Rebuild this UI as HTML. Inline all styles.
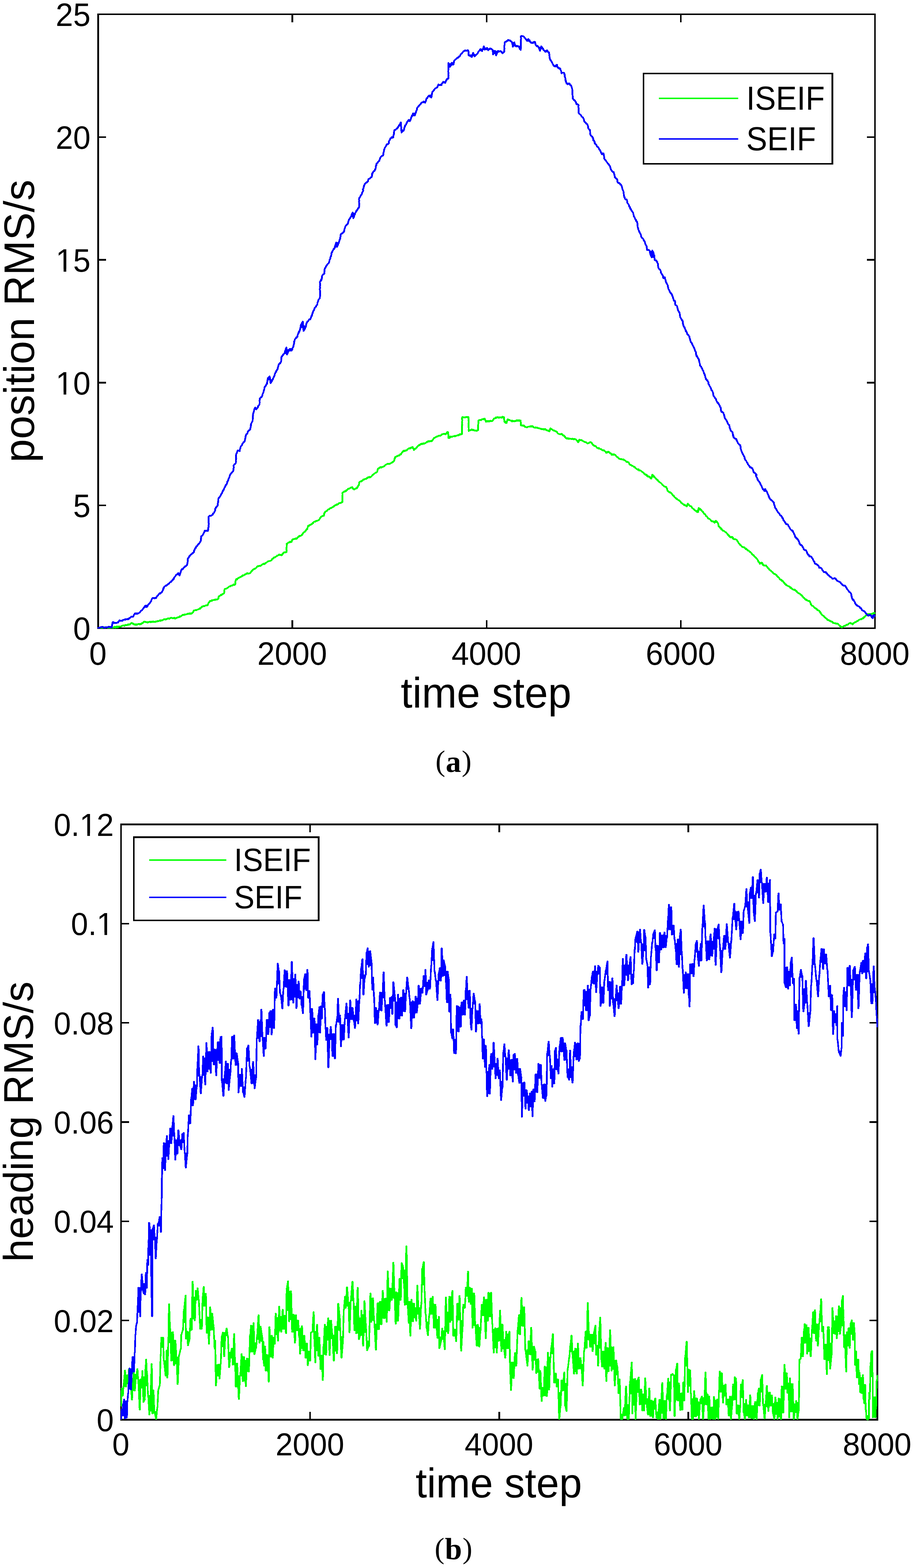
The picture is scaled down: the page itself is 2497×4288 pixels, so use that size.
<!DOCTYPE html>
<html lang="en">
<head>
<meta charset="utf-8">
<title>Position and heading RMS/s: ISEIF vs SEIF</title>
<style>
html,body{margin:0;padding:0;background:#fff;overflow:hidden;}
body{width:2497px;height:4288px;overflow:hidden;}
svg{display:block;}
text{fill:#000;text-rendering:geometricPrecision;}
</style>
</head>
<body>
<svg width="2497" height="4288" viewBox="0 0 2497 4288">
<rect width="2497" height="4288" fill="#fff"/>
<g id="plot-a">
<path d="M266 37h5v1683h-5zM2391 37h4v1683h-4zM266 37h2129v4h-2129zM266 1716h2129v4h-2129zM797 1696h5v20h-5zM797 41h5v20h-5zM1329 1696h4v20h-4zM1329 41h4v20h-4zM1860 1696h4v20h-4zM1860 41h4v20h-4zM271 1380h19v4h-19zM2371 1380h20v4h-20zM271 1044h19v5h-19zM2371 1044h20v5h-20zM271 708h19v5h-19zM2371 708h20v5h-20zM271 373h19v4h-19zM2371 373h20v4h-20z" fill="#000" shape-rendering="crispEdges"/>
<path d="M266.5 1716v2M267.5 1715v4M268.5 1715v4M269.5 1715v4M270.5 1715v4M271.5 1715v4M272.5 1715v4M273.5 1715v4M274.5 1714v5M275.5 1714v5M276.5 1714v5M277.5 1714v5M278.5 1714v5M279.5 1714v5M280.5 1713v6M281.5 1714v5M282.5 1714v5M283.5 1714v5M284.5 1714v5M285.5 1713v6M286.5 1713v6M287.5 1713v6M288.5 1713v6M289.5 1713v5M290.5 1713v5M291.5 1713v5M292.5 1713v5M293.5 1714v5M294.5 1714v5M295.5 1714v5M296.5 1714v5M297.5 1713v6M298.5 1714v5M299.5 1714v5M300.5 1714v5M301.5 1713v6M302.5 1713v6M303.5 1713v6M304.5 1713v6M305.5 1713v6M306.5 1714v5M307.5 1714v5M308.5 1714v5M309.5 1714v5M310.5 1713v6M311.5 1712v6M312.5 1711v7M313.5 1712v6M314.5 1712v7M315.5 1712v7M316.5 1712v6M317.5 1711v7M318.5 1711v7M319.5 1711v7M320.5 1711v7M321.5 1711v7M322.5 1711v7M323.5 1711v7M324.5 1711v6M325.5 1711v5M326.5 1711v5M327.5 1711v5M328.5 1711v5M329.5 1711v5M330.5 1711v5M331.5 1710v6M332.5 1709v6M333.5 1709v5M334.5 1709v5M335.5 1708v5M336.5 1708v5M337.5 1708v5M338.5 1708v5M339.5 1708v6M340.5 1708v6M341.5 1707v7M342.5 1707v6M343.5 1706v6M344.5 1707v5M345.5 1707v5M346.5 1707v5M347.5 1706v6M348.5 1706v6M349.5 1705v6M350.5 1705v6M351.5 1705v6M352.5 1705v6M353.5 1705v6M354.5 1705v5M355.5 1704v6M356.5 1703v7M357.5 1702v7M358.5 1702v5M359.5 1701v6M360.5 1701v6M361.5 1701v7M362.5 1702v6M363.5 1703v5M364.5 1703v6M365.5 1703v7M366.5 1704v6M367.5 1705v5M368.5 1705v6M369.5 1705v6M370.5 1705v6M371.5 1705v6M372.5 1705v6M373.5 1705v6M374.5 1705v6M375.5 1705v6M376.5 1705v5M377.5 1704v5M378.5 1704v5M379.5 1704v5M380.5 1704v5M381.5 1704v6M382.5 1704v6M383.5 1704v6M384.5 1704v5M385.5 1703v6M386.5 1702v7M387.5 1702v7M388.5 1702v5M389.5 1701v6M390.5 1700v7M391.5 1699v7M392.5 1698v7M393.5 1698v6M394.5 1697v6M395.5 1698v5M396.5 1698v5M397.5 1698v5M398.5 1698v6M399.5 1699v5M400.5 1699v5M401.5 1699v5M402.5 1699v6M403.5 1699v6M404.5 1699v6M405.5 1699v5M406.5 1699v5M407.5 1698v6M408.5 1698v5M409.5 1698v5M410.5 1698v5M411.5 1698v6M412.5 1698v6M413.5 1697v7M414.5 1698v5M415.5 1698v5M416.5 1698v5M417.5 1697v6M418.5 1697v6M419.5 1697v6M420.5 1698v5M421.5 1698v5M422.5 1698v5M423.5 1698v5M424.5 1698v5M425.5 1697v6M426.5 1697v6M427.5 1697v5M428.5 1697v5M429.5 1696v6M430.5 1696v6M431.5 1696v5M432.5 1696v5M433.5 1696v5M434.5 1696v5M435.5 1695v5M436.5 1694v6M437.5 1694v6M438.5 1694v6M439.5 1694v7M440.5 1694v6M441.5 1694v5M442.5 1694v5M443.5 1694v5M444.5 1693v6M445.5 1693v5M446.5 1692v6M447.5 1691v6M448.5 1691v5M449.5 1691v5M450.5 1691v5M451.5 1691v6M452.5 1691v6M453.5 1691v5M454.5 1691v5M455.5 1690v6M456.5 1690v6M457.5 1689v6M458.5 1689v5M459.5 1689v5M460.5 1688v6M461.5 1689v5M462.5 1689v6M463.5 1689v6M464.5 1688v6M465.5 1688v5M466.5 1687v6M467.5 1687v5M468.5 1687v5M469.5 1687v5M470.5 1688v5M471.5 1688v5M472.5 1688v5M473.5 1688v5M474.5 1688v5M475.5 1687v6M476.5 1687v6M477.5 1687v7M478.5 1688v6M479.5 1688v6M480.5 1688v6M481.5 1688v5M482.5 1687v6M483.5 1687v5M484.5 1686v6M485.5 1686v5M486.5 1686v5M487.5 1686v5M488.5 1685v5M489.5 1684v6M490.5 1683v7M491.5 1683v7M492.5 1683v6M493.5 1683v6M494.5 1683v5M495.5 1682v6M496.5 1681v6M497.5 1680v6M498.5 1679v6M499.5 1679v6M500.5 1679v5M501.5 1679v5M502.5 1679v5M503.5 1678v7M504.5 1678v6M505.5 1678v5M506.5 1678v5M507.5 1678v5M508.5 1678v5M509.5 1678v4M510.5 1677v5M511.5 1676v6M512.5 1676v6M513.5 1676v5M514.5 1676v5M515.5 1676v5M516.5 1675v6M517.5 1675v6M518.5 1675v6M519.5 1675v6M520.5 1675v6M521.5 1675v6M522.5 1675v6M523.5 1675v6M524.5 1674v6M525.5 1673v7M526.5 1672v7M527.5 1669v9M528.5 1668v9M529.5 1667v9M530.5 1667v8M531.5 1667v5M532.5 1667v5M533.5 1666v5M534.5 1666v5M535.5 1666v5M536.5 1666v5M537.5 1666v5M538.5 1665v6M539.5 1665v5M540.5 1665v4M541.5 1664v5M542.5 1664v5M543.5 1663v5M544.5 1662v6M545.5 1661v7M546.5 1661v6M547.5 1661v6M548.5 1659v8M549.5 1659v7M550.5 1657v7M551.5 1657v7M552.5 1656v7M553.5 1656v6M554.5 1656v5M555.5 1655v6M556.5 1655v5M557.5 1655v5M558.5 1655v5M559.5 1655v5M560.5 1654v6M561.5 1654v5M562.5 1653v5M563.5 1653v5M564.5 1653v5M565.5 1653v5M566.5 1652v6M567.5 1650v8M568.5 1647v10M569.5 1646v11M570.5 1645v10M571.5 1643v8M572.5 1642v8M573.5 1641v8M574.5 1641v7M575.5 1641v5M576.5 1641v5M577.5 1640v6M578.5 1639v7M579.5 1639v6M580.5 1639v6M581.5 1639v6M582.5 1639v5M583.5 1639v4M584.5 1638v5M585.5 1638v5M586.5 1638v5M587.5 1637v6M588.5 1637v6M589.5 1637v6M590.5 1637v5M591.5 1637v5M592.5 1637v5M593.5 1637v5M594.5 1636v6M595.5 1632v9M596.5 1629v12M597.5 1629v11M598.5 1628v11M599.5 1628v10M600.5 1627v6M601.5 1626v6M602.5 1625v7M603.5 1624v6M604.5 1624v6M605.5 1624v6M606.5 1623v7M607.5 1622v7M608.5 1622v6M609.5 1622v5M610.5 1621v6M611.5 1613v13M612.5 1610v15M613.5 1609v16M614.5 1608v16M615.5 1608v13M616.5 1608v5M617.5 1608v4M618.5 1607v5M619.5 1607v5M620.5 1606v6M621.5 1605v6M622.5 1605v5M623.5 1604v6M624.5 1603v6M625.5 1602v6M626.5 1602v5M627.5 1601v5M628.5 1601v5M629.5 1600v6M630.5 1600v6M631.5 1599v6M632.5 1599v5M633.5 1599v5M634.5 1599v5M635.5 1598v6M636.5 1597v6M637.5 1596v7M638.5 1596v6M639.5 1596v6M640.5 1596v6M641.5 1590v4M641.5 1595v7M642.5 1586v16M643.5 1584v17M644.5 1582v18M645.5 1581v18M646.5 1581v9M646.5 1594v1M647.5 1581v6M648.5 1581v6M649.5 1579v8M650.5 1579v7M651.5 1578v6M652.5 1578v5M653.5 1577v6M654.5 1577v5M655.5 1576v6M656.5 1576v5M657.5 1575v6M658.5 1575v5M659.5 1574v6M660.5 1573v6M661.5 1572v7M662.5 1571v7M663.5 1571v7M664.5 1571v6M665.5 1571v5M666.5 1571v5M667.5 1570v6M668.5 1569v6M669.5 1568v6M670.5 1568v6M671.5 1568v5M672.5 1566v7M673.5 1566v6M674.5 1566v6M675.5 1565v6M676.5 1565v6M677.5 1565v6M678.5 1566v5M679.5 1566v5M680.5 1566v5M681.5 1566v5M682.5 1565v5M683.5 1565v5M684.5 1563v7M685.5 1561v8M686.5 1560v8M687.5 1559v8M688.5 1558v7M689.5 1557v7M690.5 1556v7M691.5 1555v8M692.5 1555v6M693.5 1554v6M694.5 1553v6M695.5 1553v6M696.5 1553v5M697.5 1552v6M698.5 1552v6M699.5 1551v5M700.5 1549v7M701.5 1548v7M702.5 1547v7M703.5 1546v7M704.5 1546v6M705.5 1546v5M706.5 1546v5M707.5 1545v6M708.5 1545v5M709.5 1545v5M710.5 1545v5M711.5 1545v5M712.5 1544v6M713.5 1544v6M714.5 1543v6M715.5 1542v6M716.5 1541v6M717.5 1541v6M718.5 1540v5M719.5 1540v5M720.5 1539v6M721.5 1539v6M722.5 1539v6M723.5 1539v6M724.5 1538v7M725.5 1537v7M726.5 1537v6M727.5 1537v5M728.5 1536v5M729.5 1535v6M730.5 1534v6M731.5 1533v6M732.5 1533v5M733.5 1533v5M734.5 1532v5M735.5 1532v5M736.5 1532v5M737.5 1532v4M738.5 1532v4M739.5 1531v5M740.5 1531v5M741.5 1529v6M742.5 1527v8M743.5 1526v8M744.5 1526v8M745.5 1525v6M746.5 1524v7M747.5 1523v7M748.5 1522v7M749.5 1522v6M750.5 1522v5M751.5 1521v6M752.5 1521v6M753.5 1520v6M754.5 1520v5M755.5 1519v5M756.5 1517v7M757.5 1517v6M758.5 1517v6M759.5 1517v5M760.5 1516v5M761.5 1515v6M762.5 1514v6M763.5 1514v6M764.5 1514v6M765.5 1515v5M766.5 1515v5M767.5 1515v5M768.5 1515v6M769.5 1515v6M770.5 1514v7M771.5 1512v8M772.5 1511v9M773.5 1511v8M774.5 1509v8M775.5 1509v7M776.5 1508v7M777.5 1508v5M778.5 1508v5M779.5 1508v5M780.5 1508v5M781.5 1487v1M781.5 1496v9M781.5 1506v7M782.5 1485v28M783.5 1485v27M784.5 1484v28M785.5 1484v27M786.5 1482v10M786.5 1495v1M786.5 1505v1M787.5 1482v6M788.5 1481v6M789.5 1481v5M790.5 1481v5M791.5 1479v7M792.5 1479v6M793.5 1479v6M794.5 1479v6M795.5 1479v6M796.5 1477v8M797.5 1474v10M798.5 1474v10M799.5 1473v10M800.5 1472v8M801.5 1472v6M802.5 1472v5M803.5 1472v5M804.5 1472v5M805.5 1471v5M806.5 1471v5M807.5 1470v6M808.5 1470v6M809.5 1470v6M810.5 1470v6M811.5 1469v7M812.5 1468v7M813.5 1467v8M814.5 1466v7M815.5 1466v6M816.5 1464v7M817.5 1463v7M818.5 1463v7M819.5 1463v6M820.5 1463v5M821.5 1463v5M822.5 1463v5M823.5 1461v6M824.5 1460v7M825.5 1459v7M826.5 1457v8M827.5 1456v9M828.5 1455v9M829.5 1454v8M830.5 1453v7M831.5 1453v6M832.5 1452v5M833.5 1450v7M834.5 1449v8M835.5 1448v8M836.5 1446v8M837.5 1445v8M838.5 1444v9M839.5 1441v9M840.5 1437v13M841.5 1436v13M842.5 1435v13M843.5 1435v8M844.5 1435v6M845.5 1434v7M846.5 1433v7M847.5 1433v6M848.5 1433v5M849.5 1432v6M850.5 1431v6M851.5 1431v6M852.5 1430v6M853.5 1428v8M854.5 1428v7M855.5 1427v7M856.5 1426v7M857.5 1425v8M858.5 1425v7M859.5 1424v5M860.5 1424v5M861.5 1424v5M862.5 1423v6M863.5 1422v7M864.5 1422v6M865.5 1422v5M866.5 1422v5M867.5 1422v5M868.5 1421v5M869.5 1421v5M870.5 1420v5M871.5 1419v6M872.5 1418v7M873.5 1415v9M874.5 1414v9M875.5 1413v8M876.5 1411v9M877.5 1411v7M878.5 1410v7M879.5 1410v6M880.5 1409v5M881.5 1409v5M882.5 1408v6M883.5 1408v5M884.5 1403v10M885.5 1401v12M886.5 1400v13M887.5 1398v14M888.5 1397v12M889.5 1397v7M890.5 1396v8M891.5 1396v5M892.5 1395v5M893.5 1394v6M894.5 1393v7M895.5 1392v7M896.5 1391v7M897.5 1391v6M898.5 1390v5M899.5 1390v5M900.5 1389v6M901.5 1388v7M902.5 1387v7M903.5 1387v5M904.5 1387v5M905.5 1387v5M906.5 1386v6M907.5 1385v6M908.5 1385v5M909.5 1384v6M910.5 1383v6M911.5 1382v7M912.5 1382v6M913.5 1381v7M914.5 1380v7M915.5 1380v6M916.5 1379v6M917.5 1379v5M918.5 1378v6M919.5 1377v7M920.5 1377v6M921.5 1377v6M922.5 1377v6M923.5 1376v6M924.5 1375v6M925.5 1374v7M926.5 1374v7M927.5 1374v5M928.5 1373v5M929.5 1373v5M930.5 1373v5M931.5 1373v5M932.5 1372v6M933.5 1371v6M934.5 1347v4M934.5 1353v24M935.5 1345v31M936.5 1345v31M937.5 1344v31M938.5 1344v30M939.5 1342v6M940.5 1342v6M941.5 1341v6M942.5 1341v6M943.5 1341v6M944.5 1340v6M945.5 1339v7M946.5 1338v8M947.5 1338v7M948.5 1338v6M949.5 1336v7M950.5 1335v7M951.5 1334v7M952.5 1334v6M953.5 1334v5M954.5 1334v5M955.5 1333v6M956.5 1333v5M957.5 1332v6M958.5 1331v6M959.5 1331v5M960.5 1331v5M961.5 1330v6M962.5 1330v6M963.5 1330v8M964.5 1330v9M965.5 1331v8M966.5 1333v7M967.5 1335v6M968.5 1335v6M969.5 1335v6M970.5 1335v5M971.5 1334v6M972.5 1333v6M973.5 1333v5M974.5 1332v6M975.5 1330v8M976.5 1330v8M977.5 1327v10M978.5 1326v10M979.5 1324v10M980.5 1318v15M981.5 1317v13M982.5 1316v13M983.5 1315v13M984.5 1315v8M985.5 1314v5M986.5 1314v5M987.5 1313v6M988.5 1313v6M989.5 1312v7M990.5 1312v6M991.5 1310v7M992.5 1309v7M993.5 1309v7M994.5 1309v5M995.5 1308v6M996.5 1308v6M997.5 1308v5M998.5 1308v4M999.5 1307v5M1000.5 1307v5M1001.5 1306v6M1002.5 1305v7M1003.5 1304v7M1004.5 1304v6M1005.5 1303v7M1006.5 1303v6M1007.5 1303v5M1008.5 1302v6M1009.5 1301v7M1010.5 1302v6M1011.5 1302v6M1012.5 1302v6M1013.5 1302v5M1014.5 1301v6M1015.5 1300v6M1016.5 1298v7M1017.5 1297v7M1018.5 1296v7M1019.5 1296v6M1020.5 1295v6M1021.5 1294v7M1022.5 1293v6M1023.5 1293v5M1024.5 1292v6M1025.5 1291v6M1026.5 1290v6M1027.5 1290v5M1028.5 1290v5M1029.5 1289v6M1030.5 1284v10M1031.5 1281v12M1032.5 1280v12M1033.5 1279v13M1034.5 1278v10M1035.5 1278v6M1036.5 1278v6M1037.5 1276v7M1038.5 1276v6M1039.5 1275v6M1040.5 1275v6M1041.5 1275v6M1042.5 1275v6M1043.5 1275v6M1044.5 1275v6M1045.5 1275v5M1046.5 1274v5M1047.5 1274v5M1048.5 1273v6M1049.5 1273v5M1050.5 1272v6M1051.5 1271v6M1052.5 1270v7M1053.5 1269v7M1054.5 1269v5M1055.5 1268v5M1056.5 1268v5M1057.5 1267v5M1058.5 1266v6M1059.5 1266v5M1060.5 1266v5M1061.5 1266v5M1062.5 1266v5M1063.5 1266v5M1064.5 1266v5M1065.5 1266v5M1066.5 1265v6M1067.5 1265v5M1068.5 1264v6M1069.5 1264v5M1070.5 1263v5M1071.5 1262v6M1072.5 1261v7M1073.5 1261v6M1074.5 1260v6M1075.5 1259v7M1076.5 1254v1M1076.5 1256v9M1077.5 1252v12M1078.5 1249v14M1079.5 1248v14M1080.5 1247v13M1081.5 1247v9M1082.5 1247v7M1083.5 1246v6M1084.5 1245v6M1085.5 1245v5M1086.5 1245v5M1087.5 1244v6M1088.5 1243v6M1089.5 1243v6M1090.5 1243v5M1091.5 1243v5M1092.5 1241v7M1093.5 1240v8M1094.5 1240v7M1095.5 1239v6M1096.5 1238v7M1097.5 1236v9M1098.5 1235v9M1099.5 1234v8M1100.5 1232v8M1101.5 1232v7M1102.5 1231v7M1103.5 1230v7M1104.5 1230v6M1105.5 1230v6M1106.5 1230v6M1107.5 1230v6M1108.5 1230v5M1109.5 1229v6M1110.5 1229v6M1111.5 1229v5M1112.5 1227v7M1113.5 1227v7M1114.5 1226v7M1115.5 1225v6M1116.5 1224v7M1117.5 1224v5M1118.5 1224v5M1119.5 1223v6M1120.5 1223v6M1121.5 1223v6M1122.5 1222v7M1123.5 1222v6M1124.5 1221v6M1125.5 1221v6M1126.5 1221v6M1127.5 1220v7M1128.5 1220v8M1129.5 1220v10M1130.5 1221v12M1131.5 1224v9M1132.5 1225v8M1133.5 1225v8M1134.5 1225v6M1135.5 1225v5M1136.5 1223v7M1137.5 1223v6M1138.5 1221v8M1139.5 1220v7M1140.5 1219v7M1141.5 1218v8M1142.5 1217v7M1143.5 1216v6M1144.5 1215v7M1145.5 1215v6M1146.5 1214v6M1147.5 1214v6M1148.5 1213v7M1149.5 1212v7M1150.5 1212v6M1151.5 1211v6M1152.5 1211v6M1153.5 1211v6M1154.5 1211v6M1155.5 1211v6M1156.5 1210v6M1157.5 1210v6M1158.5 1210v6M1159.5 1210v6M1160.5 1210v6M1161.5 1210v5M1162.5 1210v5M1163.5 1209v5M1164.5 1208v6M1165.5 1207v6M1166.5 1206v6M1167.5 1206v6M1168.5 1205v7M1169.5 1205v6M1170.5 1204v6M1171.5 1204v6M1172.5 1204v6M1173.5 1204v6M1174.5 1204v6M1175.5 1204v5M1176.5 1204v5M1177.5 1204v5M1178.5 1203v6M1179.5 1203v6M1180.5 1203v6M1181.5 1202v7M1182.5 1200v8M1183.5 1199v8M1184.5 1197v9M1185.5 1196v8M1186.5 1195v8M1187.5 1195v6M1188.5 1195v5M1189.5 1194v6M1190.5 1193v6M1191.5 1193v5M1192.5 1192v6M1193.5 1192v5M1194.5 1191v6M1195.5 1191v5M1196.5 1191v5M1197.5 1190v6M1198.5 1190v6M1199.5 1189v5M1200.5 1189v5M1201.5 1189v5M1202.5 1189v5M1203.5 1189v5M1204.5 1189v5M1205.5 1187v7M1206.5 1186v7M1207.5 1186v6M1208.5 1185v7M1209.5 1185v5M1210.5 1185v5M1211.5 1185v5M1212.5 1184v5M1213.5 1184v5M1214.5 1184v5M1215.5 1184v5M1216.5 1184v6M1217.5 1184v6M1218.5 1184v6M1219.5 1183v7M1220.5 1181v8M1221.5 1180v8M1222.5 1179v9M1223.5 1179v9M1224.5 1179v20M1225.5 1179v21M1226.5 1180v20M1227.5 1181v19M1228.5 1188v12M1229.5 1192v8M1230.5 1192v8M1231.5 1192v7M1232.5 1191v7M1233.5 1191v6M1234.5 1192v5M1235.5 1192v5M1236.5 1192v5M1237.5 1191v6M1238.5 1191v5M1239.5 1191v5M1240.5 1191v4M1241.5 1190v5M1242.5 1189v6M1243.5 1190v6M1244.5 1190v6M1245.5 1190v5M1246.5 1189v6M1247.5 1189v5M1248.5 1189v5M1249.5 1189v5M1250.5 1188v5M1251.5 1188v5M1252.5 1187v6M1253.5 1187v6M1254.5 1187v6M1255.5 1186v7M1256.5 1185v7M1257.5 1185v6M1258.5 1185v6M1259.5 1185v6M1260.5 1185v5M1261.5 1142v6M1261.5 1153v3M1261.5 1158v3M1261.5 1162v28M1262.5 1139v51M1263.5 1139v51M1264.5 1138v51M1265.5 1138v50M1266.5 1138v6M1266.5 1147v3M1266.5 1156v1M1266.5 1161v2M1267.5 1139v5M1268.5 1139v5M1269.5 1139v5M1270.5 1139v5M1271.5 1139v5M1272.5 1139v5M1273.5 1138v6M1274.5 1138v5M1275.5 1138v5M1276.5 1138v5M1277.5 1138v5M1278.5 1138v6M1279.5 1138v15M1279.5 1155v15M1279.5 1175v2M1280.5 1138v43M1281.5 1138v43M1282.5 1139v42M1283.5 1140v2M1283.5 1143v38M1284.5 1174v5M1285.5 1174v5M1286.5 1174v5M1287.5 1173v6M1288.5 1172v7M1289.5 1172v6M1290.5 1172v6M1291.5 1172v6M1292.5 1173v6M1293.5 1173v6M1294.5 1173v6M1295.5 1173v6M1296.5 1174v5M1297.5 1174v6M1298.5 1175v5M1299.5 1175v5M1300.5 1175v5M1301.5 1175v5M1302.5 1175v5M1303.5 1175v6M1304.5 1175v6M1305.5 1161v19M1306.5 1149v30M1307.5 1148v31M1308.5 1147v31M1309.5 1147v31M1310.5 1147v12M1311.5 1146v5M1312.5 1146v5M1313.5 1146v5M1314.5 1146v5M1315.5 1146v6M1316.5 1145v6M1317.5 1144v7M1318.5 1144v5M1319.5 1144v5M1320.5 1144v5M1321.5 1143v6M1322.5 1143v6M1323.5 1143v6M1324.5 1143v6M1325.5 1142v9M1326.5 1143v10M1327.5 1143v12M1328.5 1146v10M1329.5 1148v8M1330.5 1149v6M1331.5 1149v6M1332.5 1149v6M1333.5 1149v6M1334.5 1149v6M1335.5 1149v6M1336.5 1149v6M1337.5 1149v6M1338.5 1149v6M1339.5 1149v6M1340.5 1148v6M1341.5 1148v6M1342.5 1149v5M1343.5 1149v5M1344.5 1149v5M1345.5 1149v5M1346.5 1147v7M1347.5 1146v7M1348.5 1144v9M1349.5 1143v8M1350.5 1142v8M1351.5 1142v7M1352.5 1142v5M1353.5 1141v5M1354.5 1140v6M1355.5 1139v7M1356.5 1139v7M1357.5 1139v6M1358.5 1139v6M1359.5 1139v5M1360.5 1138v6M1361.5 1138v6M1362.5 1139v5M1363.5 1139v6M1364.5 1139v6M1365.5 1139v6M1366.5 1139v5M1367.5 1139v5M1368.5 1139v5M1369.5 1139v5M1370.5 1139v5M1371.5 1139v6M1372.5 1138v7M1373.5 1137v7M1374.5 1137v7M1375.5 1138v6M1376.5 1138v10M1377.5 1138v16M1378.5 1138v18M1379.5 1139v17M1380.5 1140v18M1381.5 1148v10M1382.5 1151v8M1383.5 1151v8M1384.5 1151v8M1385.5 1147v12M1386.5 1146v13M1387.5 1145v13M1388.5 1144v10M1389.5 1144v7M1390.5 1145v6M1391.5 1146v5M1392.5 1146v5M1393.5 1146v5M1394.5 1146v6M1395.5 1147v5M1396.5 1148v5M1397.5 1148v5M1398.5 1148v6M1399.5 1148v7M1400.5 1148v7M1401.5 1148v7M1402.5 1148v6M1403.5 1149v5M1404.5 1149v5M1405.5 1149v6M1406.5 1149v6M1407.5 1149v5M1408.5 1149v5M1409.5 1149v5M1410.5 1148v6M1411.5 1147v7M1412.5 1147v6M1413.5 1147v6M1414.5 1147v6M1415.5 1147v6M1416.5 1147v6M1417.5 1147v6M1418.5 1147v6M1419.5 1147v6M1420.5 1147v6M1421.5 1147v7M1422.5 1147v17M1423.5 1148v17M1424.5 1148v18M1425.5 1148v18M1426.5 1154v12M1427.5 1161v5M1428.5 1161v5M1429.5 1161v6M1430.5 1161v6M1431.5 1161v6M1432.5 1161v6M1433.5 1161v8M1434.5 1162v7M1435.5 1163v7M1436.5 1164v6M1437.5 1165v5M1438.5 1166v4M1439.5 1166v5M1440.5 1166v5M1441.5 1166v5M1442.5 1165v6M1443.5 1165v5M1444.5 1165v4M1445.5 1165v4M1446.5 1164v5M1447.5 1164v5M1448.5 1164v5M1449.5 1164v5M1450.5 1163v6M1451.5 1163v6M1452.5 1163v6M1453.5 1163v6M1454.5 1163v6M1455.5 1163v6M1456.5 1163v6M1457.5 1163v7M1458.5 1164v7M1459.5 1165v6M1460.5 1166v5M1461.5 1167v5M1462.5 1167v5M1463.5 1167v5M1464.5 1166v6M1465.5 1166v6M1466.5 1167v5M1467.5 1167v5M1468.5 1167v5M1469.5 1167v6M1470.5 1167v6M1471.5 1168v5M1472.5 1168v5M1473.5 1169v5M1474.5 1169v5M1475.5 1169v5M1476.5 1169v5M1477.5 1170v5M1478.5 1170v5M1479.5 1170v6M1480.5 1170v6M1481.5 1171v5M1482.5 1171v5M1483.5 1171v5M1484.5 1171v5M1485.5 1171v6M1486.5 1171v6M1487.5 1171v6M1488.5 1171v6M1489.5 1171v6M1490.5 1171v6M1491.5 1171v6M1492.5 1171v7M1493.5 1172v7M1494.5 1173v6M1495.5 1174v5M1496.5 1174v5M1497.5 1175v5M1498.5 1175v6M1499.5 1175v6M1500.5 1175v6M1501.5 1175v7M1502.5 1172v10M1503.5 1170v12M1504.5 1169v12M1505.5 1169v10M1506.5 1169v7M1507.5 1170v6M1508.5 1171v5M1509.5 1171v6M1510.5 1172v6M1511.5 1173v6M1512.5 1173v6M1513.5 1174v6M1514.5 1175v5M1515.5 1175v5M1516.5 1175v6M1517.5 1175v6M1518.5 1176v5M1519.5 1177v5M1520.5 1177v6M1521.5 1177v6M1522.5 1178v7M1523.5 1179v7M1524.5 1179v8M1525.5 1180v8M1526.5 1183v5M1527.5 1184v5M1528.5 1184v5M1529.5 1185v4M1530.5 1185v5M1531.5 1185v5M1532.5 1185v5M1533.5 1185v5M1534.5 1184v6M1535.5 1184v6M1536.5 1184v6M1537.5 1185v7M1538.5 1185v8M1539.5 1186v7M1540.5 1188v6M1541.5 1188v6M1542.5 1188v8M1543.5 1189v8M1544.5 1190v8M1545.5 1191v8M1546.5 1192v8M1547.5 1193v8M1548.5 1195v6M1549.5 1196v6M1550.5 1196v6M1551.5 1196v6M1552.5 1196v6M1553.5 1196v6M1554.5 1196v6M1555.5 1197v6M1556.5 1197v6M1557.5 1197v5M1558.5 1197v5M1559.5 1197v5M1560.5 1198v4M1561.5 1198v5M1562.5 1198v5M1563.5 1198v5M1564.5 1197v6M1565.5 1197v6M1566.5 1198v5M1567.5 1198v5M1568.5 1198v6M1569.5 1198v6M1570.5 1198v6M1571.5 1198v5M1572.5 1198v5M1573.5 1199v4M1574.5 1199v6M1575.5 1199v7M1576.5 1200v7M1577.5 1201v7M1578.5 1203v7M1579.5 1203v8M1580.5 1203v9M1581.5 1203v9M1582.5 1201v10M1583.5 1200v11M1584.5 1200v9M1585.5 1200v7M1586.5 1201v5M1587.5 1201v5M1588.5 1201v5M1589.5 1201v5M1590.5 1201v6M1591.5 1201v6M1592.5 1202v6M1593.5 1203v5M1594.5 1203v6M1595.5 1204v5M1596.5 1205v5M1597.5 1205v6M1598.5 1206v5M1599.5 1206v5M1600.5 1206v5M1601.5 1207v5M1602.5 1207v5M1603.5 1207v6M1604.5 1208v6M1605.5 1208v7M1606.5 1210v5M1607.5 1210v5M1608.5 1210v5M1609.5 1209v5M1610.5 1208v6M1611.5 1208v6M1612.5 1207v6M1613.5 1207v5M1614.5 1207v5M1615.5 1206v6M1616.5 1207v6M1617.5 1208v7M1618.5 1208v8M1619.5 1209v9M1620.5 1210v9M1621.5 1212v7M1622.5 1214v6M1623.5 1214v7M1624.5 1215v7M1625.5 1216v6M1626.5 1217v5M1627.5 1217v5M1628.5 1217v6M1629.5 1218v6M1630.5 1218v7M1631.5 1219v8M1632.5 1221v6M1633.5 1222v5M1634.5 1223v5M1635.5 1223v6M1636.5 1223v6M1637.5 1222v7M1638.5 1223v6M1639.5 1223v6M1640.5 1225v5M1641.5 1225v5M1642.5 1226v5M1643.5 1226v5M1644.5 1226v6M1645.5 1226v7M1646.5 1227v6M1647.5 1228v6M1648.5 1229v5M1649.5 1229v5M1650.5 1229v5M1651.5 1228v7M1652.5 1229v6M1653.5 1230v6M1654.5 1231v6M1655.5 1232v7M1656.5 1233v7M1657.5 1233v8M1658.5 1234v7M1659.5 1234v6M1660.5 1234v6M1661.5 1233v7M1662.5 1233v6M1663.5 1233v6M1664.5 1233v6M1665.5 1233v6M1666.5 1234v7M1667.5 1235v7M1668.5 1235v7M1669.5 1237v5M1670.5 1237v8M1671.5 1238v8M1672.5 1238v8M1673.5 1240v6M1674.5 1240v6M1675.5 1240v6M1676.5 1240v6M1677.5 1240v6M1678.5 1240v6M1679.5 1240v6M1680.5 1240v6M1681.5 1241v5M1682.5 1242v5M1683.5 1242v7M1684.5 1242v8M1685.5 1244v7M1686.5 1245v7M1687.5 1247v5M1688.5 1247v6M1689.5 1248v6M1690.5 1248v7M1691.5 1249v7M1692.5 1251v6M1693.5 1251v6M1694.5 1252v5M1695.5 1253v5M1696.5 1253v5M1697.5 1253v5M1698.5 1253v5M1699.5 1253v5M1700.5 1253v6M1701.5 1254v5M1702.5 1254v5M1703.5 1254v5M1704.5 1254v5M1705.5 1254v7M1706.5 1254v7M1707.5 1255v6M1708.5 1256v5M1709.5 1257v5M1710.5 1257v6M1711.5 1258v7M1712.5 1259v6M1713.5 1260v6M1714.5 1260v6M1715.5 1260v6M1716.5 1261v5M1717.5 1261v5M1718.5 1262v6M1719.5 1262v9M1720.5 1262v10M1721.5 1264v8M1722.5 1266v8M1723.5 1268v6M1724.5 1269v5M1725.5 1269v5M1726.5 1269v7M1727.5 1270v6M1728.5 1271v5M1729.5 1271v5M1730.5 1272v5M1731.5 1272v6M1732.5 1273v6M1733.5 1274v5M1734.5 1274v5M1735.5 1274v7M1736.5 1275v7M1737.5 1275v7M1738.5 1277v6M1739.5 1278v6M1740.5 1279v6M1741.5 1280v5M1742.5 1281v5M1743.5 1281v6M1744.5 1281v6M1745.5 1281v6M1746.5 1281v8M1747.5 1281v8M1748.5 1282v7M1749.5 1284v5M1750.5 1284v5M1751.5 1284v5M1752.5 1285v5M1753.5 1285v6M1754.5 1286v6M1755.5 1287v6M1756.5 1288v5M1757.5 1288v6M1758.5 1289v6M1759.5 1290v6M1760.5 1290v8M1761.5 1291v7M1762.5 1292v7M1763.5 1294v6M1764.5 1294v7M1765.5 1295v6M1766.5 1295v6M1767.5 1296v7M1768.5 1296v8M1769.5 1296v8M1770.5 1297v8M1771.5 1299v7M1772.5 1299v7M1773.5 1300v6M1774.5 1301v5M1775.5 1301v6M1776.5 1301v7M1777.5 1302v8M1778.5 1303v7M1779.5 1303v8M1780.5 1303v8M1781.5 1298v13M1782.5 1296v15M1783.5 1296v14M1784.5 1296v10M1785.5 1296v10M1786.5 1297v9M1787.5 1298v8M1788.5 1299v8M1789.5 1300v8M1790.5 1301v7M1791.5 1302v8M1792.5 1304v7M1793.5 1305v7M1794.5 1306v7M1795.5 1307v7M1796.5 1308v7M1797.5 1309v7M1798.5 1310v7M1799.5 1310v8M1800.5 1311v8M1801.5 1313v7M1802.5 1314v6M1803.5 1315v6M1804.5 1316v6M1805.5 1317v5M1806.5 1318v5M1807.5 1318v6M1808.5 1319v6M1809.5 1320v7M1810.5 1321v7M1811.5 1322v7M1812.5 1323v6M1813.5 1324v6M1814.5 1325v7M1815.5 1326v6M1816.5 1327v5M1817.5 1328v5M1818.5 1328v6M1819.5 1329v5M1820.5 1329v5M1821.5 1329v8M1822.5 1329v10M1823.5 1330v13M1824.5 1331v13M1825.5 1334v11M1826.5 1335v11M1827.5 1340v7M1828.5 1341v6M1829.5 1342v7M1830.5 1343v6M1831.5 1343v6M1832.5 1344v5M1833.5 1344v6M1834.5 1344v7M1835.5 1345v7M1836.5 1346v7M1837.5 1347v8M1838.5 1348v8M1839.5 1349v8M1840.5 1351v7M1841.5 1352v7M1842.5 1353v7M1843.5 1353v8M1844.5 1354v8M1845.5 1356v7M1846.5 1358v6M1847.5 1359v6M1848.5 1359v7M1849.5 1360v7M1850.5 1361v6M1851.5 1361v7M1852.5 1362v6M1853.5 1363v6M1854.5 1364v6M1855.5 1365v5M1856.5 1366v5M1857.5 1366v6M1858.5 1366v7M1859.5 1367v6M1860.5 1368v8M1861.5 1369v8M1862.5 1370v7M1863.5 1371v7M1864.5 1373v6M1865.5 1374v6M1866.5 1374v6M1867.5 1375v6M1868.5 1376v6M1869.5 1377v6M1870.5 1377v7M1871.5 1378v6M1872.5 1378v6M1873.5 1378v6M1874.5 1379v6M1875.5 1380v6M1876.5 1380v7M1877.5 1380v7M1878.5 1377v10M1879.5 1376v11M1880.5 1375v11M1881.5 1375v8M1882.5 1375v8M1883.5 1377v6M1884.5 1378v7M1885.5 1378v8M1886.5 1380v6M1887.5 1381v5M1888.5 1382v5M1889.5 1382v5M1890.5 1382v8M1891.5 1383v8M1892.5 1383v8M1893.5 1385v7M1894.5 1387v6M1895.5 1388v6M1896.5 1389v6M1897.5 1390v6M1898.5 1390v7M1899.5 1391v7M1900.5 1392v6M1901.5 1393v6M1902.5 1394v6M1903.5 1395v6M1904.5 1395v7M1905.5 1395v7M1906.5 1395v7M1907.5 1393v10M1908.5 1389v14M1909.5 1387v16M1910.5 1387v15M1911.5 1387v14M1912.5 1387v9M1913.5 1389v7M1914.5 1389v7M1915.5 1389v8M1916.5 1390v7M1917.5 1391v7M1918.5 1392v8M1919.5 1393v7M1920.5 1394v8M1921.5 1396v7M1922.5 1397v7M1923.5 1397v9M1924.5 1398v9M1925.5 1400v8M1926.5 1402v6M1927.5 1403v6M1928.5 1404v8M1929.5 1404v9M1930.5 1405v9M1931.5 1407v7M1932.5 1409v6M1933.5 1410v7M1934.5 1410v9M1935.5 1412v8M1936.5 1413v7M1937.5 1415v6M1938.5 1415v6M1939.5 1416v5M1940.5 1417v5M1941.5 1417v6M1942.5 1418v7M1943.5 1419v7M1944.5 1420v7M1945.5 1421v7M1946.5 1422v6M1947.5 1423v5M1948.5 1423v5M1949.5 1423v6M1950.5 1423v6M1951.5 1424v6M1952.5 1424v7M1953.5 1424v8M1954.5 1424v8M1955.5 1423v9M1956.5 1422v8M1957.5 1422v8M1958.5 1422v8M1959.5 1422v8M1960.5 1424v6M1961.5 1424v8M1962.5 1425v10M1962.5 1436v1M1963.5 1427v14M1964.5 1428v14M1965.5 1430v12M1966.5 1432v11M1967.5 1437v8M1968.5 1438v8M1969.5 1439v7M1970.5 1441v8M1971.5 1441v9M1972.5 1442v8M1973.5 1443v8M1974.5 1444v8M1975.5 1445v8M1976.5 1447v7M1977.5 1448v6M1978.5 1449v5M1979.5 1449v5M1980.5 1450v5M1981.5 1450v6M1982.5 1451v6M1983.5 1452v6M1984.5 1453v5M1985.5 1453v6M1986.5 1454v6M1987.5 1454v8M1988.5 1456v8M1989.5 1457v8M1990.5 1458v7M1991.5 1459v8M1992.5 1460v8M1993.5 1461v8M1994.5 1462v8M1995.5 1463v8M1996.5 1464v7M1997.5 1466v6M1998.5 1466v6M1999.5 1466v6M2000.5 1466v6M2001.5 1466v6M2002.5 1466v8M2003.5 1466v9M2004.5 1467v9M2005.5 1468v8M2006.5 1469v8M2007.5 1472v5M2008.5 1472v5M2009.5 1472v5M2010.5 1472v5M2011.5 1472v5M2012.5 1473v5M2013.5 1473v5M2014.5 1474v7M2015.5 1474v8M2016.5 1475v8M2017.5 1476v9M2018.5 1478v9M2019.5 1479v9M2020.5 1481v8M2021.5 1483v7M2022.5 1485v7M2023.5 1485v8M2024.5 1486v7M2025.5 1488v6M2026.5 1488v7M2027.5 1489v8M2028.5 1491v6M2029.5 1492v6M2030.5 1493v5M2031.5 1493v6M2032.5 1494v5M2033.5 1494v5M2034.5 1494v5M2035.5 1494v7M2036.5 1495v6M2037.5 1495v8M2038.5 1496v8M2039.5 1498v6M2040.5 1498v6M2041.5 1498v7M2042.5 1499v7M2043.5 1500v7M2044.5 1501v7M2045.5 1502v6M2046.5 1503v5M2047.5 1503v6M2048.5 1504v7M2049.5 1504v7M2050.5 1506v6M2051.5 1507v5M2052.5 1507v6M2053.5 1507v8M2054.5 1509v8M2055.5 1510v7M2056.5 1511v8M2057.5 1512v7M2058.5 1513v7M2059.5 1515v6M2060.5 1515v7M2061.5 1516v7M2062.5 1516v8M2063.5 1518v7M2064.5 1519v7M2065.5 1521v6M2066.5 1521v7M2067.5 1522v7M2068.5 1523v7M2069.5 1524v7M2070.5 1525v8M2071.5 1527v9M2072.5 1527v11M2073.5 1529v10M2074.5 1531v8M2075.5 1532v10M2076.5 1535v9M2077.5 1535v9M2078.5 1537v7M2079.5 1537v7M2080.5 1537v6M2081.5 1537v6M2082.5 1536v7M2083.5 1536v8M2084.5 1537v9M2085.5 1537v10M2086.5 1538v10M2087.5 1540v8M2088.5 1542v7M2089.5 1543v6M2090.5 1544v5M2091.5 1544v5M2092.5 1544v5M2093.5 1544v5M2094.5 1544v6M2095.5 1544v7M2096.5 1544v8M2097.5 1546v8M2098.5 1548v7M2099.5 1548v8M2100.5 1549v8M2101.5 1551v7M2102.5 1552v8M2103.5 1553v7M2104.5 1553v8M2105.5 1556v6M2106.5 1557v6M2107.5 1557v6M2108.5 1558v7M2109.5 1559v6M2110.5 1559v7M2111.5 1561v6M2112.5 1562v7M2113.5 1562v7M2114.5 1563v7M2115.5 1564v7M2116.5 1566v6M2117.5 1567v5M2118.5 1567v5M2119.5 1567v6M2120.5 1568v6M2121.5 1568v6M2122.5 1569v7M2123.5 1570v7M2124.5 1570v8M2125.5 1571v9M2126.5 1573v7M2127.5 1574v6M2128.5 1575v6M2129.5 1576v7M2130.5 1577v8M2131.5 1578v8M2132.5 1579v8M2133.5 1580v7M2134.5 1582v6M2135.5 1583v6M2136.5 1583v7M2137.5 1583v8M2138.5 1584v7M2139.5 1585v6M2140.5 1586v7M2141.5 1586v8M2142.5 1587v9M2143.5 1589v7M2144.5 1590v8M2145.5 1591v8M2146.5 1592v8M2147.5 1593v8M2148.5 1595v7M2149.5 1595v7M2150.5 1596v7M2151.5 1597v6M2152.5 1598v6M2153.5 1599v5M2154.5 1600v5M2155.5 1600v5M2156.5 1601v5M2157.5 1601v5M2158.5 1601v6M2159.5 1602v7M2160.5 1602v8M2161.5 1603v7M2162.5 1604v7M2163.5 1604v7M2164.5 1605v7M2165.5 1606v7M2166.5 1607v7M2167.5 1608v6M2168.5 1609v5M2169.5 1610v5M2170.5 1610v5M2171.5 1610v6M2172.5 1610v6M2173.5 1610v6M2174.5 1610v7M2175.5 1611v7M2176.5 1612v7M2177.5 1613v7M2178.5 1614v7M2179.5 1614v8M2180.5 1615v8M2181.5 1617v6M2182.5 1618v6M2183.5 1619v6M2184.5 1620v5M2185.5 1620v5M2186.5 1621v5M2187.5 1621v7M2188.5 1622v6M2189.5 1622v7M2190.5 1624v6M2191.5 1624v6M2192.5 1625v8M2193.5 1626v7M2194.5 1626v8M2195.5 1628v8M2196.5 1629v8M2197.5 1630v7M2198.5 1632v6M2199.5 1633v7M2200.5 1633v7M2201.5 1634v8M2202.5 1636v6M2203.5 1636v7M2204.5 1637v6M2205.5 1637v7M2206.5 1638v6M2207.5 1639v5M2208.5 1639v6M2209.5 1640v6M2210.5 1641v5M2211.5 1641v5M2212.5 1641v5M2213.5 1641v7M2214.5 1641v9M2215.5 1642v12M2216.5 1643v12M2217.5 1645v11M2218.5 1647v11M2219.5 1650v8M2220.5 1651v8M2221.5 1654v5M2222.5 1655v4M2223.5 1655v5M2224.5 1655v7M2225.5 1656v7M2226.5 1657v7M2227.5 1658v7M2228.5 1660v5M2229.5 1660v6M2230.5 1660v7M2231.5 1662v5M2232.5 1662v6M2233.5 1662v8M2234.5 1663v8M2235.5 1664v7M2236.5 1665v6M2237.5 1666v5M2238.5 1667v5M2239.5 1667v7M2240.5 1668v7M2241.5 1668v9M2242.5 1669v9M2243.5 1671v8M2244.5 1671v10M2245.5 1673v9M2246.5 1674v9M2247.5 1677v7M2248.5 1678v7M2249.5 1679v6M2250.5 1681v5M2251.5 1681v6M2252.5 1682v6M2253.5 1682v8M2254.5 1683v7M2255.5 1684v7M2256.5 1686v6M2257.5 1686v7M2258.5 1687v6M2259.5 1688v6M2260.5 1689v7M2261.5 1690v7M2262.5 1690v8M2263.5 1691v7M2264.5 1693v5M2265.5 1693v5M2266.5 1693v6M2267.5 1694v6M2268.5 1694v6M2269.5 1695v6M2270.5 1695v6M2271.5 1696v6M2272.5 1696v6M2273.5 1697v5M2274.5 1697v6M2275.5 1698v6M2276.5 1698v7M2277.5 1698v8M2278.5 1699v7M2279.5 1701v5M2280.5 1701v5M2281.5 1702v4M2282.5 1702v5M2283.5 1702v5M2284.5 1702v5M2285.5 1702v6M2286.5 1702v6M2287.5 1703v5M2288.5 1703v5M2289.5 1703v5M2290.5 1703v5M2291.5 1703v7M2292.5 1704v6M2293.5 1704v7M2294.5 1706v7M2295.5 1707v7M2296.5 1708v7M2297.5 1709v6M2298.5 1709v7M2299.5 1710v7M2300.5 1711v7M2301.5 1712v6M2302.5 1712v6M2303.5 1712v6M2304.5 1712v6M2305.5 1711v5M2306.5 1710v6M2307.5 1710v5M2308.5 1709v6M2309.5 1709v5M2310.5 1709v5M2311.5 1709v5M2312.5 1707v7M2313.5 1707v6M2314.5 1706v7M2315.5 1706v5M2316.5 1706v5M2317.5 1706v5M2318.5 1705v6M2319.5 1704v6M2320.5 1703v7M2321.5 1703v6M2322.5 1702v5M2323.5 1702v5M2324.5 1701v6M2325.5 1701v6M2326.5 1701v6M2327.5 1702v6M2328.5 1702v6M2329.5 1703v5M2330.5 1703v6M2331.5 1703v7M2332.5 1703v7M2333.5 1702v7M2334.5 1701v7M2335.5 1701v6M2336.5 1700v6M2337.5 1699v6M2338.5 1699v5M2339.5 1699v5M2340.5 1698v6M2341.5 1697v7M2342.5 1697v6M2343.5 1696v5M2344.5 1696v5M2345.5 1695v6M2346.5 1695v6M2347.5 1693v7M2348.5 1693v6M2349.5 1693v5M2350.5 1692v5M2351.5 1692v5M2352.5 1691v5M2353.5 1691v5M2354.5 1691v5M2355.5 1690v6M2356.5 1690v6M2357.5 1689v6M2358.5 1688v6M2359.5 1688v6M2360.5 1686v8M2361.5 1686v7M2362.5 1685v8M2363.5 1685v7M2364.5 1684v6M2365.5 1682v8M2366.5 1681v8M2367.5 1681v6M2368.5 1680v6M2369.5 1680v5M2370.5 1680v5M2371.5 1679v6M2372.5 1677v8M2373.5 1677v7M2374.5 1677v7M2375.5 1677v6M2376.5 1677v6M2377.5 1677v6M2378.5 1677v5M2379.5 1676v6M2380.5 1677v5M2381.5 1677v5M2382.5 1677v5M2383.5 1676v6M2384.5 1676v5M2385.5 1676v5M2386.5 1675v6M2387.5 1674v7M2388.5 1674v6M2389.5 1674v6M2390.5 1674v6M2391.5 1674v5M2392.5 1674v5M2393.5 1675v4" fill="none" stroke="#00ff00" stroke-width="1" shape-rendering="crispEdges"/>
<path d="M266.5 1716v2M267.5 1715v4M268.5 1715v4M269.5 1715v4M270.5 1715v4M271.5 1715v4M272.5 1714v5M273.5 1713v6M274.5 1713v5M275.5 1713v5M276.5 1713v4M277.5 1712v5M278.5 1712v5M279.5 1712v5M280.5 1712v5M281.5 1712v5M282.5 1712v7M283.5 1713v6M284.5 1714v5M285.5 1714v5M286.5 1714v5M287.5 1713v6M288.5 1713v5M289.5 1713v5M290.5 1713v5M291.5 1713v5M292.5 1713v5M293.5 1713v5M294.5 1713v5M295.5 1712v5M296.5 1712v5M297.5 1711v6M298.5 1712v5M299.5 1712v5M300.5 1712v5M301.5 1712v5M302.5 1712v6M303.5 1712v6M304.5 1707v11M305.5 1702v16M306.5 1700v18M307.5 1699v19M308.5 1699v14M309.5 1699v9M310.5 1699v7M311.5 1699v7M312.5 1700v6M313.5 1701v5M314.5 1701v5M315.5 1701v5M316.5 1701v5M317.5 1701v5M318.5 1701v5M319.5 1701v5M320.5 1700v5M321.5 1699v6M322.5 1698v7M323.5 1697v8M324.5 1696v8M325.5 1694v9M326.5 1694v7M327.5 1694v6M328.5 1695v5M329.5 1695v5M330.5 1695v5M331.5 1695v5M332.5 1695v5M333.5 1695v5M334.5 1694v6M335.5 1693v7M336.5 1693v7M337.5 1693v5M338.5 1693v4M339.5 1692v5M340.5 1692v5M341.5 1691v6M342.5 1691v7M343.5 1691v6M344.5 1691v5M345.5 1691v5M346.5 1691v5M347.5 1691v5M348.5 1690v6M349.5 1690v6M350.5 1690v6M351.5 1689v7M352.5 1688v7M353.5 1688v7M354.5 1687v6M355.5 1687v6M356.5 1686v6M357.5 1684v7M358.5 1684v6M359.5 1684v5M360.5 1684v5M361.5 1684v5M362.5 1684v5M363.5 1683v6M364.5 1680v9M365.5 1679v9M366.5 1677v10M367.5 1676v9M368.5 1675v7M369.5 1675v6M370.5 1675v6M371.5 1675v6M372.5 1675v6M373.5 1675v6M374.5 1675v6M375.5 1675v6M376.5 1675v6M377.5 1675v5M378.5 1675v5M379.5 1674v5M380.5 1673v6M381.5 1672v6M382.5 1671v6M383.5 1669v8M384.5 1668v8M385.5 1668v6M386.5 1667v6M387.5 1666v6M388.5 1665v6M389.5 1663v8M390.5 1662v8M391.5 1660v8M392.5 1659v8M393.5 1658v8M394.5 1656v8M395.5 1655v9M396.5 1654v8M397.5 1654v8M398.5 1654v8M399.5 1654v8M400.5 1654v8M401.5 1654v9M402.5 1654v8M403.5 1652v9M404.5 1651v9M405.5 1650v9M406.5 1649v7M407.5 1648v7M408.5 1647v7M409.5 1645v8M410.5 1644v8M411.5 1642v9M412.5 1639v10M413.5 1637v11M414.5 1635v11M415.5 1634v11M416.5 1633v8M417.5 1633v6M418.5 1633v5M419.5 1633v5M420.5 1633v5M421.5 1633v5M422.5 1633v6M423.5 1633v6M424.5 1632v6M425.5 1632v6M426.5 1632v6M427.5 1629v9M428.5 1628v9M429.5 1628v8M430.5 1626v7M431.5 1625v7M432.5 1623v8M433.5 1623v7M434.5 1621v8M435.5 1620v7M436.5 1620v6M437.5 1620v6M438.5 1619v7M439.5 1619v6M440.5 1618v6M441.5 1616v7M442.5 1615v8M443.5 1612v10M444.5 1608v13M445.5 1606v13M446.5 1605v12M447.5 1603v12M448.5 1602v10M448.5 1613v1M449.5 1602v9M450.5 1601v7M451.5 1600v6M452.5 1599v6M453.5 1599v5M454.5 1598v6M455.5 1598v6M456.5 1597v7M457.5 1596v6M458.5 1595v7M459.5 1595v6M460.5 1594v6M461.5 1593v6M462.5 1592v7M463.5 1591v7M464.5 1590v7M465.5 1590v5M466.5 1588v6M467.5 1587v7M468.5 1587v7M469.5 1585v8M470.5 1584v7M471.5 1583v8M472.5 1581v8M473.5 1580v8M474.5 1578v10M475.5 1577v9M476.5 1576v10M477.5 1575v9M478.5 1573v8M479.5 1571v8M480.5 1570v8M481.5 1570v7M482.5 1569v6M483.5 1568v6M484.5 1567v6M485.5 1566v7M486.5 1565v8M487.5 1565v8M488.5 1565v9M489.5 1566v10M490.5 1566v10M491.5 1564v1M491.5 1566v10M492.5 1562v14M493.5 1558v16M494.5 1557v14M495.5 1555v13M496.5 1554v11M497.5 1554v7M498.5 1554v6M499.5 1552v7M500.5 1552v7M501.5 1550v8M502.5 1549v8M503.5 1549v6M504.5 1547v7M505.5 1546v7M506.5 1546v7M507.5 1546v5M508.5 1544v7M509.5 1543v7M510.5 1538v12M511.5 1527v21M512.5 1525v22M513.5 1524v23M514.5 1523v20M515.5 1520v16M515.5 1537v1M516.5 1519v9M517.5 1518v9M518.5 1517v9M519.5 1516v7M520.5 1515v8M521.5 1514v7M522.5 1513v6M523.5 1513v6M524.5 1511v7M525.5 1510v7M526.5 1510v6M527.5 1509v7M528.5 1505v10M529.5 1503v11M530.5 1501v12M531.5 1499v13M532.5 1497v14M533.5 1496v10M534.5 1494v11M535.5 1492v9M536.5 1492v9M537.5 1491v9M538.5 1489v8M539.5 1488v8M540.5 1487v8M541.5 1485v9M542.5 1485v7M543.5 1484v7M544.5 1483v7M545.5 1480v9M546.5 1479v9M547.5 1468v1M547.5 1471v15M548.5 1465v20M549.5 1464v19M550.5 1464v18M551.5 1463v16M552.5 1462v6M552.5 1470v2M553.5 1460v8M554.5 1458v8M555.5 1456v10M556.5 1454v10M557.5 1451v11M558.5 1449v12M559.5 1449v9M560.5 1449v8M561.5 1449v6M562.5 1449v5M563.5 1449v5M564.5 1449v5M565.5 1449v5M566.5 1448v6M567.5 1442v12M568.5 1412v20M568.5 1434v21M569.5 1411v43M570.5 1410v43M571.5 1409v41M572.5 1408v35M573.5 1408v5M573.5 1431v1M573.5 1433v1M574.5 1408v5M575.5 1408v5M576.5 1408v5M577.5 1408v5M578.5 1406v6M579.5 1406v6M580.5 1403v8M581.5 1402v8M582.5 1402v8M583.5 1401v8M584.5 1398v9M585.5 1397v9M586.5 1390v14M587.5 1389v14M588.5 1386v15M589.5 1385v14M590.5 1385v12M591.5 1383v9M592.5 1382v8M593.5 1376v13M594.5 1367v1M594.5 1370v17M595.5 1362v24M596.5 1360v25M597.5 1359v24M598.5 1358v17M599.5 1357v8M599.5 1368v1M599.5 1372v1M600.5 1355v8M601.5 1354v9M602.5 1351v10M603.5 1349v10M604.5 1348v10M605.5 1346v10M606.5 1343v11M607.5 1341v11M608.5 1339v12M609.5 1338v11M610.5 1336v10M611.5 1334v11M612.5 1331v11M613.5 1330v12M614.5 1327v12M615.5 1325v11M616.5 1324v10M617.5 1323v10M618.5 1321v10M619.5 1316v12M620.5 1315v13M621.5 1313v13M622.5 1310v14M623.5 1307v14M624.5 1306v12M625.5 1303v13M626.5 1299v15M627.5 1297v13M628.5 1295v13M629.5 1294v12M630.5 1293v9M631.5 1291v9M632.5 1290v8M633.5 1290v7M634.5 1288v7M635.5 1287v8M636.5 1273v2M636.5 1280v13M637.5 1271v21M638.5 1270v21M639.5 1268v22M640.5 1267v20M641.5 1267v6M641.5 1275v1M641.5 1277v3M642.5 1266v6M643.5 1243v28M644.5 1239v32M645.5 1238v31M646.5 1235v33M647.5 1232v27M647.5 1261v3M648.5 1230v12M648.5 1253v1M649.5 1230v11M650.5 1229v8M651.5 1230v5M652.5 1230v5M653.5 1230v5M654.5 1227v9M655.5 1223v13M656.5 1220v16M657.5 1219v16M658.5 1217v12M659.5 1217v10M660.5 1213v9M661.5 1212v9M662.5 1211v9M663.5 1209v10M664.5 1207v10M665.5 1207v7M666.5 1206v7M667.5 1203v9M668.5 1198v13M669.5 1192v18M670.5 1189v20M671.5 1187v20M672.5 1185v17M673.5 1185v12M673.5 1198v1M674.5 1184v9M675.5 1180v9M676.5 1178v11M677.5 1177v11M678.5 1176v11M679.5 1175v8M680.5 1174v7M681.5 1174v6M682.5 1170v9M683.5 1162v2M683.5 1166v12M684.5 1158v20M685.5 1157v19M686.5 1154v21M687.5 1153v17M688.5 1150v15M689.5 1134v2M689.5 1137v22M690.5 1129v27M691.5 1126v29M692.5 1123v30M693.5 1118v29M694.5 1116v16M694.5 1133v1M694.5 1136v1M695.5 1114v16M696.5 1113v13M697.5 1112v9M698.5 1112v9M699.5 1113v8M700.5 1114v8M701.5 1114v8M702.5 1114v7M703.5 1110v10M704.5 1108v10M705.5 1108v10M706.5 1107v9M707.5 1095v2M707.5 1104v11M708.5 1089v23M709.5 1087v23M710.5 1087v22M711.5 1086v21M712.5 1084v11M712.5 1099v2M713.5 1083v7M714.5 1083v6M715.5 1079v10M716.5 1076v12M717.5 1074v13M718.5 1071v14M719.5 1066v17M720.5 1064v14M721.5 1058v18M722.5 1056v18M723.5 1055v15M724.5 1054v13M725.5 1052v10M726.5 1050v9M727.5 1048v10M728.5 1044v13M729.5 1038v17M730.5 1033v19M731.5 1032v20M732.5 1031v20M733.5 1030v14M734.5 1029v11M735.5 1028v12M736.5 1027v13M737.5 1027v20M738.5 1027v23M739.5 1029v21M740.5 1032v18M741.5 1037v13M742.5 1037v11M743.5 1037v10M744.5 1034v11M745.5 1033v11M746.5 1030v11M747.5 1028v12M748.5 1026v12M749.5 1022v13M750.5 1020v13M751.5 1017v14M752.5 1016v13M753.5 1013v11M753.5 1026v1M754.5 1012v11M755.5 1010v10M756.5 1009v10M757.5 1005v13M758.5 1002v12M759.5 998v16M760.5 995v17M761.5 994v16M762.5 993v12M763.5 991v11M764.5 991v7M765.5 990v7M766.5 988v8M767.5 976v20M768.5 973v22M769.5 973v19M770.5 971v20M771.5 970v13M771.5 984v1M771.5 986v1M772.5 968v9M773.5 967v9M774.5 966v8M775.5 966v7M776.5 963v9M777.5 959v11M778.5 957v12M779.5 953v15M780.5 951v17M781.5 949v19M782.5 948v22M783.5 948v23M784.5 948v24M785.5 950v22M786.5 955v16M787.5 955v14M788.5 955v13M789.5 954v11M790.5 953v10M791.5 952v9M792.5 952v9M793.5 952v9M794.5 952v9M795.5 952v9M796.5 952v9M797.5 952v9M798.5 950v11M799.5 948v12M800.5 944v14M801.5 940v17M802.5 932v20M803.5 931v20M804.5 927v22M805.5 926v18M806.5 924v16M807.5 923v11M808.5 921v8M809.5 920v8M810.5 920v7M811.5 917v9M812.5 914v12M813.5 911v13M814.5 908v15M815.5 906v16M816.5 904v12M817.5 903v11M818.5 899v14M819.5 895v15M820.5 889v20M821.5 886v20M822.5 885v18M823.5 883v17M824.5 880v17M825.5 880v17M826.5 878v19M827.5 877v25M828.5 877v30M829.5 878v29M830.5 879v28M831.5 889v18M832.5 890v16M833.5 890v14M834.5 890v13M835.5 885v16M836.5 882v17M837.5 881v15M838.5 878v17M839.5 877v13M840.5 877v8M841.5 876v8M842.5 874v7M843.5 873v8M844.5 871v9M845.5 871v7M846.5 871v5M847.5 869v7M848.5 867v9M849.5 863v12M850.5 862v13M851.5 859v13M852.5 855v15M853.5 853v14M854.5 850v16M855.5 848v15M856.5 847v12M857.5 844v13M858.5 841v12M859.5 840v11M860.5 839v11M861.5 838v8M861.5 847v1M862.5 836v9M863.5 834v8M864.5 833v8M865.5 832v9M866.5 826v14M867.5 824v12M868.5 820v16M869.5 818v17M870.5 817v12M871.5 816v10M872.5 771v1M872.5 784v1M872.5 789v4M872.5 813v11M873.5 769v51M874.5 767v52M875.5 765v53M876.5 763v54M877.5 761v10M877.5 774v9M877.5 785v4M877.5 794v17M878.5 755v16M879.5 752v17M880.5 751v17M881.5 750v16M882.5 748v14M883.5 748v7M884.5 744v1M884.5 747v6M885.5 736v16M886.5 733v19M887.5 731v20M888.5 730v20M889.5 727v17M889.5 746v2M890.5 726v10M891.5 724v10M892.5 723v10M893.5 722v8M894.5 720v9M895.5 720v7M896.5 719v7M897.5 717v7M898.5 714v9M899.5 709v13M900.5 708v13M901.5 703v17M902.5 700v17M903.5 698v14M904.5 691v19M905.5 689v19M906.5 687v16M907.5 685v17M908.5 684v13M909.5 682v10M910.5 679v12M911.5 678v10M912.5 678v8M913.5 674v10M914.5 671v12M915.5 668v15M916.5 665v16M917.5 662v17M918.5 661v16M919.5 661v16M920.5 661v16M921.5 662v15M922.5 662v15M923.5 662v15M924.5 662v13M925.5 659v13M926.5 655v16M927.5 653v14M928.5 648v18M929.5 641v21M930.5 639v20M931.5 638v18M932.5 637v17M933.5 636v12M934.5 636v6M935.5 636v5M936.5 634v7M937.5 633v7M938.5 632v8M939.5 628v10M940.5 624v13M941.5 622v14M942.5 618v18M943.5 617v16M944.5 615v12M945.5 614v10M946.5 613v7M947.5 612v7M948.5 611v7M949.5 609v8M950.5 605v11M951.5 602v13M952.5 599v15M953.5 598v15M954.5 597v12M955.5 595v10M956.5 593v9M957.5 592v9M958.5 590v9M959.5 586v12M960.5 584v12M961.5 582v12M962.5 580v14M963.5 579v15M964.5 579v19M965.5 579v20M966.5 580v19M967.5 582v17M968.5 582v15M969.5 582v14M970.5 580v13M971.5 578v11M972.5 575v13M973.5 574v10M974.5 573v9M975.5 572v9M976.5 570v9M977.5 568v10M978.5 567v9M979.5 545v1M979.5 551v1M979.5 566v9M980.5 540v33M981.5 539v32M982.5 538v32M983.5 536v34M984.5 533v11M984.5 547v4M984.5 554v9M984.5 564v2M985.5 532v10M986.5 531v9M987.5 529v10M988.5 525v11M989.5 524v11M990.5 516v4M990.5 522v12M991.5 515v17M992.5 510v19M993.5 506v20M994.5 505v20M995.5 502v15M995.5 519v3M996.5 501v13M996.5 515v1M997.5 500v11M998.5 499v9M999.5 498v7M1000.5 497v7M1001.5 497v5M1002.5 495v7M1003.5 495v7M1004.5 493v8M1005.5 489v11M1006.5 488v11M1007.5 487v11M1008.5 487v10M1009.5 487v5M1010.5 486v5M1011.5 484v7M1012.5 483v7M1013.5 483v7M1014.5 482v6M1015.5 474v13M1016.5 472v15M1017.5 471v16M1018.5 469v16M1019.5 468v14M1020.5 466v11M1021.5 466v8M1022.5 465v7M1023.5 462v8M1024.5 461v9M1025.5 454v2M1025.5 458v12M1026.5 451v17M1027.5 447v19M1028.5 445v20M1029.5 445v16M1030.5 444v11M1031.5 442v11M1032.5 441v7M1033.5 440v8M1034.5 439v8M1035.5 437v8M1036.5 435v8M1037.5 431v12M1038.5 430v12M1039.5 428v13M1040.5 427v10M1041.5 426v9M1042.5 425v7M1043.5 424v6M1044.5 424v6M1045.5 423v6M1046.5 417v11M1047.5 414v14M1048.5 408v19M1049.5 406v21M1050.5 403v21M1051.5 402v15M1052.5 400v11M1052.5 412v1M1053.5 399v10M1054.5 396v9M1055.5 394v10M1056.5 393v9M1057.5 392v9M1058.5 392v7M1059.5 392v5M1060.5 391v6M1061.5 386v11M1062.5 384v12M1063.5 382v13M1064.5 381v13M1065.5 377v16M1066.5 377v9M1067.5 376v9M1068.5 375v8M1069.5 373v8M1070.5 373v7M1071.5 373v6M1072.5 373v6M1073.5 371v8M1074.5 367v12M1075.5 360v18M1076.5 355v23M1077.5 354v23M1078.5 353v18M1079.5 353v15M1080.5 353v5M1080.5 359v1M1081.5 352v6M1082.5 351v6M1083.5 350v7M1084.5 349v6M1085.5 347v7M1086.5 346v8M1087.5 345v9M1088.5 343v9M1089.5 341v10M1090.5 340v10M1091.5 339v8M1092.5 337v9M1093.5 334v12M1094.5 333v13M1095.5 333v26M1096.5 332v32M1097.5 333v32M1098.5 334v31M1099.5 346v18M1100.5 354v9M1101.5 354v8M1102.5 354v7M1103.5 349v11M1104.5 346v14M1105.5 343v16M1106.5 341v16M1107.5 340v14M1108.5 340v9M1109.5 336v12M1110.5 335v9M1111.5 332v11M1112.5 331v11M1113.5 330v9M1114.5 328v10M1115.5 327v8M1116.5 326v8M1117.5 325v8M1118.5 326v7M1119.5 326v7M1120.5 326v8M1121.5 324v10M1122.5 320v13M1123.5 318v13M1124.5 315v15M1125.5 314v13M1126.5 312v12M1127.5 309v12M1128.5 308v12M1129.5 308v10M1130.5 308v10M1131.5 308v10M1132.5 308v10M1133.5 308v10M1134.5 308v10M1135.5 305v13M1136.5 302v15M1137.5 300v14M1138.5 295v16M1139.5 293v16M1140.5 292v13M1141.5 291v12M1142.5 289v11M1143.5 288v7M1144.5 287v7M1145.5 286v8M1146.5 285v8M1147.5 284v7M1148.5 283v7M1149.5 281v8M1150.5 280v7M1151.5 279v8M1152.5 278v8M1153.5 278v6M1154.5 278v5M1155.5 277v5M1156.5 276v6M1157.5 275v7M1158.5 275v7M1159.5 276v6M1160.5 276v6M1161.5 276v7M1162.5 275v8M1163.5 271v12M1164.5 268v15M1165.5 267v13M1166.5 266v12M1167.5 265v9M1167.5 275v1M1168.5 263v8M1169.5 262v9M1170.5 261v9M1171.5 260v7M1172.5 259v7M1173.5 259v7M1174.5 259v7M1175.5 259v8M1176.5 259v8M1177.5 259v9M1178.5 257v12M1179.5 254v15M1180.5 250v19M1181.5 249v19M1182.5 248v17M1183.5 247v12M1184.5 245v7M1184.5 253v1M1185.5 244v8M1186.5 243v8M1187.5 242v7M1188.5 240v9M1189.5 240v7M1190.5 239v6M1191.5 239v5M1192.5 238v5M1193.5 238v5M1194.5 235v7M1195.5 234v8M1196.5 231v10M1197.5 229v12M1198.5 229v10M1199.5 228v8M1200.5 229v6M1201.5 230v5M1202.5 230v5M1203.5 230v5M1204.5 229v6M1205.5 229v6M1206.5 228v7M1207.5 226v9M1208.5 225v10M1209.5 224v10M1210.5 222v8M1211.5 221v8M1212.5 221v7M1213.5 222v6M1214.5 222v6M1215.5 222v6M1216.5 222v7M1217.5 220v9M1218.5 218v11M1219.5 216v12M1220.5 215v11M1221.5 214v9M1222.5 213v9M1223.5 195v1M1223.5 213v7M1224.5 171v47M1225.5 170v48M1226.5 170v48M1227.5 170v46M1228.5 171v21M1228.5 197v6M1228.5 204v6M1228.5 211v4M1229.5 173v12M1230.5 173v12M1231.5 173v12M1232.5 172v12M1233.5 170v13M1234.5 170v11M1235.5 169v11M1236.5 170v9M1237.5 170v9M1238.5 170v9M1239.5 167v12M1240.5 164v15M1241.5 164v14M1242.5 163v14M1243.5 161v11M1244.5 161v6M1245.5 160v6M1246.5 159v6M1247.5 158v6M1248.5 157v6M1249.5 156v7M1250.5 155v7M1251.5 155v6M1252.5 155v5M1253.5 153v7M1254.5 152v8M1255.5 152v7M1256.5 151v6M1257.5 148v9M1258.5 147v9M1259.5 146v9M1260.5 145v8M1261.5 144v7M1262.5 143v6M1263.5 142v7M1264.5 141v7M1265.5 139v8M1266.5 138v7M1267.5 138v6M1268.5 137v6M1269.5 137v5M1270.5 136v6M1271.5 135v6M1272.5 135v6M1273.5 136v5M1274.5 136v5M1275.5 136v5M1276.5 136v5M1277.5 135v6M1278.5 135v6M1279.5 135v17M1280.5 135v18M1281.5 136v18M1282.5 137v17M1283.5 140v15M1284.5 149v6M1285.5 149v6M1286.5 149v7M1287.5 149v8M1288.5 149v9M1289.5 149v9M1290.5 147v11M1291.5 144v14M1292.5 143v14M1293.5 142v12M1294.5 142v12M1295.5 143v11M1296.5 144v12M1297.5 147v9M1298.5 148v9M1299.5 148v8M1300.5 148v7M1301.5 148v6M1302.5 146v7M1303.5 146v6M1304.5 145v6M1305.5 142v8M1306.5 140v9M1307.5 139v9M1308.5 138v9M1309.5 137v7M1310.5 135v8M1311.5 133v8M1312.5 133v7M1313.5 132v8M1314.5 132v8M1315.5 132v8M1316.5 133v8M1317.5 133v9M1318.5 133v9M1319.5 131v11M1320.5 127v14M1321.5 125v12M1322.5 125v12M1323.5 124v13M1324.5 125v13M1325.5 126v12M1326.5 129v9M1327.5 130v7M1328.5 130v7M1329.5 130v7M1330.5 129v8M1331.5 129v8M1332.5 129v8M1333.5 129v10M1334.5 130v10M1335.5 132v8M1336.5 132v7M1337.5 132v6M1338.5 131v6M1339.5 130v7M1340.5 130v6M1341.5 130v6M1342.5 131v5M1343.5 131v6M1344.5 131v6M1345.5 132v10M1346.5 133v17M1347.5 134v17M1348.5 134v17M1349.5 136v15M1350.5 137v13M1351.5 137v11M1352.5 137v11M1353.5 137v11M1354.5 137v15M1355.5 137v16M1356.5 139v15M1357.5 139v15M1358.5 139v14M1359.5 138v13M1360.5 138v11M1361.5 137v9M1362.5 137v7M1363.5 137v7M1364.5 138v6M1365.5 138v5M1366.5 138v5M1367.5 138v5M1368.5 137v6M1369.5 137v6M1370.5 138v7M1371.5 139v7M1372.5 139v8M1373.5 141v7M1374.5 141v7M1375.5 141v7M1376.5 137v1M1376.5 140v7M1377.5 123v23M1378.5 115v30M1379.5 113v31M1380.5 113v31M1381.5 112v15M1381.5 130v6M1381.5 138v3M1382.5 112v5M1382.5 119v2M1383.5 111v6M1384.5 110v7M1385.5 110v6M1386.5 109v6M1387.5 108v7M1388.5 107v7M1389.5 107v6M1390.5 107v6M1391.5 107v6M1392.5 108v5M1393.5 108v5M1394.5 108v6M1395.5 108v7M1396.5 109v6M1397.5 110v6M1398.5 111v8M1399.5 111v12M1400.5 112v17M1401.5 113v17M1402.5 115v15M1403.5 115v15M1404.5 115v14M1405.5 114v13M1406.5 113v14M1407.5 114v13M1408.5 114v14M1409.5 118v10M1410.5 121v8M1411.5 123v7M1412.5 123v6M1413.5 123v6M1414.5 123v6M1415.5 123v6M1416.5 124v5M1417.5 124v6M1418.5 124v8M1419.5 125v10M1420.5 125v11M1421.5 125v12M1422.5 98v6M1422.5 107v31M1423.5 97v42M1424.5 97v42M1425.5 96v42M1426.5 96v38M1426.5 136v1M1427.5 96v5M1427.5 104v1M1427.5 106v1M1428.5 96v5M1429.5 97v4M1430.5 97v5M1431.5 97v5M1432.5 97v8M1433.5 98v7M1434.5 99v7M1435.5 100v8M1436.5 102v7M1437.5 102v8M1438.5 104v8M1439.5 105v8M1440.5 106v8M1441.5 106v8M1442.5 106v8M1443.5 105v9M1444.5 105v9M1445.5 104v10M1446.5 105v9M1447.5 106v10M1448.5 108v8M1449.5 108v9M1450.5 109v10M1451.5 112v7M1452.5 113v6M1453.5 114v6M1454.5 114v6M1455.5 114v6M1456.5 114v6M1457.5 114v6M1458.5 113v7M1459.5 112v7M1460.5 112v7M1461.5 112v7M1462.5 112v11M1463.5 112v12M1464.5 113v13M1465.5 114v13M1466.5 118v10M1467.5 122v7M1468.5 123v6M1469.5 123v6M1470.5 123v7M1471.5 123v9M1472.5 125v9M1473.5 126v11M1474.5 127v12M1475.5 128v13M1476.5 128v13M1477.5 128v13M1478.5 125v16M1479.5 125v13M1480.5 124v11M1481.5 125v10M1482.5 126v9M1483.5 127v9M1484.5 128v10M1485.5 130v9M1486.5 131v9M1487.5 132v8M1488.5 135v7M1489.5 136v7M1490.5 137v7M1491.5 137v7M1492.5 137v7M1493.5 137v7M1494.5 136v7M1495.5 135v8M1496.5 135v8M1497.5 136v8M1498.5 137v8M1499.5 138v9M1500.5 140v14M1500.5 157v1M1501.5 141v20M1502.5 141v23M1503.5 142v24M1504.5 147v20M1505.5 155v1M1505.5 157v11M1506.5 161v9M1507.5 162v10M1508.5 164v9M1509.5 166v10M1510.5 167v10M1511.5 169v11M1512.5 171v10M1513.5 174v8M1514.5 175v8M1515.5 176v7M1516.5 178v6M1517.5 178v6M1518.5 178v6M1519.5 176v8M1520.5 176v8M1521.5 175v9M1522.5 175v9M1523.5 175v11M1524.5 175v12M1525.5 176v12M1526.5 181v7M1527.5 182v7M1528.5 183v7M1529.5 184v6M1530.5 184v7M1531.5 184v9M1532.5 185v10M1533.5 186v15M1534.5 187v15M1535.5 191v12M1536.5 193v10M1537.5 196v6M1538.5 197v4M1539.5 197v4M1540.5 197v4M1541.5 196v9M1542.5 197v14M1543.5 197v16M1544.5 198v23M1545.5 200v25M1546.5 203v23M1547.5 210v20M1548.5 214v16M1549.5 219v12M1550.5 223v9M1551.5 226v7M1552.5 226v7M1553.5 226v6M1554.5 226v6M1555.5 226v6M1556.5 226v6M1557.5 226v8M1558.5 226v9M1559.5 227v8M1560.5 229v8M1561.5 231v9M1562.5 231v12M1563.5 232v28M1564.5 234v37M1565.5 237v35M1566.5 241v32M1567.5 245v30M1568.5 262v14M1569.5 269v7M1570.5 271v6M1571.5 271v8M1572.5 272v8M1573.5 273v10M1574.5 274v12M1575.5 276v11M1576.5 277v10M1577.5 279v9M1578.5 282v6M1579.5 282v6M1579.5 290v2M1579.5 293v1M1580.5 283v27M1581.5 284v27M1582.5 284v29M1583.5 285v28M1584.5 287v3M1584.5 294v20M1585.5 309v6M1586.5 310v6M1587.5 311v6M1588.5 312v8M1589.5 313v8M1590.5 313v8M1591.5 315v7M1592.5 317v6M1593.5 318v7M1594.5 319v8M1595.5 319v13M1596.5 320v14M1597.5 323v12M1598.5 324v12M1599.5 328v9M1600.5 331v7M1601.5 332v8M1602.5 333v7M1603.5 334v7M1604.5 335v7M1605.5 336v9M1606.5 337v14M1607.5 338v15M1608.5 339v15M1609.5 342v13M1610.5 345v12M1611.5 350v9M1611.5 365v1M1612.5 352v17M1613.5 353v18M1614.5 353v20M1615.5 354v19M1616.5 363v2M1616.5 366v8M1617.5 368v7M1618.5 370v8M1619.5 371v8M1620.5 371v14M1621.5 372v14M1622.5 374v12M1623.5 375v14M1624.5 378v15M1625.5 382v13M1626.5 383v12M1627.5 385v11M1628.5 387v10M1629.5 391v8M1630.5 392v9M1631.5 394v9M1632.5 394v9M1633.5 396v8M1634.5 399v6M1635.5 399v7M1636.5 400v9M1637.5 401v10M1638.5 402v9M1639.5 404v10M1640.5 406v9M1641.5 408v10M1642.5 408v12M1643.5 411v11M1644.5 412v12M1645.5 415v9M1646.5 417v7M1647.5 417v7M1648.5 417v7M1649.5 417v10M1650.5 417v18M1651.5 418v18M1652.5 418v20M1653.5 422v17M1654.5 428v12M1655.5 434v7M1656.5 435v8M1657.5 436v8M1658.5 437v8M1659.5 439v8M1660.5 441v8M1661.5 442v8M1662.5 443v7M1663.5 445v7M1664.5 446v8M1665.5 446v9M1666.5 448v8M1666.5 457v1M1667.5 449v12M1668.5 451v13M1669.5 452v14M1670.5 454v13M1671.5 457v12M1672.5 461v9M1673.5 463v8M1674.5 465v7M1675.5 466v7M1676.5 467v6M1677.5 468v9M1678.5 468v13M1679.5 469v17M1680.5 469v18M1681.5 474v14M1682.5 476v13M1683.5 481v9M1684.5 484v7M1685.5 485v7M1686.5 486v12M1687.5 487v13M1688.5 488v13M1689.5 488v14M1690.5 491v12M1691.5 497v6M1692.5 498v5M1693.5 498v6M1694.5 498v8M1695.5 499v8M1696.5 500v7M1697.5 501v8M1698.5 502v9M1699.5 503v12M1700.5 504v15M1701.5 506v15M1702.5 508v15M1703.5 512v18M1704.5 516v21M1705.5 519v22M1706.5 521v21M1707.5 524v21M1708.5 532v14M1709.5 537v10M1710.5 538v10M1711.5 543v5M1712.5 543v5M1713.5 543v12M1714.5 543v14M1715.5 544v14M1716.5 546v13M1717.5 550v11M1718.5 555v10M1719.5 556v11M1720.5 557v11M1721.5 559v13M1722.5 561v12M1723.5 564v10M1724.5 564v12M1725.5 567v11M1726.5 570v9M1727.5 570v10M1728.5 573v9M1729.5 575v8M1730.5 576v12M1731.5 578v15M1732.5 579v15M1733.5 581v15M1734.5 585v13M1735.5 589v12M1736.5 592v10M1737.5 593v13M1738.5 596v10M1739.5 598v9M1740.5 599v11M1741.5 600v18M1741.5 619v1M1742.5 603v21M1743.5 604v24M1744.5 606v24M1745.5 610v23M1746.5 621v15M1747.5 623v14M1748.5 628v11M1749.5 630v11M1750.5 632v11M1751.5 634v14M1752.5 637v13M1753.5 638v13M1754.5 640v13M1755.5 644v9M1756.5 648v6M1757.5 648v7M1758.5 650v9M1759.5 650v10M1760.5 652v9M1761.5 653v10M1762.5 655v12M1763.5 657v13M1764.5 658v13M1765.5 660v13M1766.5 664v13M1766.5 678v1M1767.5 667v17M1768.5 669v17M1769.5 671v15M1770.5 672v14M1771.5 676v1M1771.5 679v7M1772.5 681v5M1773.5 681v5M1774.5 681v6M1775.5 682v10M1776.5 682v14M1777.5 683v16M1778.5 684v17M1779.5 686v17M1780.5 686v19M1781.5 686v20M1782.5 683v23M1783.5 683v23M1784.5 683v22M1785.5 683v22M1786.5 685v20M1787.5 687v19M1788.5 688v24M1789.5 691v22M1790.5 696v18M1791.5 697v17M1792.5 706v9M1793.5 710v5M1794.5 710v7M1795.5 710v9M1796.5 710v11M1797.5 712v12M1797.5 725v3M1798.5 714v19M1799.5 715v20M1800.5 719v17M1801.5 720v18M1802.5 729v10M1803.5 733v6M1804.5 734v7M1805.5 735v12M1806.5 735v13M1807.5 737v13M1808.5 739v13M1809.5 742v11M1810.5 746v9M1811.5 747v13M1812.5 749v13M1813.5 750v13M1814.5 752v11M1815.5 754v9M1816.5 756v7M1817.5 756v9M1818.5 756v14M1819.5 756v17M1820.5 758v17M1821.5 763v14M1822.5 765v13M1823.5 770v10M1824.5 771v14M1825.5 774v15M1826.5 776v16M1827.5 778v16M1828.5 780v15M1829.5 785v14M1830.5 790v10M1831.5 791v11M1832.5 793v10M1833.5 795v10M1834.5 798v7M1835.5 798v9M1836.5 800v11M1837.5 801v10M1838.5 802v14M1839.5 804v14M1840.5 806v16M1841.5 809v15M1842.5 812v13M1843.5 815v10M1844.5 819v14M1845.5 820v16M1846.5 820v16M1847.5 821v16M1848.5 824v13M1849.5 833v5M1850.5 833v10M1851.5 833v13M1851.5 847v1M1852.5 835v15M1853.5 836v16M1854.5 839v14M1855.5 843v13M1856.5 847v10M1857.5 849v15M1858.5 851v18M1859.5 852v18M1860.5 854v18M1861.5 859v15M1862.5 866v10M1863.5 868v10M1864.5 870v9M1865.5 871v15M1866.5 873v17M1867.5 874v19M1868.5 875v20M1869.5 878v18M1870.5 885v14M1871.5 889v11M1872.5 892v11M1873.5 893v14M1874.5 894v14M1875.5 898v11M1876.5 900v11M1877.5 902v13M1878.5 904v12M1879.5 906v11M1880.5 908v10M1881.5 911v8M1882.5 913v7M1883.5 914v10M1884.5 914v13M1885.5 917v14M1886.5 918v16M1887.5 919v18M1888.5 924v14M1889.5 927v12M1890.5 931v11M1891.5 934v9M1892.5 935v11M1893.5 936v11M1894.5 938v11M1895.5 940v12M1896.5 943v10M1897.5 945v11M1898.5 946v13M1899.5 949v13M1900.5 950v13M1901.5 953v17M1902.5 956v18M1903.5 959v17M1904.5 960v17M1905.5 963v15M1906.5 969v11M1907.5 971v11M1908.5 973v10M1909.5 975v12M1910.5 977v14M1911.5 979v15M1912.5 980v21M1913.5 982v20M1914.5 986v17M1915.5 992v12M1916.5 996v11M1917.5 1000v8M1918.5 1000v10M1919.5 1001v12M1920.5 1004v10M1921.5 1005v11M1922.5 1007v12M1923.5 1010v13M1924.5 1012v12M1925.5 1013v15M1926.5 1017v12M1926.5 1031v1M1927.5 1019v15M1928.5 1021v17M1929.5 1023v16M1930.5 1027v13M1931.5 1031v11M1932.5 1034v8M1933.5 1035v9M1934.5 1037v8M1935.5 1038v13M1936.5 1038v14M1937.5 1041v13M1938.5 1043v13M1939.5 1044v14M1940.5 1050v9M1941.5 1051v11M1942.5 1054v10M1943.5 1056v12M1944.5 1057v12M1945.5 1059v11M1946.5 1061v10M1947.5 1064v10M1948.5 1066v13M1948.5 1080v1M1949.5 1067v17M1950.5 1069v16M1951.5 1072v14M1952.5 1074v14M1953.5 1080v10M1954.5 1083v8M1955.5 1084v8M1956.5 1085v10M1957.5 1087v10M1958.5 1088v11M1959.5 1089v12M1960.5 1091v12M1961.5 1095v9M1962.5 1097v8M1963.5 1098v8M1964.5 1099v9M1965.5 1100v9M1966.5 1101v11M1967.5 1103v11M1968.5 1105v11M1969.5 1107v16M1970.5 1108v18M1971.5 1112v16M1972.5 1112v17M1973.5 1114v1M1973.5 1116v13M1974.5 1122v7M1975.5 1124v6M1976.5 1124v7M1977.5 1125v9M1978.5 1126v12M1979.5 1127v15M1980.5 1128v17M1981.5 1132v14M1982.5 1133v15M1983.5 1137v12M1984.5 1142v8M1985.5 1143v10M1986.5 1145v9M1987.5 1147v10M1988.5 1147v12M1989.5 1150v11M1990.5 1151v11M1991.5 1154v9M1992.5 1156v9M1993.5 1159v12M1994.5 1160v13M1995.5 1160v16M1996.5 1161v18M1997.5 1166v14M1998.5 1171v10M1999.5 1172v10M2000.5 1176v6M2001.5 1177v9M2002.5 1178v14M2003.5 1179v16M2004.5 1180v18M2005.5 1181v18M2006.5 1186v13M2007.5 1189v11M2008.5 1193v8M2009.5 1196v6M2010.5 1196v6M2011.5 1197v6M2012.5 1198v8M2013.5 1198v9M2014.5 1198v11M2015.5 1199v12M2016.5 1201v13M2017.5 1204v10M2018.5 1206v9M2019.5 1209v8M2020.5 1211v7M2021.5 1212v6M2022.5 1213v8M2023.5 1214v14M2024.5 1215v15M2025.5 1215v19M2026.5 1216v20M2027.5 1220v19M2028.5 1228v13M2029.5 1231v12M2030.5 1234v11M2031.5 1236v10M2032.5 1238v11M2033.5 1240v10M2034.5 1242v13M2035.5 1244v13M2036.5 1246v13M2037.5 1247v14M2038.5 1250v11M2039.5 1254v8M2040.5 1257v8M2041.5 1257v10M2042.5 1259v9M2043.5 1261v10M2044.5 1263v9M2045.5 1264v9M2046.5 1265v10M2047.5 1268v8M2048.5 1270v8M2049.5 1271v9M2050.5 1272v8M2051.5 1273v8M2052.5 1275v6M2053.5 1275v6M2054.5 1276v6M2055.5 1276v7M2056.5 1278v6M2057.5 1278v9M2058.5 1278v13M2059.5 1279v14M2060.5 1282v12M2061.5 1284v11M2062.5 1287v8M2063.5 1290v6M2064.5 1290v7M2065.5 1291v11M2066.5 1292v13M2067.5 1293v13M2068.5 1294v14M2069.5 1295v17M2070.5 1297v4M2070.5 1302v12M2071.5 1298v2M2071.5 1304v11M2072.5 1306v11M2073.5 1308v9M2074.5 1310v9M2075.5 1313v8M2076.5 1314v8M2077.5 1315v10M2078.5 1316v11M2079.5 1318v10M2080.5 1319v11M2081.5 1321v11M2082.5 1324v11M2083.5 1326v11M2084.5 1327v13M2085.5 1330v10M2086.5 1333v8M2087.5 1334v8M2088.5 1336v8M2089.5 1336v9M2090.5 1336v9M2091.5 1336v9M2092.5 1335v10M2093.5 1335v10M2094.5 1336v9M2095.5 1337v9M2096.5 1340v9M2097.5 1341v11M2098.5 1342v11M2099.5 1344v12M2100.5 1346v14M2101.5 1349v12M2102.5 1351v13M2103.5 1353v12M2104.5 1355v11M2105.5 1358v10M2106.5 1360v9M2107.5 1362v7M2108.5 1364v6M2109.5 1364v7M2110.5 1365v6M2111.5 1366v7M2112.5 1367v7M2113.5 1368v7M2114.5 1369v9M2115.5 1370v13M2116.5 1371v12M2116.5 1386v1M2117.5 1372v16M2118.5 1373v18M2119.5 1379v13M2120.5 1381v12M2121.5 1385v10M2122.5 1388v9M2123.5 1389v9M2124.5 1390v10M2125.5 1392v10M2126.5 1394v9M2127.5 1396v8M2128.5 1398v7M2129.5 1399v7M2130.5 1400v8M2131.5 1402v8M2132.5 1402v9M2133.5 1403v9M2134.5 1406v6M2135.5 1407v7M2136.5 1408v7M2137.5 1408v10M2138.5 1409v10M2139.5 1411v9M2140.5 1412v12M2141.5 1414v11M2142.5 1415v11M2143.5 1417v10M2144.5 1420v9M2145.5 1422v9M2146.5 1423v9M2147.5 1425v9M2148.5 1426v9M2149.5 1427v9M2150.5 1429v7M2151.5 1431v5M2152.5 1431v5M2153.5 1431v6M2154.5 1432v8M2155.5 1432v9M2156.5 1433v9M2157.5 1435v10M2158.5 1437v9M2159.5 1439v9M2160.5 1440v9M2161.5 1442v8M2162.5 1444v7M2163.5 1446v6M2164.5 1447v6M2165.5 1448v6M2166.5 1448v7M2167.5 1448v9M2168.5 1449v9M2169.5 1450v11M2170.5 1451v12M2171.5 1454v11M2172.5 1456v13M2173.5 1458v13M2174.5 1460v11M2175.5 1462v11M2176.5 1465v9M2177.5 1467v8M2178.5 1468v8M2179.5 1469v7M2180.5 1470v8M2181.5 1471v8M2182.5 1472v10M2183.5 1473v10M2184.5 1475v13M2185.5 1476v13M2186.5 1478v12M2187.5 1481v11M2188.5 1483v10M2189.5 1486v7M2190.5 1487v6M2191.5 1488v6M2192.5 1488v8M2193.5 1489v9M2194.5 1490v9M2195.5 1491v9M2195.5 1501v1M2196.5 1493v11M2197.5 1494v11M2198.5 1497v8M2199.5 1498v8M2200.5 1501v6M2201.5 1502v5M2202.5 1502v5M2203.5 1502v6M2204.5 1502v9M2205.5 1503v11M2206.5 1504v12M2207.5 1506v11M2208.5 1508v11M2209.5 1510v10M2210.5 1513v7M2211.5 1514v9M2212.5 1515v9M2213.5 1516v8M2214.5 1517v7M2215.5 1519v5M2216.5 1519v5M2217.5 1519v6M2218.5 1520v7M2219.5 1520v8M2220.5 1521v8M2221.5 1522v10M2222.5 1524v9M2223.5 1526v10M2224.5 1526v11M2225.5 1529v10M2226.5 1531v11M2227.5 1533v10M2228.5 1534v10M2229.5 1535v9M2230.5 1539v6M2231.5 1540v5M2232.5 1540v5M2233.5 1540v7M2234.5 1541v6M2235.5 1542v6M2236.5 1542v7M2237.5 1543v7M2238.5 1544v10M2239.5 1545v10M2240.5 1546v9M2241.5 1548v7M2242.5 1550v5M2243.5 1550v5M2244.5 1550v6M2245.5 1551v5M2246.5 1551v8M2247.5 1552v9M2248.5 1553v9M2249.5 1554v9M2250.5 1557v8M2251.5 1558v8M2252.5 1559v8M2253.5 1561v6M2254.5 1562v5M2255.5 1562v5M2256.5 1562v5M2257.5 1562v6M2258.5 1562v8M2259.5 1562v8M2260.5 1563v8M2261.5 1565v8M2262.5 1566v8M2263.5 1566v8M2264.5 1568v7M2265.5 1570v6M2266.5 1570v7M2267.5 1571v8M2268.5 1572v7M2269.5 1573v6M2270.5 1574v6M2271.5 1575v6M2272.5 1576v5M2273.5 1576v6M2274.5 1577v7M2275.5 1578v7M2276.5 1579v6M2277.5 1580v5M2278.5 1580v5M2279.5 1580v5M2280.5 1579v5M2281.5 1579v5M2282.5 1578v6M2283.5 1579v6M2284.5 1579v7M2285.5 1580v7M2286.5 1580v8M2287.5 1581v9M2288.5 1583v7M2289.5 1584v7M2290.5 1586v5M2291.5 1586v6M2292.5 1587v5M2293.5 1588v5M2294.5 1588v5M2295.5 1588v6M2296.5 1589v5M2297.5 1590v6M2298.5 1590v7M2299.5 1590v8M2300.5 1591v8M2301.5 1593v7M2302.5 1595v7M2303.5 1595v7M2304.5 1596v7M2305.5 1597v6M2306.5 1598v6M2307.5 1599v5M2308.5 1599v5M2309.5 1599v5M2310.5 1599v6M2311.5 1599v8M2312.5 1600v8M2313.5 1601v9M2314.5 1602v10M2315.5 1604v9M2316.5 1605v9M2317.5 1607v8M2318.5 1609v8M2319.5 1611v7M2320.5 1612v8M2321.5 1613v8M2322.5 1614v7M2323.5 1616v6M2324.5 1617v6M2325.5 1618v7M2326.5 1618v13M2327.5 1619v16M2328.5 1621v17M2329.5 1622v18M2330.5 1625v17M2331.5 1630v13M2332.5 1635v8M2333.5 1636v8M2334.5 1638v8M2335.5 1638v9M2336.5 1639v12M2337.5 1642v10M2338.5 1643v11M2339.5 1645v10M2340.5 1647v9M2341.5 1649v9M2342.5 1651v7M2343.5 1652v6M2344.5 1653v6M2345.5 1653v7M2346.5 1654v6M2347.5 1655v5M2348.5 1656v5M2349.5 1656v6M2350.5 1657v7M2351.5 1657v8M2352.5 1658v7M2353.5 1659v7M2354.5 1661v7M2355.5 1661v9M2356.5 1661v10M2357.5 1663v8M2358.5 1665v7M2359.5 1667v5M2360.5 1667v6M2361.5 1668v5M2362.5 1669v5M2363.5 1669v6M2364.5 1669v7M2365.5 1670v8M2366.5 1671v8M2367.5 1672v8M2368.5 1674v7M2369.5 1675v8M2370.5 1676v7M2371.5 1677v7M2372.5 1679v6M2373.5 1680v6M2374.5 1680v6M2375.5 1680v6M2376.5 1680v6M2377.5 1679v6M2378.5 1679v6M2379.5 1679v6M2380.5 1679v7M2381.5 1679v9M2382.5 1681v9M2383.5 1682v9M2384.5 1682v9M2385.5 1682v10M2386.5 1682v11M2387.5 1681v12M2388.5 1680v12M2389.5 1679v12M2390.5 1680v8M2391.5 1680v7M2392.5 1681v6M2393.5 1682v5" fill="none" stroke="#0000ff" stroke-width="1" shape-rendering="crispEdges"/>
<text transform="translate(247.5 1750.2) scale(0.963 1)" font-size="88.9" text-anchor="end" font-family='"Liberation Sans", "DejaVu Sans", sans-serif'>0</text>
<text transform="translate(247.5 1414.4) scale(0.963 1)" font-size="88.9" text-anchor="end" font-family='"Liberation Sans", "DejaVu Sans", sans-serif'>5</text>
<text transform="translate(247.5 1078.6) scale(0.963 1)" font-size="88.9" text-anchor="end" font-family='"Liberation Sans", "DejaVu Sans", sans-serif'>10</text>
<path d="M157.64 1071.36H173.95v8.24H157.64zM181.22 1071.36H196.86v8.24H181.22z" fill="#fff"/>
<text transform="translate(247.5 742.8) scale(0.963 1)" font-size="88.9" text-anchor="end" font-family='"Liberation Sans", "DejaVu Sans", sans-serif'>15</text>
<path d="M157.64 735.56H173.95v8.24H157.64zM181.22 735.56H196.86v8.24H181.22z" fill="#fff"/>
<text transform="translate(247.5 407) scale(0.963 1)" font-size="88.9" text-anchor="end" font-family='"Liberation Sans", "DejaVu Sans", sans-serif'>20</text>
<text transform="translate(247.5 71.2) scale(0.963 1)" font-size="88.9" text-anchor="end" font-family='"Liberation Sans", "DejaVu Sans", sans-serif'>25</text>
<text transform="translate(267.9 1818.2) scale(0.963 1)" font-size="88.9" text-anchor="middle" font-family='"Liberation Sans", "DejaVu Sans", sans-serif'>0</text>
<text transform="translate(799.02 1818.2) scale(0.963 1)" font-size="88.9" text-anchor="middle" font-family='"Liberation Sans", "DejaVu Sans", sans-serif'>2000</text>
<text transform="translate(1330.15 1818.2) scale(0.963 1)" font-size="88.9" text-anchor="middle" font-family='"Liberation Sans", "DejaVu Sans", sans-serif'>4000</text>
<text transform="translate(1861.28 1818.2) scale(0.963 1)" font-size="88.9" text-anchor="middle" font-family='"Liberation Sans", "DejaVu Sans", sans-serif'>6000</text>
<text transform="translate(2392.4 1818.2) scale(0.963 1)" font-size="88.9" text-anchor="middle" font-family='"Liberation Sans", "DejaVu Sans", sans-serif'>8000</text>
<text transform="translate(1329.3 1935.2) scale(0.983 1)" font-size="117.0" text-anchor="middle" font-family='"Liberation Sans", "DejaVu Sans", sans-serif'>time step</text>
<text transform="translate(93.2 878) rotate(-90) scale(0.983 1)" font-size="117.0" text-anchor="middle" font-family='"Liberation Sans", "DejaVu Sans", sans-serif'>position RMS/s</text>
<rect x="1758" y="199" width="521" height="251" fill="#fff"/>
<path d="M1758 199H2279V450H1758zM1762 203V446H2274V203z" fill="#000" fill-rule="evenodd" shape-rendering="crispEdges"/>
<rect x="1802" y="267" width="217" height="4" fill="#00ff00" shape-rendering="crispEdges"/>
<text transform="translate(2041 300) scale(0.941 1)" font-size="91.2" text-anchor="start" font-family='"Liberation Sans", "DejaVu Sans", sans-serif'>ISEIF</text>
<rect x="1802" y="378" width="217" height="4" fill="#0000ff" shape-rendering="crispEdges"/>
<text transform="translate(2041 411) scale(0.941 1)" font-size="91.2" text-anchor="start" font-family='"Liberation Sans", "DejaVu Sans", sans-serif'>SEIF</text>
<text x="1240.3" y="2111.3" text-anchor="middle" font-family='"Liberation Serif", "DejaVu Serif", serif' font-size="84"><tspan font-size="80.5" dy="-3.7">(</tspan><tspan font-weight="bold" dx="1.2" dy="3.7">a</tspan><tspan font-size="80.5" dx="1.6" dy="-3.7">)</tspan></text>
</g>
<g id="plot-b">
<path d="M329 2252h4v1633h-4zM2397 2252h5v1633h-5zM329 2252h2073v5h-2073zM329 3880h2073v5h-2073zM846 3861h4v19h-4zM846 2257h4v19h-4zM1363 3861h5v19h-5zM1363 2257h5v19h-5zM1880 3861h5v19h-5zM1880 2257h5v19h-5zM333 3609h20v4h-20zM2378 3609h19v4h-19zM333 3338h20v4h-20zM2378 3338h19v4h-19zM333 3066h20v5h-20zM2378 3066h19v5h-19zM333 2795h20v4h-20zM2378 2795h19v4h-19zM333 2524h20v4h-20zM2378 2524h19v4h-19z" fill="#000" shape-rendering="crispEdges"/>
<path d="M330.5 3797v1M330.5 3802v44M331.5 3795v51M332.5 3795v51M333.5 3795v50M334.5 3795v25M335.5 3790v29M336.5 3782v36M337.5 3772v46M338.5 3760v54M338.5 3816v1M339.5 3747v51M340.5 3746v47M341.5 3746v47M342.5 3746v47M343.5 3746v48M344.5 3751v43M345.5 3759v35M346.5 3759v34M347.5 3759v27M348.5 3759v27M349.5 3758v28M350.5 3744v42M351.5 3743v42M352.5 3743v41M353.5 3743v41M354.5 3744v40M355.5 3747v37M356.5 3755v44M357.5 3764v50M358.5 3772v56M359.5 3775v1M359.5 3777v52M360.5 3775v1M360.5 3777v53M361.5 3775v1M361.5 3777v53M362.5 3768v61M363.5 3753v71M363.5 3827v1M364.5 3751v53M365.5 3751v53M366.5 3751v53M367.5 3752v53M368.5 3753v1M368.5 3757v48M369.5 3757v48M370.5 3757v47M371.5 3757v41M372.5 3750v35M373.5 3743v29M374.5 3742v30M375.5 3742v30M376.5 3742v43M377.5 3742v62M378.5 3747v80M379.5 3764v87M379.5 3854v1M380.5 3772v84M381.5 3772v85M382.5 3772v85M383.5 3770v87M384.5 3770v86M385.5 3770v58M386.5 3764v33M387.5 3748v49M388.5 3747v50M389.5 3747v73M390.5 3747v89M391.5 3748v88M392.5 3764v72M393.5 3764v72M394.5 3764v71M395.5 3744v89M396.5 3732v98M397.5 3717v112M398.5 3716v103M398.5 3827v1M399.5 3716v75M400.5 3716v75M401.5 3716v75M402.5 3727v86M402.5 3816v1M403.5 3749v73M404.5 3756v1M404.5 3759v81M405.5 3781v76M406.5 3803v67M407.5 3815v55M408.5 3815v56M409.5 3815v55M410.5 3788v82M411.5 3757v103M412.5 3729v131M413.5 3728v132M414.5 3728v138M415.5 3728v139M416.5 3729v139M417.5 3730v1M417.5 3742v125M418.5 3800v67M419.5 3800v66M420.5 3800v66M421.5 3801v65M422.5 3814v57M423.5 3842v34M424.5 3859v22M425.5 3859v23M426.5 3859v24M427.5 3853v30M428.5 3847v35M429.5 3825v54M429.5 3880v1M430.5 3803v66M431.5 3798v60M432.5 3795v55M433.5 3791v44M434.5 3788v25M435.5 3764v37M436.5 3723v75M437.5 3703v91M438.5 3671v120M439.5 3656v128M440.5 3656v87M441.5 3656v53M442.5 3656v30M443.5 3656v30M444.5 3656v30M445.5 3656v59M445.5 3720v1M446.5 3656v67M447.5 3656v76M448.5 3658v83M449.5 3695v56M450.5 3720v40M450.5 3761v1M451.5 3720v44M452.5 3720v44M453.5 3693v71M454.5 3691v73M455.5 3691v78M456.5 3691v78M457.5 3683v87M458.5 3656v113M459.5 3591v178M460.5 3565v195M461.5 3565v144M462.5 3564v109M463.5 3565v108M464.5 3565v108M465.5 3586v116M466.5 3615v107M467.5 3633v90M468.5 3642v81M469.5 3642v81M470.5 3642v80M471.5 3641v81M472.5 3641v81M473.5 3641v92M474.5 3641v94M475.5 3648v88M476.5 3664v72M477.5 3664v71M478.5 3664v69M479.5 3664v67M480.5 3664v67M481.5 3665v66M482.5 3674v86M483.5 3692v94M484.5 3710v77M485.5 3710v77M486.5 3710v77M487.5 3706v81M488.5 3703v79M489.5 3699v59M490.5 3694v40M491.5 3690v20M492.5 3687v19M493.5 3649v52M494.5 3648v49M495.5 3644v48M496.5 3641v49M497.5 3637v32M498.5 3630v20M499.5 3607v39M500.5 3581v1M500.5 3585v58M501.5 3580v60M502.5 3570v68M503.5 3560v58M504.5 3550v68M505.5 3542v76M506.5 3541v121M507.5 3541v122M508.5 3541v122M509.5 3541v122M510.5 3632v31M511.5 3639v36M511.5 3678v1M512.5 3639v42M513.5 3640v41M514.5 3641v40M515.5 3641v40M516.5 3641v39M517.5 3631v44M518.5 3609v62M519.5 3605v63M520.5 3604v59M521.5 3604v37M522.5 3604v35M523.5 3546v93M524.5 3504v135M525.5 3503v135M526.5 3503v134M527.5 3503v105M528.5 3503v105M529.5 3511v97M530.5 3546v66M531.5 3546v67M532.5 3546v67M533.5 3528v85M534.5 3528v84M535.5 3528v77M536.5 3528v37M537.5 3528v29M538.5 3521v36M539.5 3521v35M540.5 3521v35M541.5 3521v35M542.5 3522v52M543.5 3530v67M544.5 3542v77M545.5 3553v82M546.5 3563v73M547.5 3586v50M548.5 3607v29M549.5 3607v29M550.5 3607v29M551.5 3563v73M552.5 3545v91M553.5 3535v100M554.5 3521v107M555.5 3518v66M556.5 3517v56M557.5 3517v56M558.5 3517v56M559.5 3519v54M560.5 3536v37M561.5 3536v37M562.5 3536v88M563.5 3536v110M564.5 3536v111M565.5 3545v102M566.5 3598v49M567.5 3601v46M568.5 3601v60M569.5 3601v75M570.5 3601v76M571.5 3601v76M572.5 3574v103M573.5 3573v103M574.5 3573v81M575.5 3573v66M576.5 3573v66M577.5 3579v60M578.5 3590v48M579.5 3590v48M580.5 3590v48M581.5 3591v47M582.5 3591v48M583.5 3600v62M584.5 3610v75M585.5 3621v69M586.5 3625v1M586.5 3629v61M587.5 3651v101M588.5 3664v126M589.5 3664v127M590.5 3665v126M591.5 3704v87M592.5 3731v59M593.5 3731v51M594.5 3731v33M595.5 3730v34M596.5 3729v35M597.5 3730v35M598.5 3730v42M599.5 3730v42M600.5 3730v42M601.5 3728v44M602.5 3701v70M603.5 3668v92M604.5 3654v92M605.5 3651v80M606.5 3647v69M607.5 3643v41M608.5 3642v42M609.5 3642v42M610.5 3642v64M610.5 3708v1M611.5 3643v68M612.5 3643v68M613.5 3643v68M614.5 3643v68M615.5 3642v68M616.5 3637v53M617.5 3632v36M618.5 3631v23M619.5 3631v23M620.5 3631v23M621.5 3631v28M622.5 3634v55M623.5 3642v77M624.5 3650v90M625.5 3654v87M626.5 3675v66M627.5 3697v44M628.5 3697v43M629.5 3697v40M630.5 3693v33M631.5 3688v27M632.5 3686v29M633.5 3686v29M634.5 3686v47M635.5 3686v48M636.5 3686v48M637.5 3659v75M638.5 3647v86M639.5 3646v87M640.5 3646v87M640.5 3734v1M641.5 3646v105M642.5 3647v145M643.5 3673v121M644.5 3711v83M645.5 3727v67M646.5 3727v67M647.5 3727v67M648.5 3727v67M649.5 3727v71M650.5 3727v95M651.5 3739v88M652.5 3761v67M653.5 3761v67M654.5 3761v67M655.5 3752v75M656.5 3735v76M657.5 3718v70M658.5 3702v62M659.5 3701v63M660.5 3701v63M661.5 3701v72M661.5 3776v1M662.5 3701v78M663.5 3707v72M664.5 3709v70M665.5 3709v70M666.5 3709v69M667.5 3709v69M668.5 3709v69M669.5 3710v73M670.5 3719v73M671.5 3719v74M672.5 3719v74M673.5 3714v79M674.5 3713v79M675.5 3713v61M676.5 3713v39M677.5 3714v38M678.5 3714v38M679.5 3714v39M680.5 3684v69M681.5 3652v101M682.5 3648v104M683.5 3634v103M684.5 3624v77M685.5 3623v75M686.5 3623v75M687.5 3623v75M688.5 3624v74M689.5 3624v75M690.5 3624v74M691.5 3617v81M692.5 3616v82M693.5 3616v88M694.5 3616v89M695.5 3617v89M696.5 3640v65M697.5 3671v34M698.5 3671v32M699.5 3671v27M700.5 3655v1M700.5 3657v37M701.5 3649v40M702.5 3633v54M703.5 3616v61M704.5 3599v65M705.5 3595v69M706.5 3595v69M707.5 3594v79M708.5 3595v79M709.5 3596v78M710.5 3621v53M711.5 3626v48M712.5 3626v43M712.5 3671v1M713.5 3626v43M714.5 3626v43M715.5 3631v39M716.5 3638v62M717.5 3645v74M718.5 3651v69M719.5 3657v72M720.5 3667v69M721.5 3667v70M722.5 3669v68M723.5 3680v57M724.5 3680v69M725.5 3680v70M726.5 3681v70M727.5 3682v1M727.5 3688v62M728.5 3703v47M729.5 3703v47M730.5 3703v47M731.5 3704v49M732.5 3704v74M733.5 3704v76M734.5 3628v153M735.5 3628v153M736.5 3627v153M737.5 3627v151M738.5 3628v84M739.5 3629v1M739.5 3634v78M740.5 3651v61M741.5 3651v61M742.5 3651v61M743.5 3650v64M744.5 3651v64M745.5 3652v63M746.5 3656v59M747.5 3656v59M748.5 3656v53M748.5 3712v1M749.5 3656v29M750.5 3634v43M751.5 3592v1M751.5 3598v79M752.5 3591v86M753.5 3590v86M754.5 3590v61M755.5 3591v60M756.5 3592v59M757.5 3602v57M758.5 3602v66M759.5 3602v66M760.5 3595v74M761.5 3572v96M762.5 3571v97M763.5 3571v74M764.5 3571v69M764.5 3641v1M765.5 3572v68M765.5 3641v1M766.5 3581v59M766.5 3641v1M767.5 3599v45M768.5 3599v45M769.5 3599v45M770.5 3584v60M771.5 3580v63M772.5 3580v56M773.5 3579v57M774.5 3580v56M775.5 3581v55M776.5 3596v40M777.5 3596v40M778.5 3596v40M779.5 3596v48M780.5 3596v51M781.5 3524v1M781.5 3537v111M782.5 3522v126M783.5 3515v133M784.5 3509v138M785.5 3503v82M786.5 3502v83M787.5 3502v83M788.5 3502v112M789.5 3502v113M790.5 3519v97M791.5 3530v86M792.5 3530v85M793.5 3530v80M794.5 3529v81M795.5 3529v81M796.5 3529v107M796.5 3641v1M797.5 3530v114M798.5 3537v107M799.5 3577v67M800.5 3593v51M801.5 3593v51M802.5 3593v51M803.5 3593v66M804.5 3594v79M805.5 3595v79M806.5 3595v79M807.5 3595v79M808.5 3595v78M809.5 3594v73M810.5 3595v45M811.5 3595v45M812.5 3609v31M813.5 3609v31M814.5 3609v31M815.5 3609v44M816.5 3610v48M817.5 3610v71M818.5 3624v79M819.5 3632v72M820.5 3632v72M821.5 3632v72M822.5 3629v75M823.5 3626v70M823.5 3701v1M824.5 3625v64M824.5 3692v1M825.5 3624v65M825.5 3692v1M826.5 3625v64M826.5 3692v1M827.5 3625v69M828.5 3630v65M829.5 3651v44M830.5 3651v44M831.5 3651v44M832.5 3650v45M833.5 3651v63M834.5 3652v63M835.5 3666v49M836.5 3672v43M837.5 3672v43M838.5 3672v43M839.5 3672v62M840.5 3672v63M841.5 3673v63M842.5 3693v43M843.5 3694v41M844.5 3694v37M845.5 3694v29M846.5 3694v29M847.5 3664v59M848.5 3643v80M849.5 3642v81M850.5 3642v80M851.5 3641v48M852.5 3640v6M853.5 3620v25M854.5 3601v43M855.5 3588v56M856.5 3586v58M857.5 3586v76M858.5 3586v97M859.5 3587v127M860.5 3595v132M861.5 3640v88M862.5 3640v88M863.5 3640v88M864.5 3625v102M865.5 3621v74M866.5 3621v74M867.5 3620v75M868.5 3621v88M869.5 3622v87M870.5 3644v66M871.5 3656v54M872.5 3656v54M873.5 3656v63M874.5 3656v89M875.5 3657v89M876.5 3676v70M877.5 3705v41M878.5 3705v41M879.5 3705v47M880.5 3705v70M881.5 3705v71M882.5 3682v94M883.5 3675v101M884.5 3653v123M885.5 3631v135M886.5 3621v84M887.5 3621v84M888.5 3620v85M889.5 3621v85M890.5 3621v86M891.5 3626v81M892.5 3626v81M893.5 3626v80M894.5 3615v85M895.5 3604v62M896.5 3603v63M897.5 3603v63M898.5 3603v90M899.5 3603v104M900.5 3609v99M901.5 3610v98M902.5 3610v98M903.5 3610v97M904.5 3610v79M905.5 3609v53M906.5 3610v52M907.5 3610v52M908.5 3620v61M909.5 3633v69M910.5 3645v76M911.5 3650v73M912.5 3650v73M913.5 3650v73M914.5 3627v96M915.5 3626v95M916.5 3626v70M917.5 3626v70M918.5 3626v70M919.5 3626v76M920.5 3626v77M921.5 3613v90M922.5 3565v138M923.5 3564v138M924.5 3563v130M925.5 3563v76M926.5 3564v75M927.5 3565v74M928.5 3574v67M929.5 3584v82M930.5 3594v97M931.5 3605v108M932.5 3630v85M933.5 3654v61M934.5 3654v61M935.5 3654v61M936.5 3639v74M937.5 3598v103M938.5 3580v109M939.5 3567v109M940.5 3555v104M941.5 3545v73M942.5 3544v39M943.5 3544v35M944.5 3544v35M945.5 3540v39M946.5 3520v58M947.5 3519v59M948.5 3518v55M949.5 3518v55M950.5 3519v54M951.5 3520v60M952.5 3532v82M953.5 3546v98M954.5 3560v85M955.5 3560v86M956.5 3560v86M957.5 3555v90M958.5 3543v96M959.5 3529v81M960.5 3516v66M961.5 3505v54M962.5 3503v55M963.5 3503v55M964.5 3503v55M965.5 3503v79M966.5 3505v117M967.5 3526v113M968.5 3549v91M969.5 3563v77M970.5 3571v69M971.5 3571v69M971.5 3645v1M972.5 3571v77M973.5 3571v77M974.5 3562v86M975.5 3527v121M976.5 3520v127M977.5 3520v127M978.5 3519v128M979.5 3520v143M980.5 3521v143M981.5 3551v114M982.5 3598v66M983.5 3603v61M984.5 3603v59M985.5 3603v55M986.5 3583v71M987.5 3582v71M988.5 3582v71M989.5 3582v71M990.5 3583v94M991.5 3594v88M992.5 3594v88M993.5 3594v88M994.5 3558v124M995.5 3556v125M996.5 3556v98M997.5 3556v89M998.5 3557v88M999.5 3562v83M1000.5 3582v85M1001.5 3602v87M1001.5 3692v1M1002.5 3619v75M1003.5 3634v61M1004.5 3656v39M1005.5 3666v28M1006.5 3666v27M1007.5 3666v24M1008.5 3625v62M1009.5 3584v101M1010.5 3537v1M1010.5 3543v140M1011.5 3536v146M1012.5 3535v110M1013.5 3535v82M1014.5 3535v82M1015.5 3537v80M1016.5 3549v68M1017.5 3549v67M1018.5 3549v63M1019.5 3548v64M1020.5 3548v64M1021.5 3549v65M1022.5 3550v1M1022.5 3554v78M1023.5 3576v75M1024.5 3598v72M1025.5 3611v77M1025.5 3690v1M1026.5 3620v73M1027.5 3620v73M1028.5 3620v73M1029.5 3591v102M1030.5 3564v128M1031.5 3562v102M1032.5 3562v75M1033.5 3562v75M1034.5 3562v75M1035.5 3562v75M1036.5 3560v77M1037.5 3558v79M1038.5 3558v78M1039.5 3558v65M1040.5 3558v65M1041.5 3558v65M1042.5 3558v66M1043.5 3550v74M1044.5 3529v94M1045.5 3528v94M1046.5 3528v78M1047.5 3528v78M1048.5 3528v78M1049.5 3534v73M1050.5 3550v57M1051.5 3550v57M1052.5 3550v56M1053.5 3549v57M1054.5 3549v57M1055.5 3549v67M1056.5 3549v68M1057.5 3500v117M1058.5 3475v142M1059.5 3475v141M1060.5 3474v117M1061.5 3475v110M1062.5 3476v109M1063.5 3494v91M1064.5 3520v66M1065.5 3522v64M1066.5 3522v63M1067.5 3522v58M1068.5 3522v39M1069.5 3522v35M1070.5 3522v35M1071.5 3508v49M1072.5 3479v78M1073.5 3452v104M1074.5 3451v100M1075.5 3451v100M1076.5 3451v100M1077.5 3451v102M1078.5 3458v126M1079.5 3490v126M1080.5 3522v100M1081.5 3532v90M1082.5 3532v90M1083.5 3532v90M1084.5 3532v89M1085.5 3532v82M1086.5 3534v80M1087.5 3534v80M1088.5 3534v80M1089.5 3524v90M1090.5 3497v116M1091.5 3495v105M1092.5 3495v74M1093.5 3495v62M1094.5 3495v62M1095.5 3473v84M1096.5 3453v104M1097.5 3452v104M1098.5 3452v96M1099.5 3452v46M1100.5 3453v45M1101.5 3455v43M1102.5 3458v52M1103.5 3460v64M1104.5 3465v98M1105.5 3472v98M1106.5 3472v98M1107.5 3472v99M1108.5 3426v144M1109.5 3407v162M1110.5 3406v163M1111.5 3406v163M1112.5 3406v163M1113.5 3407v172M1114.5 3431v166M1115.5 3489v126M1115.5 3617v1M1116.5 3547v72M1117.5 3558v62M1118.5 3558v62M1119.5 3558v87M1120.5 3558v96M1121.5 3558v97M1122.5 3558v97M1123.5 3553v102M1124.5 3552v102M1125.5 3552v76M1126.5 3552v63M1127.5 3553v62M1128.5 3562v53M1129.5 3563v53M1130.5 3563v52M1131.5 3563v52M1132.5 3563v42M1133.5 3563v42M1134.5 3564v41M1135.5 3575v34M1136.5 3575v38M1137.5 3575v39M1138.5 3532v82M1139.5 3514v100M1140.5 3514v99M1141.5 3513v82M1142.5 3514v81M1143.5 3515v80M1144.5 3531v76M1145.5 3556v67M1146.5 3575v60M1147.5 3575v61M1148.5 3575v61M1149.5 3569v67M1150.5 3560v75M1151.5 3512v113M1152.5 3469v133M1153.5 3467v112M1154.5 3462v105M1155.5 3456v79M1156.5 3451v64M1157.5 3450v65M1158.5 3449v66M1159.5 3449v87M1160.5 3450v114M1161.5 3451v141M1162.5 3492v105M1163.5 3531v84M1164.5 3550v82M1165.5 3578v57M1166.5 3594v48M1167.5 3607v42M1168.5 3614v39M1169.5 3614v39M1170.5 3614v40M1171.5 3598v55M1172.5 3592v61M1173.5 3575v65M1174.5 3558v64M1175.5 3550v54M1176.5 3549v49M1177.5 3549v46M1178.5 3549v46M1179.5 3549v46M1180.5 3549v46M1181.5 3545v50M1182.5 3544v51M1183.5 3544v62M1184.5 3544v88M1185.5 3545v88M1186.5 3564v69M1187.5 3566v67M1188.5 3566v67M1189.5 3566v67M1190.5 3566v67M1191.5 3566v67M1192.5 3566v72M1193.5 3572v81M1194.5 3596v64M1195.5 3607v53M1196.5 3607v54M1197.5 3607v54M1198.5 3599v62M1199.5 3599v89M1200.5 3599v90M1201.5 3599v90M1202.5 3600v89M1203.5 3655v33M1204.5 3655v31M1205.5 3655v26M1206.5 3640v37M1207.5 3632v40M1208.5 3631v37M1209.5 3631v33M1210.5 3631v33M1211.5 3632v32M1212.5 3638v33M1213.5 3638v46M1214.5 3638v53M1215.5 3627v65M1216.5 3570v122M1217.5 3547v145M1218.5 3546v145M1219.5 3546v108M1220.5 3546v97M1221.5 3547v96M1222.5 3565v78M1223.5 3587v60M1224.5 3587v61M1225.5 3587v61M1226.5 3546v1M1226.5 3551v97M1227.5 3544v103M1228.5 3544v97M1229.5 3544v73M1230.5 3544v73M1231.5 3545v72M1232.5 3545v72M1233.5 3545v71M1234.5 3533v79M1235.5 3529v83M1236.5 3528v84M1237.5 3528v125M1238.5 3528v127M1239.5 3529v126M1240.5 3569v86M1241.5 3630v25M1242.5 3634v21M1243.5 3634v21M1244.5 3634v27M1245.5 3634v35M1246.5 3634v36M1247.5 3598v72M1248.5 3564v106M1249.5 3564v105M1250.5 3563v90M1251.5 3563v53M1252.5 3563v48M1253.5 3563v48M1254.5 3543v68M1255.5 3542v69M1256.5 3542v69M1257.5 3542v106M1258.5 3542v146M1259.5 3549v146M1260.5 3589v107M1261.5 3610v86M1262.5 3610v86M1263.5 3610v85M1264.5 3573v107M1265.5 3566v94M1266.5 3566v77M1267.5 3566v62M1268.5 3566v25M1269.5 3566v13M1270.5 3550v29M1271.5 3521v1M1271.5 3525v54M1272.5 3520v58M1273.5 3519v58M1274.5 3519v42M1275.5 3519v27M1276.5 3505v41M1277.5 3477v1M1277.5 3481v65M1278.5 3476v70M1279.5 3475v78M1280.5 3475v87M1281.5 3476v86M1282.5 3477v85M1283.5 3519v43M1284.5 3519v43M1285.5 3519v48M1286.5 3520v48M1287.5 3521v47M1288.5 3522v46M1289.5 3522v82M1290.5 3522v111M1291.5 3522v111M1292.5 3523v110M1293.5 3535v98M1294.5 3535v97M1295.5 3535v91M1296.5 3535v91M1297.5 3535v91M1298.5 3536v95M1299.5 3542v106M1300.5 3577v88M1301.5 3613v67M1302.5 3622v60M1303.5 3622v60M1304.5 3622v60M1305.5 3621v61M1306.5 3620v62M1307.5 3621v61M1308.5 3621v62M1309.5 3625v59M1310.5 3629v56M1311.5 3629v56M1312.5 3629v55M1313.5 3606v74M1314.5 3583v81M1315.5 3567v80M1316.5 3566v73M1317.5 3566v51M1318.5 3566v33M1319.5 3566v33M1320.5 3559v40M1321.5 3547v52M1322.5 3546v53M1323.5 3545v54M1324.5 3546v70M1325.5 3546v97M1326.5 3551v110M1327.5 3553v109M1328.5 3553v109M1329.5 3553v109M1330.5 3552v109M1331.5 3552v90M1332.5 3552v62M1333.5 3535v79M1334.5 3533v81M1335.5 3533v81M1336.5 3533v79M1337.5 3533v69M1338.5 3535v67M1339.5 3535v67M1340.5 3535v67M1341.5 3533v69M1342.5 3533v69M1343.5 3533v75M1344.5 3533v89M1345.5 3535v110M1346.5 3562v106M1347.5 3593v97M1348.5 3619v82M1349.5 3634v67M1350.5 3634v67M1351.5 3634v67M1352.5 3631v69M1353.5 3630v57M1354.5 3630v57M1355.5 3630v57M1356.5 3631v69M1357.5 3632v69M1358.5 3632v69M1359.5 3632v69M1360.5 3631v70M1361.5 3631v57M1362.5 3631v38M1363.5 3629v40M1364.5 3602v67M1365.5 3583v85M1366.5 3582v86M1367.5 3582v86M1368.5 3582v100M1369.5 3582v115M1370.5 3597v100M1371.5 3620v77M1372.5 3620v77M1373.5 3620v76M1374.5 3620v70M1375.5 3621v69M1376.5 3622v68M1377.5 3641v57M1378.5 3662v44M1379.5 3662v52M1380.5 3662v53M1381.5 3656v59M1382.5 3640v75M1383.5 3640v75M1384.5 3639v69M1384.5 3712v1M1385.5 3640v49M1386.5 3640v49M1387.5 3647v42M1388.5 3647v42M1389.5 3647v42M1390.5 3643v46M1391.5 3640v49M1392.5 3640v87M1393.5 3639v120M1394.5 3640v145M1395.5 3641v162M1396.5 3690v113M1397.5 3724v80M1398.5 3724v79M1399.5 3724v79M1400.5 3724v67M1401.5 3724v46M1402.5 3724v46M1403.5 3724v46M1404.5 3724v47M1405.5 3709v62M1406.5 3699v71M1407.5 3698v67M1407.5 3768v1M1408.5 3698v45M1409.5 3698v39M1410.5 3698v39M1411.5 3690v47M1412.5 3662v75M1413.5 3637v99M1414.5 3629v102M1414.5 3734v1M1415.5 3616v87M1416.5 3602v73M1417.5 3595v54M1418.5 3595v54M1419.5 3594v55M1420.5 3594v57M1421.5 3594v57M1422.5 3582v69M1423.5 3554v97M1424.5 3548v102M1425.5 3547v80M1426.5 3547v80M1427.5 3547v80M1428.5 3549v79M1429.5 3569v59M1430.5 3573v55M1431.5 3573v55M1432.5 3573v55M1433.5 3573v81M1434.5 3573v119M1435.5 3573v123M1436.5 3591v113M1437.5 3633v80M1438.5 3675v46M1439.5 3690v1M1439.5 3692v37M1440.5 3690v1M1440.5 3692v44M1441.5 3690v1M1441.5 3692v45M1442.5 3689v48M1443.5 3667v70M1444.5 3666v70M1445.5 3665v60M1446.5 3666v39M1447.5 3666v39M1448.5 3666v39M1449.5 3651v55M1450.5 3630v76M1451.5 3629v77M1452.5 3629v77M1453.5 3629v94M1454.5 3629v118M1455.5 3636v112M1456.5 3671v77M1457.5 3681v67M1458.5 3681v66M1459.5 3681v61M1460.5 3680v41M1461.5 3681v40M1462.5 3681v40M1463.5 3685v47M1464.5 3689v67M1465.5 3694v63M1466.5 3695v62M1467.5 3716v41M1468.5 3716v41M1469.5 3716v38M1470.5 3715v39M1471.5 3714v40M1472.5 3715v62M1473.5 3715v83M1474.5 3720v79M1475.5 3743v57M1476.5 3747v53M1477.5 3747v53M1478.5 3747v74M1479.5 3748v85M1480.5 3753v80M1481.5 3781v53M1482.5 3793v40M1483.5 3793v40M1484.5 3793v27M1485.5 3793v26M1486.5 3765v54M1487.5 3737v81M1488.5 3735v83M1489.5 3735v83M1490.5 3735v83M1491.5 3735v83M1492.5 3737v82M1493.5 3737v82M1494.5 3737v83M1495.5 3722v98M1496.5 3698v122M1497.5 3697v122M1498.5 3697v113M1499.5 3697v105M1500.5 3698v104M1501.5 3710v92M1502.5 3710v92M1503.5 3710v92M1504.5 3697v98M1505.5 3685v76M1506.5 3679v48M1507.5 3671v43M1508.5 3660v43M1509.5 3648v1M1509.5 3650v53M1510.5 3647v56M1511.5 3646v58M1512.5 3646v99M1513.5 3647v135M1514.5 3648v135M1515.5 3685v98M1516.5 3725v58M1517.5 3754v29M1518.5 3754v29M1519.5 3754v29M1520.5 3754v39M1521.5 3754v40M1522.5 3756v38M1523.5 3770v24M1524.5 3770v24M1525.5 3770v56M1526.5 3770v95M1527.5 3771v111M1528.5 3772v110M1529.5 3807v76M1530.5 3807v75M1531.5 3807v75M1532.5 3802v74M1533.5 3774v89M1534.5 3773v78M1535.5 3773v72M1536.5 3773v44M1537.5 3773v32M1538.5 3773v32M1539.5 3768v37M1540.5 3755v49M1541.5 3752v52M1542.5 3751v53M1543.5 3751v94M1544.5 3751v96M1545.5 3753v99M1546.5 3782v75M1547.5 3782v78M1548.5 3782v79M1549.5 3769v92M1550.5 3742v119M1551.5 3737v123M1552.5 3729v103M1553.5 3720v70M1554.5 3712v36M1555.5 3705v36M1556.5 3692v41M1557.5 3680v44M1558.5 3673v43M1559.5 3664v47M1559.5 3712v1M1560.5 3652v46M1561.5 3651v47M1562.5 3650v48M1563.5 3650v54M1564.5 3651v64M1565.5 3652v77M1566.5 3672v71M1567.5 3694v63M1568.5 3694v64M1569.5 3694v65M1570.5 3692v67M1571.5 3686v72M1572.5 3686v67M1572.5 3756v1M1573.5 3686v67M1573.5 3756v1M1574.5 3686v67M1574.5 3756v1M1575.5 3687v71M1576.5 3687v71M1577.5 3687v72M1578.5 3673v85M1579.5 3672v86M1580.5 3672v73M1581.5 3672v73M1582.5 3673v72M1583.5 3686v59M1584.5 3712v33M1585.5 3712v32M1586.5 3712v32M1587.5 3712v32M1588.5 3712v35M1589.5 3712v45M1590.5 3719v58M1591.5 3730v60M1592.5 3730v61M1593.5 3730v61M1594.5 3711v80M1595.5 3693v98M1596.5 3685v94M1597.5 3670v81M1598.5 3655v69M1599.5 3641v56M1600.5 3640v52M1601.5 3639v49M1602.5 3639v49M1603.5 3638v50M1604.5 3584v104M1605.5 3562v126M1606.5 3561v126M1607.5 3561v104M1608.5 3561v104M1609.5 3562v103M1610.5 3583v84M1611.5 3615v66M1611.5 3682v1M1612.5 3640v45M1613.5 3647v38M1614.5 3648v37M1615.5 3648v37M1616.5 3648v37M1617.5 3648v37M1618.5 3648v48M1619.5 3648v49M1620.5 3648v49M1621.5 3648v49M1622.5 3643v54M1623.5 3639v53M1624.5 3633v43M1625.5 3628v48M1626.5 3624v52M1627.5 3623v57M1628.5 3623v83M1629.5 3623v84M1630.5 3624v83M1631.5 3650v57M1632.5 3678v29M1633.5 3678v58M1634.5 3678v58M1635.5 3668v69M1636.5 3640v97M1637.5 3629v107M1638.5 3613v116M1638.5 3734v1M1639.5 3602v86M1640.5 3601v87M1641.5 3601v87M1642.5 3601v118M1643.5 3602v124M1644.5 3620v118M1645.5 3661v78M1646.5 3694v46M1647.5 3694v45M1648.5 3694v45M1649.5 3694v45M1650.5 3694v47M1650.5 3742v1M1651.5 3694v51M1652.5 3694v51M1653.5 3682v63M1654.5 3671v74M1655.5 3670v96M1656.5 3670v108M1657.5 3670v109M1658.5 3671v108M1659.5 3684v95M1660.5 3684v94M1661.5 3684v73M1662.5 3685v67M1663.5 3685v67M1664.5 3685v67M1665.5 3658v94M1666.5 3636v115M1667.5 3636v101M1668.5 3635v102M1669.5 3636v101M1670.5 3636v113M1671.5 3650v100M1672.5 3681v70M1673.5 3683v67M1674.5 3683v67M1675.5 3683v63M1676.5 3682v64M1677.5 3682v64M1678.5 3682v95M1679.5 3682v109M1680.5 3697v94M1681.5 3719v72M1682.5 3719v72M1683.5 3719v71M1684.5 3718v57M1685.5 3718v43M1686.5 3719v42M1687.5 3720v41M1688.5 3727v59M1689.5 3733v78M1690.5 3737v75M1691.5 3749v63M1692.5 3770v42M1693.5 3770v42M1694.5 3770v76M1695.5 3770v111M1696.5 3771v111M1697.5 3788v95M1698.5 3827v56M1699.5 3866v17M1700.5 3866v17M1701.5 3866v17M1702.5 3860v23M1703.5 3852v30M1704.5 3849v32M1705.5 3848v25M1706.5 3848v25M1707.5 3840v33M1708.5 3817v56M1709.5 3795v78M1710.5 3790v82M1711.5 3790v82M1712.5 3789v83M1713.5 3790v91M1714.5 3791v91M1715.5 3810v73M1716.5 3840v43M1717.5 3840v43M1718.5 3840v43M1719.5 3819v64M1720.5 3780v1M1720.5 3785v97M1721.5 3776v106M1722.5 3763v105M1723.5 3751v83M1724.5 3738v75M1725.5 3725v88M1726.5 3724v89M1727.5 3724v143M1728.5 3724v143M1729.5 3724v144M1730.5 3726v1M1730.5 3744v123M1731.5 3770v97M1732.5 3770v74M1733.5 3770v74M1734.5 3770v74M1735.5 3769v93M1735.5 3880v1M1736.5 3769v113M1737.5 3769v114M1738.5 3769v114M1739.5 3771v1M1739.5 3774v108M1740.5 3774v107M1741.5 3774v84M1742.5 3772v62M1743.5 3769v40M1744.5 3766v43M1745.5 3765v44M1746.5 3765v55M1747.5 3765v77M1748.5 3765v78M1749.5 3767v1M1749.5 3772v71M1750.5 3798v45M1751.5 3798v44M1752.5 3798v44M1753.5 3798v44M1754.5 3798v60M1755.5 3798v61M1756.5 3803v57M1757.5 3811v48M1758.5 3811v48M1759.5 3811v48M1760.5 3811v48M1761.5 3790v70M1762.5 3768v91M1763.5 3767v92M1764.5 3767v74M1765.5 3767v74M1766.5 3768v73M1767.5 3778v72M1768.5 3801v57M1769.5 3824v43M1770.5 3824v46M1771.5 3824v46M1772.5 3818v53M1773.5 3796v74M1774.5 3795v75M1775.5 3795v75M1776.5 3795v79M1777.5 3795v79M1778.5 3797v1M1778.5 3802v73M1779.5 3828v46M1780.5 3828v46M1781.5 3828v46M1782.5 3828v46M1783.5 3828v49M1784.5 3829v49M1785.5 3831v48M1786.5 3831v47M1787.5 3831v47M1788.5 3828v46M1788.5 3876v1M1789.5 3824v31M1790.5 3823v32M1791.5 3822v33M1792.5 3822v47M1793.5 3823v55M1794.5 3823v55M1795.5 3841v38M1796.5 3860v20M1797.5 3860v22M1798.5 3860v22M1799.5 3853v30M1800.5 3838v44M1801.5 3827v55M1802.5 3826v56M1803.5 3826v56M1804.5 3826v56M1805.5 3826v56M1806.5 3826v57M1807.5 3809v73M1808.5 3785v97M1809.5 3781v85M1810.5 3780v86M1811.5 3780v86M1812.5 3780v100M1813.5 3781v100M1814.5 3807v74M1815.5 3829v52M1816.5 3829v51M1817.5 3829v51M1818.5 3829v51M1819.5 3829v53M1820.5 3829v53M1821.5 3816v67M1822.5 3811v71M1823.5 3795v87M1824.5 3780v80M1825.5 3769v59M1826.5 3768v60M1827.5 3768v60M1828.5 3768v64M1829.5 3768v86M1830.5 3778v81M1831.5 3778v81M1832.5 3778v82M1833.5 3758v101M1834.5 3757v101M1835.5 3757v77M1836.5 3757v42M1837.5 3756v7M1838.5 3755v7M1839.5 3755v7M1840.5 3755v7M1841.5 3756v38M1842.5 3758v115M1843.5 3759v115M1844.5 3759v116M1845.5 3759v116M1846.5 3745v129M1847.5 3742v131M1848.5 3736v99M1849.5 3729v101M1850.5 3727v103M1851.5 3727v103M1852.5 3727v105M1853.5 3727v105M1854.5 3728v104M1855.5 3781v51M1856.5 3781v51M1857.5 3781v65M1858.5 3782v75M1859.5 3787v71M1860.5 3809v49M1861.5 3809v49M1862.5 3809v48M1863.5 3808v49M1864.5 3808v49M1865.5 3808v49M1866.5 3780v77M1867.5 3779v78M1868.5 3778v78M1869.5 3778v54M1870.5 3764v68M1871.5 3712v120M1872.5 3705v127M1873.5 3693v138M1874.5 3680v113M1875.5 3669v68M1876.5 3667v70M1877.5 3667v70M1878.5 3667v120M1879.5 3667v141M1880.5 3669v140M1881.5 3713v96M1882.5 3743v66M1883.5 3743v65M1884.5 3743v49M1885.5 3744v48M1886.5 3745v47M1887.5 3745v67M1888.5 3746v95M1889.5 3746v130M1890.5 3767v115M1891.5 3809v73M1892.5 3824v59M1893.5 3824v59M1894.5 3824v59M1895.5 3819v64M1896.5 3803v79M1897.5 3802v80M1898.5 3802v73M1899.5 3802v73M1900.5 3803v72M1901.5 3814v61M1902.5 3822v54M1903.5 3822v54M1904.5 3822v53M1905.5 3822v53M1906.5 3822v50M1907.5 3823v49M1908.5 3824v48M1909.5 3831v51M1910.5 3833v49M1911.5 3833v50M1912.5 3833v49M1913.5 3826v56M1914.5 3825v46M1915.5 3823v33M1916.5 3820v20M1917.5 3818v22M1918.5 3817v23M1919.5 3817v45M1920.5 3817v64M1921.5 3817v65M1922.5 3821v62M1923.5 3821v61M1924.5 3821v61M1925.5 3801v77M1926.5 3767v94M1927.5 3752v92M1928.5 3751v91M1929.5 3751v91M1930.5 3751v91M1931.5 3752v91M1932.5 3769v74M1933.5 3807v36M1934.5 3811v48M1935.5 3811v70M1936.5 3812v70M1937.5 3813v70M1938.5 3817v65M1939.5 3817v65M1940.5 3817v65M1941.5 3817v65M1942.5 3827v55M1943.5 3847v36M1944.5 3847v35M1945.5 3847v34M1946.5 3847v34M1947.5 3847v34M1948.5 3847v35M1949.5 3846v36M1950.5 3819v64M1951.5 3818v64M1952.5 3818v64M1953.5 3818v64M1954.5 3819v63M1955.5 3824v59M1956.5 3828v55M1957.5 3828v54M1958.5 3828v53M1959.5 3826v51M1960.5 3825v52M1961.5 3825v52M1962.5 3825v57M1963.5 3825v57M1964.5 3801v82M1965.5 3765v117M1966.5 3749v132M1967.5 3749v100M1968.5 3748v60M1969.5 3749v59M1970.5 3749v59M1971.5 3753v55M1972.5 3753v55M1973.5 3753v55M1974.5 3753v71M1975.5 3754v83M1976.5 3755v83M1977.5 3781v57M1978.5 3787v51M1979.5 3787v50M1980.5 3787v36M1981.5 3786v33M1982.5 3784v35M1983.5 3784v35M1984.5 3784v58M1985.5 3784v59M1986.5 3785v58M1987.5 3808v35M1988.5 3825v18M1989.5 3825v24M1990.5 3825v43M1990.5 3870v1M1991.5 3825v48M1992.5 3825v48M1993.5 3825v48M1994.5 3818v55M1995.5 3817v56M1996.5 3817v60M1996.5 3880v1M1997.5 3817v65M1998.5 3818v65M1999.5 3818v65M2000.5 3818v64M2001.5 3815v66M2002.5 3786v1M2002.5 3790v79M2003.5 3784v71M2004.5 3784v61M2005.5 3784v46M2006.5 3784v46M2007.5 3765v65M2008.5 3764v65M2009.5 3764v65M2010.5 3764v65M2011.5 3765v64M2012.5 3767v99M2013.5 3768v99M2014.5 3768v100M2015.5 3778v90M2016.5 3841v27M2017.5 3841v27M2018.5 3841v31M2019.5 3841v40M2020.5 3842v40M2021.5 3842v41M2022.5 3842v40M2023.5 3802v80M2024.5 3785v93M2025.5 3784v79M2026.5 3784v66M2027.5 3784v39M2028.5 3778v45M2029.5 3772v51M2030.5 3772v52M2031.5 3772v91M2032.5 3772v93M2033.5 3773v99M2034.5 3802v77M2035.5 3837v45M2036.5 3837v45M2037.5 3837v46M2038.5 3827v55M2039.5 3826v55M2040.5 3826v47M2041.5 3826v47M2042.5 3827v46M2043.5 3837v36M2044.5 3841v32M2045.5 3841v33M2045.5 3876v1M2046.5 3841v37M2047.5 3841v37M2048.5 3830v49M2049.5 3814v64M2050.5 3814v64M2051.5 3813v65M2052.5 3814v64M2053.5 3814v66M2054.5 3819v61M2055.5 3843v37M2056.5 3843v37M2057.5 3843v37M2058.5 3843v37M2059.5 3843v38M2060.5 3843v39M2061.5 3843v40M2062.5 3837v45M2063.5 3832v50M2064.5 3832v46M2064.5 3880v1M2065.5 3832v46M2065.5 3880v1M2066.5 3832v46M2066.5 3880v1M2067.5 3832v50M2068.5 3832v50M2069.5 3827v56M2070.5 3809v73M2071.5 3807v75M2072.5 3800v64M2073.5 3796v49M2074.5 3795v50M2075.5 3795v50M2076.5 3795v51M2077.5 3795v51M2078.5 3772v74M2079.5 3770v75M2080.5 3766v68M2081.5 3762v46M2082.5 3759v49M2083.5 3758v50M2084.5 3758v81M2085.5 3758v87M2086.5 3759v97M2087.5 3785v82M2088.5 3824v54M2089.5 3839v42M2090.5 3839v42M2091.5 3839v42M2092.5 3830v51M2093.5 3814v66M2094.5 3790v1M2094.5 3793v74M2095.5 3789v59M2096.5 3788v60M2097.5 3788v60M2098.5 3788v63M2099.5 3789v71M2100.5 3803v58M2101.5 3807v54M2102.5 3807v54M2103.5 3807v53M2104.5 3806v44M2105.5 3806v40M2106.5 3806v40M2107.5 3807v39M2108.5 3814v32M2109.5 3814v32M2110.5 3814v32M2111.5 3814v49M2111.5 3865v1M2112.5 3814v53M2113.5 3816v1M2113.5 3819v53M2114.5 3837v40M2115.5 3837v45M2116.5 3837v45M2117.5 3833v50M2118.5 3820v62M2119.5 3820v62M2120.5 3819v57M2121.5 3820v49M2122.5 3820v49M2123.5 3826v43M2124.5 3834v48M2125.5 3834v48M2126.5 3834v49M2127.5 3824v58M2128.5 3823v59M2129.5 3822v55M2130.5 3822v54M2131.5 3823v53M2132.5 3824v52M2133.5 3824v57M2134.5 3824v58M2135.5 3791v1M2135.5 3799v84M2136.5 3790v93M2137.5 3789v93M2138.5 3789v92M2139.5 3790v75M2140.5 3790v75M2141.5 3790v75M2142.5 3752v113M2143.5 3731v134M2144.5 3730v134M2145.5 3730v100M2146.5 3730v70M2147.5 3731v69M2148.5 3742v58M2149.5 3753v47M2150.5 3753v47M2151.5 3753v57M2152.5 3754v57M2153.5 3754v57M2154.5 3755v1M2154.5 3765v46M2155.5 3781v49M2156.5 3781v97M2157.5 3781v97M2158.5 3768v111M2159.5 3767v111M2160.5 3767v111M2161.5 3767v95M2162.5 3768v94M2163.5 3782v80M2164.5 3783v79M2165.5 3783v79M2166.5 3783v79M2167.5 3783v79M2168.5 3783v98M2169.5 3783v99M2170.5 3798v85M2171.5 3833v50M2172.5 3838v44M2173.5 3838v43M2174.5 3838v34M2175.5 3830v34M2176.5 3829v35M2177.5 3829v35M2178.5 3829v49M2178.5 3880v1M2179.5 3830v52M2180.5 3834v48M2181.5 3834v49M2182.5 3834v48M2183.5 3776v105M2184.5 3717v157M2185.5 3716v149M2186.5 3716v143M2187.5 3714v108M2188.5 3700v29M2189.5 3674v45M2190.5 3657v61M2191.5 3656v61M2192.5 3656v56M2192.5 3715v1M2193.5 3656v55M2194.5 3656v55M2195.5 3656v55M2196.5 3640v71M2197.5 3633v78M2198.5 3620v85M2198.5 3708v1M2199.5 3619v56M2200.5 3619v55M2201.5 3619v55M2202.5 3619v55M2203.5 3621v53M2204.5 3622v52M2205.5 3622v81M2206.5 3622v82M2207.5 3622v82M2208.5 3629v75M2209.5 3629v74M2210.5 3629v69M2211.5 3629v68M2212.5 3629v68M2213.5 3630v67M2214.5 3647v60M2214.5 3708v1M2215.5 3658v53M2216.5 3658v53M2217.5 3658v53M2218.5 3635v76M2219.5 3623v87M2220.5 3605v88M2221.5 3588v82M2222.5 3587v60M2223.5 3586v61M2224.5 3586v61M2225.5 3586v62M2226.5 3582v66M2227.5 3581v67M2228.5 3581v67M2229.5 3581v81M2229.5 3666v1M2230.5 3581v87M2231.5 3587v81M2232.5 3618v51M2233.5 3620v49M2234.5 3620v61M2235.5 3620v62M2236.5 3620v62M2237.5 3620v62M2238.5 3618v64M2239.5 3605v72M2240.5 3592v65M2241.5 3584v53M2242.5 3568v53M2243.5 3552v64M2244.5 3551v65M2245.5 3551v65M2246.5 3551v91M2247.5 3551v92M2248.5 3558v85M2249.5 3597v46M2250.5 3626v35M2251.5 3626v64M2252.5 3626v92M2253.5 3627v92M2254.5 3647v72M2255.5 3675v44M2256.5 3675v44M2257.5 3675v44M2258.5 3675v71M2259.5 3675v84M2260.5 3675v85M2261.5 3629v1M2261.5 3637v123M2262.5 3628v132M2263.5 3627v132M2264.5 3627v95M2265.5 3627v95M2266.5 3627v95M2267.5 3627v101M2268.5 3628v116M2269.5 3629v1M2269.5 3635v110M2270.5 3672v73M2271.5 3672v73M2272.5 3672v72M2273.5 3630v106M2274.5 3576v149M2275.5 3575v139M2276.5 3575v131M2277.5 3575v97M2278.5 3575v73M2279.5 3584v64M2280.5 3602v46M2281.5 3611v38M2282.5 3611v38M2283.5 3611v39M2284.5 3598v52M2285.5 3597v53M2286.5 3597v64M2287.5 3597v65M2288.5 3598v64M2289.5 3598v64M2290.5 3598v63M2291.5 3580v72M2292.5 3571v72M2292.5 3647v1M2293.5 3570v73M2293.5 3647v1M2294.5 3570v73M2294.5 3647v1M2295.5 3570v79M2296.5 3571v79M2297.5 3575v75M2298.5 3575v74M2299.5 3575v73M2300.5 3556v84M2301.5 3552v80M2302.5 3546v81M2303.5 3542v85M2304.5 3542v85M2305.5 3542v111M2306.5 3542v143M2307.5 3543v143M2308.5 3581v105M2309.5 3602v1M2309.5 3613v76M2310.5 3649v66M2311.5 3649v92M2312.5 3649v103M2313.5 3649v104M2314.5 3642v111M2315.5 3641v112M2316.5 3641v111M2317.5 3641v64M2318.5 3632v50M2319.5 3631v51M2320.5 3630v52M2321.5 3630v57M2322.5 3630v58M2323.5 3630v58M2324.5 3618v70M2325.5 3616v72M2326.5 3613v68M2326.5 3685v1M2327.5 3609v41M2328.5 3609v41M2329.5 3608v42M2330.5 3609v56M2331.5 3609v57M2332.5 3616v50M2333.5 3616v50M2334.5 3616v50M2335.5 3616v50M2336.5 3616v118M2337.5 3617v117M2338.5 3630v105M2339.5 3644v91M2340.5 3693v58M2341.5 3693v75M2342.5 3694v75M2343.5 3695v74M2344.5 3716v53M2345.5 3716v53M2346.5 3716v53M2347.5 3716v71M2348.5 3716v71M2349.5 3717v70M2350.5 3746v62M2351.5 3752v57M2352.5 3753v57M2353.5 3754v1M2353.5 3759v51M2354.5 3766v45M2355.5 3766v45M2356.5 3766v46M2357.5 3760v52M2358.5 3759v53M2359.5 3758v68M2360.5 3758v71M2361.5 3759v79M2362.5 3760v1M2362.5 3766v73M2363.5 3785v55M2364.5 3785v55M2365.5 3785v71M2366.5 3785v77M2367.5 3785v93M2368.5 3787v95M2369.5 3836v47M2370.5 3855v28M2371.5 3870v14M2372.5 3870v14M2373.5 3870v14M2374.5 3809v1M2374.5 3827v57M2375.5 3807v76M2376.5 3807v74M2377.5 3783v97M2378.5 3728v1M2378.5 3735v144M2379.5 3725v103M2380.5 3701v126M2381.5 3696v111M2382.5 3694v72M2383.5 3693v73M2384.5 3693v73M2385.5 3692v186M2386.5 3693v185M2387.5 3694v184M2388.5 3753v125M2389.5 3819v58M2390.5 3819v58M2391.5 3819v58M2392.5 3819v59M2393.5 3819v59M2394.5 3819v59M2395.5 3776v102M2396.5 3772v104M2397.5 3762v92M2398.5 3760v86M2399.5 3760v37M2400.5 3760v17" fill="none" stroke="#00ff00" stroke-width="1" shape-rendering="crispEdges"/>
<path d="M330.5 3854v1M330.5 3857v25M331.5 3853v30M332.5 3852v30M333.5 3852v29M334.5 3840v33M335.5 3837v36M336.5 3831v42M337.5 3826v47M338.5 3825v48M339.5 3825v55M340.5 3825v56M341.5 3826v55M342.5 3830v51M343.5 3830v51M344.5 3830v49M345.5 3830v49M346.5 3829v50M347.5 3817v61M348.5 3809v69M349.5 3783v1M349.5 3787v84M350.5 3780v54M351.5 3742v1M351.5 3747v77M352.5 3741v71M353.5 3740v60M354.5 3740v60M355.5 3740v60M356.5 3742v60M357.5 3742v60M358.5 3742v60M359.5 3723v79M360.5 3710v91M361.5 3709v72M362.5 3709v49M363.5 3709v44M364.5 3709v44M365.5 3709v44M366.5 3698v55M367.5 3665v88M368.5 3648v104M369.5 3632v97M370.5 3624v76M371.5 3619v65M372.5 3616v35M373.5 3591v48M374.5 3570v57M375.5 3547v75M376.5 3520v99M377.5 3520v85M378.5 3519v71M379.5 3520v70M380.5 3520v70M381.5 3520v81M382.5 3520v82M383.5 3520v82M384.5 3499v103M385.5 3484v117M386.5 3483v74M387.5 3483v47M387.5 3532v1M388.5 3483v47M388.5 3532v1M389.5 3483v47M389.5 3532v1M390.5 3490v45M390.5 3536v1M391.5 3501v38M392.5 3509v30M393.5 3509v30M394.5 3509v32M395.5 3509v33M396.5 3485v57M397.5 3479v63M398.5 3479v62M399.5 3479v56M399.5 3539v1M400.5 3445v1M400.5 3453v71M401.5 3444v80M402.5 3443v81M403.5 3396v1M403.5 3412v111M404.5 3390v93M405.5 3343v119M406.5 3342v119M407.5 3342v118M408.5 3342v92M409.5 3343v91M410.5 3344v90M411.5 3354v137M412.5 3362v187M413.5 3362v238M414.5 3362v239M415.5 3359v243M416.5 3358v244M417.5 3354v247M418.5 3350v250M419.5 3349v43M420.5 3349v43M421.5 3349v43M422.5 3349v67M423.5 3351v1M423.5 3354v88M424.5 3372v71M425.5 3382v62M426.5 3382v61M427.5 3382v61M428.5 3363v75M428.5 3441v1M429.5 3346v73M430.5 3345v55M431.5 3343v46M432.5 3340v32M433.5 3333v21M434.5 3327v27M435.5 3326v28M436.5 3326v28M437.5 3326v43M438.5 3326v45M439.5 3276v1M439.5 3293v78M440.5 3221v150M441.5 3167v1M441.5 3177v194M442.5 3165v204M443.5 3165v145M444.5 3165v112M445.5 3126v1M445.5 3132v80M446.5 3124v73M447.5 3124v73M448.5 3124v73M449.5 3124v78M450.5 3125v77M451.5 3125v77M452.5 3125v77M453.5 3113v88M454.5 3105v75M455.5 3105v58M456.5 3104v59M457.5 3105v58M458.5 3105v67M459.5 3118v54M460.5 3118v54M461.5 3118v54M462.5 3102v69M463.5 3085v72M464.5 3084v54M465.5 3084v44M466.5 3084v44M467.5 3084v44M468.5 3084v45M469.5 3078v50M470.5 3068v60M471.5 3056v62M472.5 3050v58M473.5 3050v58M474.5 3050v58M475.5 3050v77M476.5 3051v108M477.5 3070v103M478.5 3097v76M479.5 3107v1M479.5 3112v62M480.5 3116v57M481.5 3116v57M482.5 3116v45M483.5 3116v41M484.5 3111v46M485.5 3090v67M486.5 3089v68M487.5 3089v66M488.5 3089v45M489.5 3089v45M490.5 3092v42M491.5 3104v33M492.5 3116v24M493.5 3116v28M494.5 3116v29M495.5 3114v31M496.5 3100v45M497.5 3100v45M498.5 3099v41M498.5 3142v1M499.5 3098v28M500.5 3097v29M501.5 3096v30M502.5 3096v50M503.5 3096v59M504.5 3097v76M505.5 3117v74M506.5 3137v58M507.5 3152v43M508.5 3152v43M509.5 3152v43M510.5 3133v61M511.5 3102v82M512.5 3087v86M513.5 3067v96M514.5 3049v107M515.5 3048v61M516.5 3048v48M517.5 3048v28M518.5 3048v26M519.5 3037v37M520.5 3005v69M521.5 2999v75M522.5 2988v85M523.5 2976v76M524.5 2976v49M525.5 2975v50M526.5 2975v50M527.5 2971v54M528.5 2957v68M529.5 2956v68M530.5 2956v62M531.5 2956v52M532.5 2957v51M533.5 2964v44M534.5 2966v43M535.5 2966v43M536.5 2966v42M537.5 2922v83M537.5 3006v1M538.5 2903v89M539.5 2881v98M540.5 2860v112M541.5 2859v85M542.5 2859v85M543.5 2859v85M544.5 2860v98M545.5 2868v105M546.5 2919v69M547.5 2938v54M548.5 2943v49M549.5 2943v49M550.5 2943v49M551.5 2938v53M552.5 2912v65M553.5 2888v75M554.5 2887v62M555.5 2887v55M556.5 2887v55M557.5 2887v55M558.5 2892v67M559.5 2892v75M560.5 2892v76M561.5 2878v90M562.5 2851v117M563.5 2850v117M564.5 2850v89M565.5 2850v82M566.5 2851v81M567.5 2864v68M568.5 2875v57M569.5 2875v57M570.5 2875v50M571.5 2875v50M572.5 2874v51M573.5 2875v53M574.5 2875v61M575.5 2875v61M576.5 2826v1M576.5 2833v103M577.5 2824v112M578.5 2817v118M579.5 2809v95M580.5 2808v96M581.5 2808v96M582.5 2808v104M583.5 2809v104M584.5 2817v96M585.5 2867v46M586.5 2868v45M587.5 2868v45M588.5 2868v65M589.5 2869v73M590.5 2869v74M591.5 2869v74M592.5 2866v77M593.5 2850v92M594.5 2848v74M595.5 2848v53M596.5 2848v53M597.5 2848v53M598.5 2848v60M599.5 2848v61M600.5 2840v69M601.5 2834v75M602.5 2834v75M603.5 2834v75M604.5 2833v123M605.5 2833v129M606.5 2833v141M607.5 2833v153M608.5 2865v132M609.5 2949v50M610.5 2949v50M611.5 2949v50M612.5 2939v60M613.5 2929v68M614.5 2915v64M615.5 2902v61M616.5 2901v62M617.5 2900v63M618.5 2901v63M619.5 2901v64M620.5 2907v58M621.5 2907v58M622.5 2907v58M623.5 2907v75M624.5 2907v76M625.5 2908v75M626.5 2923v60M627.5 2923v59M628.5 2923v50M629.5 2903v59M630.5 2896v55M631.5 2864v78M632.5 2835v98M633.5 2833v79M634.5 2833v68M635.5 2833v64M636.5 2833v64M637.5 2833v64M638.5 2830v67M639.5 2830v67M640.5 2829v68M641.5 2830v73M642.5 2830v84M643.5 2847v67M644.5 2870v45M645.5 2878v36M646.5 2878v36M647.5 2878v36M648.5 2879v35M649.5 2880v67M649.5 2987v1M650.5 2886v103M651.5 2894v96M652.5 2901v89M653.5 2907v82M654.5 2937v51M655.5 2937v40M656.5 2937v35M657.5 2937v35M658.5 2937v35M659.5 2921v51M660.5 2921v51M661.5 2921v51M662.5 2921v67M663.5 2922v67M664.5 2937v56M665.5 2958v40M666.5 2971v30M667.5 2971v31M668.5 2971v31M669.5 2955v47M670.5 2946v55M671.5 2919v75M672.5 2891v87M673.5 2866v97M674.5 2865v85M675.5 2863v69M676.5 2860v44M677.5 2857v46M678.5 2857v46M679.5 2857v46M680.5 2857v60M681.5 2858v64M682.5 2873v59M683.5 2893v49M684.5 2914v38M685.5 2918v45M686.5 2923v41M687.5 2923v42M688.5 2923v42M689.5 2907v58M690.5 2902v62M691.5 2902v62M692.5 2902v62M693.5 2902v66M694.5 2903v75M695.5 2917v61M696.5 2938v41M697.5 2938v40M698.5 2938v39M699.5 2867v104M700.5 2838v124M701.5 2821v133M702.5 2805v143M703.5 2788v114M704.5 2788v53M705.5 2787v54M706.5 2787v54M707.5 2788v60M708.5 2789v1M708.5 2792v58M709.5 2789v1M709.5 2792v58M710.5 2789v1M710.5 2792v58M711.5 2788v62M712.5 2760v88M713.5 2759v77M714.5 2759v77M715.5 2759v77M716.5 2759v87M717.5 2765v98M718.5 2794v87M719.5 2822v67M720.5 2836v54M721.5 2836v54M722.5 2836v54M723.5 2836v53M724.5 2836v34M725.5 2836v34M726.5 2808v62M727.5 2788v81M728.5 2787v81M729.5 2787v62M730.5 2787v43M731.5 2787v43M732.5 2787v43M733.5 2787v43M734.5 2769v61M735.5 2768v62M736.5 2767v57M736.5 2827v1M737.5 2764v47M738.5 2763v48M739.5 2763v48M740.5 2763v67M741.5 2763v68M742.5 2763v68M743.5 2763v68M744.5 2760v71M745.5 2759v67M746.5 2759v54M747.5 2759v54M748.5 2759v54M749.5 2711v103M750.5 2702v111M751.5 2701v112M752.5 2701v90M753.5 2701v36M754.5 2701v30M755.5 2682v49M756.5 2654v76M757.5 2634v96M758.5 2633v91M759.5 2633v63M760.5 2633v59M761.5 2634v58M762.5 2638v54M763.5 2646v70M764.5 2653v65M765.5 2656v67M766.5 2680v47M767.5 2705v30M768.5 2715v30M769.5 2720v36M769.5 2757v1M770.5 2720v39M771.5 2720v40M772.5 2711v49M773.5 2702v58M774.5 2683v76M775.5 2665v75M776.5 2652v68M777.5 2651v54M778.5 2651v49M779.5 2651v49M780.5 2652v48M781.5 2654v46M782.5 2654v47M783.5 2654v47M784.5 2654v47M785.5 2654v72M786.5 2654v96M787.5 2660v92M788.5 2678v74M789.5 2678v74M790.5 2678v74M791.5 2678v72M792.5 2678v58M793.5 2678v58M794.5 2664v72M795.5 2630v106M796.5 2629v106M797.5 2628v107M798.5 2628v107M799.5 2629v109M799.5 2741v1M800.5 2630v114M801.5 2659v85M802.5 2675v69M803.5 2675v69M804.5 2675v68M805.5 2664v64M806.5 2663v65M807.5 2663v65M808.5 2663v95M809.5 2663v96M810.5 2678v81M811.5 2691v68M812.5 2691v67M813.5 2691v63M814.5 2683v47M815.5 2682v48M816.5 2682v48M817.5 2682v50M818.5 2683v50M819.5 2688v45M820.5 2708v25M821.5 2709v24M822.5 2709v40M823.5 2710v41M824.5 2711v47M825.5 2724v42M826.5 2724v48M827.5 2724v49M828.5 2695v78M829.5 2677v96M830.5 2673v99M831.5 2668v87M832.5 2663v51M833.5 2662v44M833.5 2707v1M834.5 2662v44M834.5 2707v1M835.5 2662v44M835.5 2707v1M836.5 2662v48M837.5 2662v48M838.5 2651v59M839.5 2650v60M840.5 2650v79M841.5 2650v80M842.5 2651v80M843.5 2659v72M844.5 2708v23M845.5 2708v34M846.5 2708v62M847.5 2708v81M848.5 2709v106M849.5 2728v108M850.5 2757v80M851.5 2757v80M852.5 2757v80M853.5 2757v80M854.5 2757v70M855.5 2758v68M856.5 2768v58M857.5 2783v43M858.5 2783v43M859.5 2783v82M860.5 2783v115M861.5 2784v115M862.5 2785v1M862.5 2792v107M863.5 2799v100M864.5 2799v99M865.5 2799v81M866.5 2799v60M867.5 2799v60M868.5 2776v82M869.5 2771v87M870.5 2761v84M871.5 2753v72M872.5 2752v73M873.5 2752v73M874.5 2752v74M875.5 2751v75M876.5 2750v76M877.5 2750v75M878.5 2750v55M879.5 2741v47M880.5 2719v69M881.5 2718v69M882.5 2715v71M883.5 2712v44M884.5 2711v45M885.5 2711v45M886.5 2711v51M887.5 2711v88M888.5 2713v102M889.5 2740v96M890.5 2757v89M891.5 2781v65M892.5 2809v37M893.5 2809v37M894.5 2809v68M895.5 2809v110M896.5 2809v112M897.5 2811v110M898.5 2827v94M899.5 2827v94M900.5 2827v92M901.5 2814v80M902.5 2807v60M903.5 2806v38M904.5 2806v38M905.5 2806v38M906.5 2807v68M907.5 2814v75M908.5 2826v64M909.5 2826v64M910.5 2826v64M911.5 2826v64M912.5 2825v65M913.5 2826v69M914.5 2826v70M915.5 2826v71M916.5 2803v94M917.5 2800v96M918.5 2793v102M919.5 2786v69M920.5 2779v31M921.5 2745v59M922.5 2730v66M923.5 2729v67M924.5 2729v67M925.5 2729v67M926.5 2730v67M927.5 2746v51M928.5 2769v34M929.5 2775v70M930.5 2775v88M931.5 2775v88M932.5 2777v1M932.5 2783v81M933.5 2801v62M934.5 2801v62M935.5 2801v48M936.5 2801v44M937.5 2801v44M938.5 2801v44M939.5 2801v44M940.5 2794v51M941.5 2784v61M942.5 2773v70M943.5 2762v62M944.5 2752v51M945.5 2743v44M946.5 2742v45M947.5 2742v45M948.5 2742v45M949.5 2743v63M950.5 2752v73M951.5 2770v69M952.5 2770v69M953.5 2770v70M954.5 2754v85M955.5 2735v104M956.5 2734v92M957.5 2733v64M958.5 2734v55M959.5 2734v55M960.5 2738v51M961.5 2754v35M962.5 2754v35M963.5 2754v35M964.5 2754v35M965.5 2755v37M966.5 2756v40M967.5 2766v38M968.5 2775v37M969.5 2775v38M970.5 2775v39M971.5 2753v60M972.5 2732v81M973.5 2731v77M974.5 2731v62M975.5 2731v62M976.5 2731v62M977.5 2736v64M978.5 2736v65M979.5 2736v65M980.5 2734v67M981.5 2720v80M982.5 2692v98M983.5 2685v82M984.5 2663v82M985.5 2648v84M986.5 2643v61M987.5 2634v59M988.5 2624v53M989.5 2622v55M990.5 2621v56M991.5 2621v99M992.5 2621v101M993.5 2622v100M994.5 2654v68M995.5 2665v57M996.5 2665v55M997.5 2665v39M998.5 2655v32M999.5 2625v52M1000.5 2604v69M1001.5 2602v66M1002.5 2596v70M1003.5 2592v47M1004.5 2591v48M1005.5 2591v48M1006.5 2591v54M1007.5 2592v54M1008.5 2600v46M1009.5 2600v46M1010.5 2600v45M1011.5 2599v43M1012.5 2599v43M1013.5 2599v43M1014.5 2600v52M1015.5 2607v84M1016.5 2616v92M1017.5 2624v84M1018.5 2633v76M1019.5 2671v38M1020.5 2671v54M1021.5 2671v72M1022.5 2672v110M1023.5 2689v110M1024.5 2713v87M1025.5 2727v73M1026.5 2754v46M1027.5 2754v45M1028.5 2754v45M1029.5 2755v44M1030.5 2755v48M1031.5 2762v42M1032.5 2762v42M1033.5 2762v42M1034.5 2757v46M1035.5 2740v60M1036.5 2722v63M1037.5 2713v56M1038.5 2712v52M1039.5 2712v52M1040.5 2712v52M1041.5 2713v52M1042.5 2713v53M1043.5 2713v53M1044.5 2712v53M1045.5 2687v78M1046.5 2659v1M1046.5 2663v85M1047.5 2657v73M1048.5 2657v73M1049.5 2657v73M1050.5 2657v81M1051.5 2658v96M1052.5 2684v86M1053.5 2712v75M1054.5 2735v68M1055.5 2747v60M1056.5 2747v60M1057.5 2747v60M1058.5 2747v60M1059.5 2746v60M1060.5 2746v51M1061.5 2746v51M1062.5 2746v51M1063.5 2746v51M1064.5 2728v69M1065.5 2727v69M1066.5 2727v54M1067.5 2727v32M1068.5 2726v33M1069.5 2725v34M1070.5 2724v49M1071.5 2724v51M1072.5 2720v55M1073.5 2685v90M1074.5 2684v91M1075.5 2684v89M1076.5 2684v55M1077.5 2684v55M1078.5 2687v52M1079.5 2698v106M1080.5 2708v97M1081.5 2719v88M1082.5 2727v83M1083.5 2739v72M1084.5 2739v73M1085.5 2739v73M1086.5 2719v92M1087.5 2718v92M1088.5 2718v69M1089.5 2718v69M1090.5 2718v69M1091.5 2729v59M1092.5 2729v59M1093.5 2729v58M1094.5 2727v60M1095.5 2726v53M1096.5 2726v53M1097.5 2726v53M1098.5 2726v53M1099.5 2726v54M1100.5 2707v72M1101.5 2706v73M1102.5 2705v62M1103.5 2705v62M1104.5 2706v61M1105.5 2707v60M1106.5 2715v53M1107.5 2715v53M1108.5 2715v53M1109.5 2699v68M1110.5 2684v78M1111.5 2672v66M1112.5 2671v48M1113.5 2671v36M1114.5 2671v36M1115.5 2672v35M1116.5 2675v39M1117.5 2685v41M1118.5 2695v37M1119.5 2700v49M1120.5 2709v62M1121.5 2721v72M1122.5 2730v83M1123.5 2739v75M1124.5 2739v75M1125.5 2739v75M1126.5 2737v77M1127.5 2736v73M1128.5 2735v51M1129.5 2736v49M1130.5 2736v49M1131.5 2738v47M1132.5 2738v47M1133.5 2738v47M1134.5 2724v60M1135.5 2724v50M1136.5 2723v48M1137.5 2723v48M1138.5 2724v47M1139.5 2725v1M1139.5 2728v43M1140.5 2725v1M1140.5 2728v43M1141.5 2725v1M1141.5 2728v43M1142.5 2695v71M1143.5 2694v63M1144.5 2693v55M1145.5 2693v54M1146.5 2694v53M1147.5 2695v52M1148.5 2702v45M1149.5 2702v45M1150.5 2702v44M1151.5 2701v38M1152.5 2701v25M1153.5 2701v16M1154.5 2697v20M1155.5 2680v37M1156.5 2668v49M1157.5 2667v49M1158.5 2667v37M1159.5 2667v32M1160.5 2667v32M1161.5 2651v48M1162.5 2650v49M1163.5 2650v71M1164.5 2650v72M1165.5 2651v71M1166.5 2667v55M1167.5 2685v36M1168.5 2685v34M1169.5 2685v30M1170.5 2680v31M1171.5 2679v30M1172.5 2679v27M1173.5 2679v27M1174.5 2679v27M1175.5 2670v36M1176.5 2649v57M1177.5 2639v66M1178.5 2618v83M1179.5 2594v1M1179.5 2598v82M1180.5 2592v67M1181.5 2586v56M1182.5 2579v49M1183.5 2575v53M1184.5 2574v54M1185.5 2574v64M1186.5 2574v84M1187.5 2575v88M1188.5 2595v77M1189.5 2624v57M1190.5 2654v30M1191.5 2658v41M1192.5 2667v47M1193.5 2676v53M1194.5 2681v56M1195.5 2681v56M1196.5 2681v56M1197.5 2663v74M1198.5 2659v77M1199.5 2654v65M1200.5 2647v46M1201.5 2646v37M1202.5 2645v38M1203.5 2645v38M1204.5 2645v39M1205.5 2593v91M1206.5 2592v92M1207.5 2591v92M1208.5 2591v83M1209.5 2592v79M1210.5 2593v78M1211.5 2613v58M1212.5 2624v47M1213.5 2624v46M1214.5 2624v45M1215.5 2625v44M1216.5 2629v40M1217.5 2634v53M1218.5 2638v67M1219.5 2642v92M1220.5 2655v87M1221.5 2655v88M1222.5 2655v88M1223.5 2655v88M1224.5 2655v88M1225.5 2655v88M1226.5 2656v111M1227.5 2664v104M1228.5 2671v98M1229.5 2677v92M1230.5 2718v51M1231.5 2718v107M1232.5 2718v109M1233.5 2718v115M1234.5 2729v110M1235.5 2798v44M1236.5 2813v29M1237.5 2813v29M1238.5 2813v34M1239.5 2813v63M1239.5 2879v1M1240.5 2813v68M1241.5 2814v68M1242.5 2834v48M1243.5 2841v41M1244.5 2841v41M1245.5 2841v42M1246.5 2776v107M1247.5 2750v133M1248.5 2749v133M1249.5 2749v123M1250.5 2749v73M1251.5 2750v72M1252.5 2750v72M1253.5 2750v73M1254.5 2751v72M1255.5 2752v71M1256.5 2753v69M1257.5 2753v57M1258.5 2753v57M1259.5 2748v62M1260.5 2740v70M1261.5 2740v69M1262.5 2739v69M1263.5 2739v38M1264.5 2739v38M1265.5 2739v38M1266.5 2735v42M1267.5 2734v42M1268.5 2734v42M1269.5 2734v42M1270.5 2734v43M1271.5 2708v69M1272.5 2701v76M1273.5 2680v96M1274.5 2670v91M1275.5 2669v66M1276.5 2669v66M1277.5 2669v66M1278.5 2670v76M1279.5 2688v69M1280.5 2708v50M1281.5 2708v50M1282.5 2708v50M1283.5 2707v51M1284.5 2707v79M1285.5 2707v96M1286.5 2708v104M1287.5 2725v92M1288.5 2756v62M1289.5 2756v62M1290.5 2756v62M1291.5 2740v77M1292.5 2724v75M1293.5 2716v58M1294.5 2715v44M1295.5 2715v32M1296.5 2715v32M1297.5 2716v31M1298.5 2721v65M1299.5 2727v95M1300.5 2734v89M1301.5 2738v85M1302.5 2760v63M1303.5 2763v60M1304.5 2763v55M1305.5 2763v38M1306.5 2763v38M1307.5 2763v38M1308.5 2763v38M1309.5 2745v56M1310.5 2744v56M1311.5 2744v56M1312.5 2744v56M1313.5 2744v57M1314.5 2750v51M1315.5 2776v36M1316.5 2785v54M1317.5 2785v92M1318.5 2786v110M1319.5 2793v104M1320.5 2833v64M1321.5 2840v57M1322.5 2840v57M1323.5 2840v65M1324.5 2841v78M1325.5 2841v79M1326.5 2856v64M1327.5 2858v62M1328.5 2858v77M1329.5 2858v123M1330.5 2859v140M1331.5 2869v131M1332.5 2929v71M1333.5 2929v71M1334.5 2929v70M1335.5 2919v73M1336.5 2911v81M1337.5 2910v82M1338.5 2910v83M1339.5 2910v83M1340.5 2887v106M1341.5 2881v111M1342.5 2880v97M1343.5 2880v61M1344.5 2880v45M1345.5 2880v45M1346.5 2877v48M1347.5 2851v74M1348.5 2850v75M1349.5 2849v70M1350.5 2849v70M1351.5 2850v69M1352.5 2851v87M1353.5 2870v81M1354.5 2890v61M1355.5 2907v44M1356.5 2907v44M1357.5 2907v43M1358.5 2894v48M1359.5 2893v49M1360.5 2893v49M1361.5 2893v53M1362.5 2893v58M1363.5 2898v53M1364.5 2918v33M1365.5 2925v26M1366.5 2925v46M1367.5 2925v73M1368.5 2925v85M1369.5 2927v1M1369.5 2931v79M1370.5 2956v55M1371.5 2956v54M1372.5 2956v54M1373.5 2908v93M1374.5 2877v112M1375.5 2871v107M1376.5 2860v114M1377.5 2854v77M1378.5 2854v37M1379.5 2853v38M1380.5 2854v37M1381.5 2854v59M1382.5 2865v69M1383.5 2880v73M1384.5 2888v67M1385.5 2892v63M1386.5 2892v63M1387.5 2892v63M1388.5 2878v75M1389.5 2870v60M1390.5 2870v55M1391.5 2870v55M1392.5 2870v55M1393.5 2871v71M1394.5 2883v60M1395.5 2897v46M1396.5 2897v46M1397.5 2897v46M1398.5 2896v47M1399.5 2896v53M1400.5 2896v63M1401.5 2896v64M1402.5 2884v76M1403.5 2883v77M1404.5 2882v77M1405.5 2881v46M1406.5 2880v47M1407.5 2880v47M1408.5 2880v47M1409.5 2880v56M1410.5 2882v1M1410.5 2885v51M1411.5 2894v42M1412.5 2894v42M1413.5 2894v42M1414.5 2893v46M1415.5 2894v49M1416.5 2894v57M1417.5 2905v53M1418.5 2921v42M1419.5 2921v42M1420.5 2921v43M1421.5 2921v42M1422.5 2921v42M1423.5 2921v42M1424.5 2922v91M1425.5 2928v128M1426.5 2936v120M1427.5 2944v112M1428.5 2946v1M1428.5 2960v96M1429.5 2960v95M1430.5 2960v71M1431.5 2959v40M1432.5 2958v41M1433.5 2958v41M1434.5 2958v69M1435.5 2958v75M1436.5 2960v74M1437.5 2979v55M1438.5 2979v55M1439.5 2979v54M1440.5 2979v39M1441.5 2980v38M1442.5 2981v37M1443.5 2988v46M1444.5 2996v41M1445.5 2996v42M1446.5 2996v42M1447.5 2989v49M1448.5 2988v49M1449.5 2988v40M1450.5 2988v40M1451.5 2985v1M1451.5 2988v40M1452.5 2984v44M1453.5 2983v55M1454.5 2983v71M1455.5 2983v72M1456.5 2979v76M1457.5 2977v78M1458.5 2977v77M1459.5 2977v52M1460.5 2977v37M1461.5 2964v50M1462.5 2938v76M1463.5 2936v78M1464.5 2936v72M1464.5 3011v1M1465.5 2936v52M1466.5 2936v52M1467.5 2936v52M1468.5 2936v53M1469.5 2928v61M1470.5 2908v81M1471.5 2907v81M1472.5 2907v62M1473.5 2907v43M1474.5 2908v42M1475.5 2910v40M1476.5 2910v40M1477.5 2910v40M1478.5 2910v45M1479.5 2910v58M1480.5 2910v70M1481.5 2912v80M1482.5 2940v63M1483.5 2965v39M1484.5 2965v40M1485.5 2965v40M1486.5 2964v41M1487.5 2963v42M1488.5 2963v44M1489.5 2963v49M1490.5 2964v49M1491.5 2964v49M1492.5 2964v49M1493.5 2929v83M1494.5 2880v126M1495.5 2874v126M1496.5 2864v133M1497.5 2853v113M1498.5 2847v43M1499.5 2847v41M1500.5 2846v42M1501.5 2847v41M1502.5 2847v59M1503.5 2855v74M1504.5 2872v78M1505.5 2885v66M1506.5 2895v56M1507.5 2913v38M1508.5 2913v60M1509.5 2913v61M1510.5 2913v61M1511.5 2922v52M1512.5 2922v51M1513.5 2922v43M1514.5 2919v46M1515.5 2873v92M1516.5 2871v94M1517.5 2867v97M1518.5 2864v89M1518.5 2962v1M1519.5 2864v62M1520.5 2863v63M1521.5 2864v62M1522.5 2864v63M1523.5 2883v44M1524.5 2895v37M1525.5 2895v43M1526.5 2895v43M1527.5 2873v65M1528.5 2860v78M1529.5 2855v82M1530.5 2846v71M1531.5 2838v49M1532.5 2837v40M1533.5 2836v41M1534.5 2836v41M1535.5 2836v42M1536.5 2836v42M1537.5 2836v41M1538.5 2836v41M1539.5 2836v41M1540.5 2837v53M1541.5 2841v59M1542.5 2851v50M1543.5 2851v50M1544.5 2851v50M1545.5 2851v49M1546.5 2851v49M1547.5 2852v48M1548.5 2856v52M1549.5 2863v72M1550.5 2870v77M1551.5 2872v75M1552.5 2896v53M1553.5 2922v29M1554.5 2922v32M1555.5 2922v33M1556.5 2873v1M1556.5 2879v76M1557.5 2871v84M1558.5 2871v83M1559.5 2871v77M1560.5 2871v77M1561.5 2872v76M1562.5 2897v58M1563.5 2916v46M1564.5 2916v46M1565.5 2916v47M1566.5 2888v75M1567.5 2875v87M1568.5 2868v89M1568.5 2960v1M1569.5 2858v71M1570.5 2850v51M1571.5 2849v42M1572.5 2849v42M1573.5 2849v42M1574.5 2850v49M1575.5 2853v46M1576.5 2853v47M1577.5 2853v46M1578.5 2851v48M1579.5 2851v48M1580.5 2851v48M1580.5 2901v1M1581.5 2851v52M1582.5 2852v52M1583.5 2852v52M1584.5 2852v51M1585.5 2804v98M1586.5 2797v102M1587.5 2776v120M1588.5 2766v121M1588.5 2894v1M1589.5 2766v61M1590.5 2765v40M1591.5 2765v24M1592.5 2765v24M1593.5 2733v56M1594.5 2707v82M1595.5 2706v83M1596.5 2705v82M1597.5 2705v47M1598.5 2705v47M1599.5 2705v47M1600.5 2706v57M1601.5 2707v1M1601.5 2710v55M1602.5 2710v55M1603.5 2710v55M1604.5 2710v55M1605.5 2694v71M1606.5 2694v71M1607.5 2693v98M1608.5 2693v99M1609.5 2694v99M1610.5 2695v1M1610.5 2704v88M1611.5 2704v88M1612.5 2704v87M1613.5 2702v83M1614.5 2691v89M1615.5 2680v98M1616.5 2671v69M1617.5 2667v38M1618.5 2660v36M1619.5 2656v34M1620.5 2655v35M1621.5 2655v35M1622.5 2655v37M1623.5 2655v37M1624.5 2652v40M1625.5 2641v51M1626.5 2640v52M1627.5 2640v61M1628.5 2640v75M1629.5 2641v74M1630.5 2655v61M1631.5 2655v60M1632.5 2655v60M1633.5 2645v57M1634.5 2639v46M1635.5 2639v28M1636.5 2639v26M1637.5 2639v26M1638.5 2640v25M1639.5 2641v76M1640.5 2643v109M1641.5 2644v109M1642.5 2645v108M1643.5 2692v61M1644.5 2698v54M1645.5 2698v49M1646.5 2698v46M1647.5 2698v46M1648.5 2698v46M1649.5 2698v47M1650.5 2680v1M1650.5 2684v61M1651.5 2678v66M1652.5 2670v73M1653.5 2662v58M1654.5 2654v42M1655.5 2651v31M1656.5 2645v29M1657.5 2638v28M1658.5 2632v34M1659.5 2628v38M1660.5 2627v73M1661.5 2627v83M1662.5 2627v83M1663.5 2628v82M1664.5 2669v41M1665.5 2683v69M1666.5 2683v70M1667.5 2683v70M1668.5 2683v70M1669.5 2684v68M1670.5 2684v64M1670.5 2750v1M1671.5 2684v49M1672.5 2674v59M1673.5 2674v59M1674.5 2673v70M1675.5 2673v76M1676.5 2674v85M1677.5 2675v1M1677.5 2681v89M1678.5 2726v54M1679.5 2730v51M1680.5 2730v51M1681.5 2730v51M1682.5 2718v63M1683.5 2702v74M1684.5 2693v62M1685.5 2693v45M1686.5 2693v45M1687.5 2693v45M1688.5 2694v54M1689.5 2706v52M1690.5 2714v45M1691.5 2714v46M1692.5 2714v45M1693.5 2697v62M1694.5 2697v58M1694.5 2757v1M1695.5 2696v51M1696.5 2696v51M1697.5 2696v51M1698.5 2696v51M1699.5 2681v66M1700.5 2639v108M1701.5 2621v114M1702.5 2620v89M1703.5 2620v77M1704.5 2620v77M1705.5 2621v76M1706.5 2638v59M1707.5 2638v59M1708.5 2638v58M1709.5 2635v58M1709.5 2694v1M1710.5 2611v1M1710.5 2614v67M1711.5 2609v59M1712.5 2609v59M1713.5 2609v59M1714.5 2609v61M1715.5 2610v72M1716.5 2627v56M1717.5 2638v45M1718.5 2638v45M1719.5 2638v44M1720.5 2630v49M1721.5 2621v44M1722.5 2616v49M1723.5 2615v50M1724.5 2615v64M1725.5 2615v78M1726.5 2616v78M1727.5 2630v64M1728.5 2663v31M1729.5 2663v30M1730.5 2663v29M1731.5 2652v39M1732.5 2622v69M1733.5 2596v94M1734.5 2589v85M1735.5 2568v88M1736.5 2563v73M1737.5 2560v47M1738.5 2556v41M1739.5 2552v26M1740.5 2547v31M1741.5 2546v32M1742.5 2545v36M1743.5 2545v59M1744.5 2546v59M1745.5 2547v58M1746.5 2547v58M1747.5 2547v58M1748.5 2541v58M1749.5 2540v39M1750.5 2540v39M1751.5 2540v39M1752.5 2541v60M1753.5 2552v70M1754.5 2568v69M1755.5 2576v62M1756.5 2580v58M1757.5 2580v58M1758.5 2580v58M1759.5 2542v91M1760.5 2541v76M1761.5 2541v60M1762.5 2541v60M1763.5 2541v60M1764.5 2543v59M1765.5 2551v74M1766.5 2558v71M1767.5 2562v73M1768.5 2585v56M1769.5 2620v52M1770.5 2626v76M1771.5 2632v71M1772.5 2636v67M1773.5 2643v60M1774.5 2643v59M1775.5 2643v53M1775.5 2700v1M1776.5 2643v51M1777.5 2630v64M1778.5 2614v80M1779.5 2601v92M1780.5 2588v99M1781.5 2577v71M1782.5 2574v43M1783.5 2564v43M1784.5 2554v41M1785.5 2551v31M1786.5 2549v29M1787.5 2546v22M1788.5 2543v25M1789.5 2542v26M1790.5 2542v50M1791.5 2542v58M1792.5 2542v86M1793.5 2548v106M1794.5 2578v77M1795.5 2584v72M1796.5 2584v72M1797.5 2584v71M1798.5 2584v70M1799.5 2585v49M1800.5 2585v49M1801.5 2585v49M1802.5 2551v83M1803.5 2549v85M1804.5 2549v84M1805.5 2549v57M1806.5 2549v50M1807.5 2551v48M1808.5 2556v43M1809.5 2556v42M1810.5 2556v42M1811.5 2556v37M1812.5 2556v37M1813.5 2556v37M1814.5 2553v40M1815.5 2548v45M1816.5 2548v44M1817.5 2548v44M1818.5 2548v44M1819.5 2549v43M1820.5 2557v36M1821.5 2557v35M1822.5 2557v35M1823.5 2537v50M1824.5 2517v60M1825.5 2505v62M1826.5 2483v81M1827.5 2473v73M1828.5 2472v71M1829.5 2472v71M1830.5 2472v71M1831.5 2473v71M1832.5 2479v65M1833.5 2479v65M1834.5 2479v65M1835.5 2479v78M1836.5 2479v79M1837.5 2479v79M1838.5 2489v69M1839.5 2529v28M1840.5 2529v28M1841.5 2529v28M1842.5 2529v40M1843.5 2529v44M1844.5 2530v54M1845.5 2544v51M1846.5 2562v41M1847.5 2569v57M1848.5 2579v59M1849.5 2579v60M1850.5 2579v60M1851.5 2568v71M1852.5 2567v72M1853.5 2567v72M1854.5 2567v78M1855.5 2567v79M1856.5 2567v79M1857.5 2558v88M1858.5 2550v96M1859.5 2541v97M1860.5 2540v72M1861.5 2540v72M1862.5 2540v72M1863.5 2541v85M1864.5 2546v103M1865.5 2574v88M1866.5 2601v83M1867.5 2611v1M1867.5 2615v91M1868.5 2639v78M1869.5 2651v66M1870.5 2664v53M1871.5 2664v53M1872.5 2664v52M1873.5 2657v48M1874.5 2657v47M1875.5 2657v47M1876.5 2657v47M1877.5 2658v47M1878.5 2662v43M1879.5 2662v43M1880.5 2662v43M1881.5 2662v60M1882.5 2662v68M1883.5 2662v91M1884.5 2662v92M1885.5 2636v119M1886.5 2635v120M1887.5 2635v119M1888.5 2635v105M1888.5 2752v1M1889.5 2635v29M1890.5 2635v29M1891.5 2635v29M1892.5 2634v30M1893.5 2634v30M1894.5 2634v37M1895.5 2634v37M1896.5 2634v38M1897.5 2622v50M1898.5 2611v60M1899.5 2597v69M1899.5 2669v1M1900.5 2582v64M1901.5 2578v48M1902.5 2576v42M1903.5 2572v33M1904.5 2571v34M1905.5 2571v34M1906.5 2571v48M1907.5 2571v56M1908.5 2576v61M1909.5 2596v47M1910.5 2600v43M1911.5 2600v44M1912.5 2600v43M1913.5 2590v53M1914.5 2580v49M1915.5 2579v50M1916.5 2579v50M1917.5 2573v56M1918.5 2538v91M1919.5 2526v102M1920.5 2506v121M1921.5 2485v107M1922.5 2475v78M1923.5 2474v62M1924.5 2474v62M1925.5 2474v62M1926.5 2475v66M1927.5 2486v79M1928.5 2501v81M1929.5 2517v85M1930.5 2524v99M1930.5 2626v1M1931.5 2560v68M1932.5 2572v57M1933.5 2572v57M1934.5 2572v56M1935.5 2572v55M1936.5 2572v53M1937.5 2572v53M1938.5 2572v53M1939.5 2572v54M1940.5 2559v67M1941.5 2554v71M1942.5 2553v67M1942.5 2623v1M1943.5 2553v62M1944.5 2553v62M1945.5 2554v61M1946.5 2565v51M1947.5 2573v43M1948.5 2573v43M1949.5 2573v43M1950.5 2561v48M1951.5 2550v47M1952.5 2538v59M1953.5 2538v59M1954.5 2537v94M1954.5 2638v1M1955.5 2537v103M1956.5 2538v103M1957.5 2539v102M1958.5 2539v101M1959.5 2539v101M1960.5 2538v79M1961.5 2534v58M1962.5 2530v38M1963.5 2527v41M1964.5 2526v42M1965.5 2526v44M1966.5 2526v58M1967.5 2527v74M1968.5 2541v82M1969.5 2561v84M1970.5 2581v79M1971.5 2591v70M1972.5 2598v63M1973.5 2598v63M1974.5 2598v62M1975.5 2591v65M1976.5 2578v60M1977.5 2565v54M1978.5 2558v43M1979.5 2557v40M1980.5 2557v40M1981.5 2557v40M1982.5 2557v40M1983.5 2557v40M1984.5 2540v57M1985.5 2526v71M1986.5 2525v63M1987.5 2525v53M1988.5 2525v53M1989.5 2526v52M1990.5 2533v51M1991.5 2547v47M1992.5 2561v44M1993.5 2575v40M1994.5 2579v42M1995.5 2579v42M1996.5 2579v42M1997.5 2573v48M1998.5 2563v57M1999.5 2545v65M2000.5 2526v69M2001.5 2509v71M2002.5 2505v67M2002.5 2574v1M2003.5 2494v59M2004.5 2484v50M2005.5 2471v1M2005.5 2473v43M2006.5 2470v46M2007.5 2469v47M2008.5 2469v47M2009.5 2470v52M2010.5 2470v64M2011.5 2489v54M2012.5 2492v52M2013.5 2492v52M2014.5 2492v52M2015.5 2492v51M2016.5 2492v42M2017.5 2491v28M2018.5 2491v28M2019.5 2490v29M2020.5 2491v41M2021.5 2491v51M2022.5 2495v67M2023.5 2511v59M2024.5 2518v53M2025.5 2518v53M2026.5 2518v53M2027.5 2518v52M2028.5 2518v42M2029.5 2518v36M2030.5 2518v36M2031.5 2494v60M2032.5 2488v65M2033.5 2486v67M2034.5 2482v58M2035.5 2478v31M2036.5 2469v22M2037.5 2453v35M2038.5 2437v47M2039.5 2430v51M2040.5 2429v52M2041.5 2429v52M2042.5 2429v54M2043.5 2430v60M2044.5 2444v56M2045.5 2465v45M2046.5 2465v55M2047.5 2465v61M2048.5 2442v84M2049.5 2438v88M2050.5 2431v95M2051.5 2426v99M2052.5 2426v32M2053.5 2425v33M2054.5 2425v33M2055.5 2421v37M2056.5 2398v60M2057.5 2397v61M2058.5 2396v78M2059.5 2396v101M2060.5 2397v109M2061.5 2398v117M2062.5 2447v73M2063.5 2447v74M2064.5 2447v74M2065.5 2442v79M2066.5 2437v83M2067.5 2427v74M2068.5 2416v58M2069.5 2406v41M2070.5 2405v38M2071.5 2404v39M2072.5 2405v38M2073.5 2405v51M2074.5 2405v51M2075.5 2388v69M2076.5 2386v71M2077.5 2380v76M2078.5 2377v72M2078.5 2454v1M2079.5 2376v39M2080.5 2376v39M2081.5 2376v39M2082.5 2377v54M2083.5 2384v63M2084.5 2400v63M2085.5 2412v59M2086.5 2415v57M2087.5 2415v57M2088.5 2415v57M2089.5 2415v56M2090.5 2415v41M2091.5 2415v26M2092.5 2415v26M2093.5 2415v26M2094.5 2402v38M2095.5 2398v42M2096.5 2398v42M2097.5 2398v49M2098.5 2398v69M2099.5 2399v70M2100.5 2414v55M2101.5 2414v55M2102.5 2414v55M2103.5 2406v63M2104.5 2405v146M2105.5 2404v157M2106.5 2404v176M2107.5 2405v193M2108.5 2406v1M2108.5 2479v137M2109.5 2553v64M2110.5 2571v46M2111.5 2581v36M2112.5 2581v36M2113.5 2581v34M2114.5 2565v45M2115.5 2554v51M2116.5 2553v50M2117.5 2553v35M2118.5 2553v20M2119.5 2495v1M2119.5 2503v66M2120.5 2494v75M2121.5 2493v75M2122.5 2493v75M2123.5 2492v38M2124.5 2490v7M2125.5 2469v27M2126.5 2443v1M2126.5 2447v48M2127.5 2442v53M2128.5 2441v53M2129.5 2441v49M2130.5 2441v49M2131.5 2442v48M2132.5 2461v29M2133.5 2471v19M2134.5 2471v31M2135.5 2471v50M2136.5 2471v51M2137.5 2472v52M2138.5 2492v35M2139.5 2513v20M2140.5 2520v54M2141.5 2523v59M2142.5 2526v56M2143.5 2527v162M2144.5 2554v137M2145.5 2565v130M2146.5 2566v133M2147.5 2566v135M2148.5 2644v58M2149.5 2644v58M2150.5 2644v58M2151.5 2643v59M2152.5 2643v59M2153.5 2643v62M2154.5 2644v62M2155.5 2645v1M2155.5 2649v57M2156.5 2655v51M2157.5 2655v50M2158.5 2655v42M2159.5 2649v48M2160.5 2631v66M2161.5 2627v70M2162.5 2621v75M2163.5 2617v56M2164.5 2617v56M2165.5 2616v57M2166.5 2617v73M2167.5 2617v74M2168.5 2635v56M2169.5 2661v34M2170.5 2674v117M2171.5 2674v118M2172.5 2675v117M2173.5 2675v117M2174.5 2745v47M2175.5 2745v47M2176.5 2745v54M2177.5 2745v68M2178.5 2746v68M2179.5 2747v1M2179.5 2752v62M2180.5 2763v51M2181.5 2763v57M2181.5 2826v1M2182.5 2763v66M2183.5 2734v95M2184.5 2673v156M2185.5 2670v159M2186.5 2662v166M2187.5 2655v112M2188.5 2651v48M2189.5 2650v24M2190.5 2650v24M2191.5 2650v24M2192.5 2651v32M2193.5 2656v65M2194.5 2661v99M2194.5 2765v1M2195.5 2666v101M2196.5 2668v100M2197.5 2703v65M2198.5 2703v65M2199.5 2703v64M2200.5 2702v58M2201.5 2682v69M2202.5 2680v65M2203.5 2680v64M2204.5 2680v64M2205.5 2680v64M2206.5 2682v76M2207.5 2700v76M2208.5 2720v75M2209.5 2740v68M2210.5 2749v59M2211.5 2768v41M2212.5 2768v40M2213.5 2768v40M2214.5 2747v58M2215.5 2709v86M2216.5 2693v92M2217.5 2678v97M2218.5 2658v108M2218.5 2770v1M2219.5 2639v89M2220.5 2622v74M2221.5 2592v95M2222.5 2565v102M2223.5 2564v83M2224.5 2563v76M2225.5 2563v76M2226.5 2564v75M2227.5 2565v82M2228.5 2587v72M2229.5 2611v60M2230.5 2635v44M2231.5 2642v43M2232.5 2653v44M2233.5 2665v44M2234.5 2676v44M2235.5 2680v46M2236.5 2680v47M2237.5 2680v47M2238.5 2666v61M2239.5 2656v70M2240.5 2638v74M2241.5 2625v68M2242.5 2616v58M2243.5 2605v59M2243.5 2667v1M2244.5 2594v52M2245.5 2593v40M2246.5 2593v40M2247.5 2593v40M2248.5 2593v55M2248.5 2649v1M2249.5 2594v57M2250.5 2594v58M2251.5 2594v58M2252.5 2594v58M2253.5 2594v57M2254.5 2594v43M2255.5 2595v42M2256.5 2608v29M2257.5 2608v29M2258.5 2608v29M2259.5 2608v33M2260.5 2608v44M2261.5 2609v55M2262.5 2619v66M2263.5 2634v72M2264.5 2649v77M2265.5 2654v73M2266.5 2675v52M2267.5 2694v33M2268.5 2694v33M2269.5 2694v39M2270.5 2693v70M2271.5 2694v70M2272.5 2694v71M2273.5 2717v48M2274.5 2719v46M2275.5 2719v89M2276.5 2720v109M2277.5 2720v110M2278.5 2721v1M2278.5 2729v101M2279.5 2763v67M2280.5 2763v66M2281.5 2763v53M2282.5 2763v35M2283.5 2764v34M2284.5 2771v27M2285.5 2771v34M2286.5 2771v35M2287.5 2751v55M2288.5 2750v95M2289.5 2749v104M2290.5 2749v114M2291.5 2750v124M2292.5 2751v1M2292.5 2842v37M2293.5 2848v32M2294.5 2858v25M2295.5 2869v16M2296.5 2873v15M2297.5 2873v16M2298.5 2873v17M2299.5 2865v25M2300.5 2796v93M2301.5 2795v91M2301.5 2887v1M2302.5 2795v82M2303.5 2795v73M2304.5 2720v115M2305.5 2707v128M2306.5 2700v135M2307.5 2699v135M2308.5 2699v55M2309.5 2699v55M2310.5 2700v54M2311.5 2711v43M2312.5 2711v44M2313.5 2711v53M2314.5 2698v67M2315.5 2646v119M2316.5 2645v120M2317.5 2644v120M2318.5 2645v81M2319.5 2645v52M2320.5 2645v52M2321.5 2641v56M2322.5 2639v58M2323.5 2639v58M2324.5 2639v60M2325.5 2639v84M2326.5 2641v124M2327.5 2666v117M2328.5 2677v107M2329.5 2677v107M2330.5 2677v107M2331.5 2652v131M2332.5 2651v117M2333.5 2648v83M2334.5 2645v49M2335.5 2643v38M2336.5 2642v39M2337.5 2642v39M2338.5 2642v61M2338.5 2706v1M2339.5 2642v67M2340.5 2647v62M2341.5 2664v45M2342.5 2664v45M2343.5 2664v45M2344.5 2663v71M2345.5 2664v95M2346.5 2664v95M2347.5 2664v96M2348.5 2664v95M2349.5 2656v103M2350.5 2651v102M2351.5 2645v74M2352.5 2639v47M2353.5 2632v27M2353.5 2661v1M2354.5 2631v28M2354.5 2661v1M2355.5 2631v28M2355.5 2661v1M2356.5 2631v33M2357.5 2627v37M2358.5 2626v38M2359.5 2625v39M2360.5 2625v38M2361.5 2625v35M2362.5 2625v35M2363.5 2614v46M2364.5 2606v54M2365.5 2605v55M2366.5 2605v71M2367.5 2605v72M2368.5 2605v73M2369.5 2590v88M2370.5 2588v89M2371.5 2582v94M2372.5 2581v78M2373.5 2580v79M2374.5 2580v79M2375.5 2581v83M2376.5 2582v1M2376.5 2587v83M2377.5 2621v57M2378.5 2654v37M2379.5 2660v56M2380.5 2667v73M2380.5 2743v1M2381.5 2674v71M2382.5 2676v1M2382.5 2680v66M2383.5 2689v57M2384.5 2689v57M2385.5 2689v57M2386.5 2656v90M2387.5 2641v104M2388.5 2641v98M2388.5 2743v1M2389.5 2640v76M2390.5 2641v75M2391.5 2641v75M2392.5 2654v74M2393.5 2684v56M2394.5 2701v61M2395.5 2710v68M2396.5 2723v71M2397.5 2727v1M2397.5 2730v79M2398.5 2752v57M2399.5 2774v36M2400.5 2785v24" fill="none" stroke="#0000ff" stroke-width="1" shape-rendering="crispEdges"/>
<text transform="translate(311.3 3913.9) scale(0.968 1)" font-size="87.2" text-anchor="end" font-family='"Liberation Sans", "DejaVu Sans", sans-serif'>0</text>
<text transform="translate(311.3 3642.57) scale(0.968 1)" font-size="87.2" text-anchor="end" font-family='"Liberation Sans", "DejaVu Sans", sans-serif'>0.02</text>
<text transform="translate(311.3 3371.23) scale(0.968 1)" font-size="87.2" text-anchor="end" font-family='"Liberation Sans", "DejaVu Sans", sans-serif'>0.04</text>
<text transform="translate(311.3 3099.9) scale(0.968 1)" font-size="87.2" text-anchor="end" font-family='"Liberation Sans", "DejaVu Sans", sans-serif'>0.06</text>
<text transform="translate(311.3 2828.57) scale(0.968 1)" font-size="87.2" text-anchor="end" font-family='"Liberation Sans", "DejaVu Sans", sans-serif'>0.08</text>
<text transform="translate(311.3 2557.23) scale(0.968 1)" font-size="87.2" text-anchor="end" font-family='"Liberation Sans", "DejaVu Sans", sans-serif'>0.1</text>
<path d="M269.62 2550.12H285.73v8.11H269.62zM292.89 2550.12H308.34v8.11H292.89z" fill="#fff"/>
<text transform="translate(311.3 2285.9) scale(0.968 1)" font-size="87.2" text-anchor="end" font-family='"Liberation Sans", "DejaVu Sans", sans-serif'>0.12</text>
<path d="M222.68 2278.79H238.79v8.11H222.68zM245.95 2278.79H261.4v8.11H245.95z" fill="#fff"/>
<text transform="translate(330.4 3980.4) scale(0.968 1)" font-size="87.2" text-anchor="middle" font-family='"Liberation Sans", "DejaVu Sans", sans-serif'>0</text>
<text transform="translate(847.52 3980.4) scale(0.968 1)" font-size="87.2" text-anchor="middle" font-family='"Liberation Sans", "DejaVu Sans", sans-serif'>2000</text>
<text transform="translate(1364.65 3980.4) scale(0.968 1)" font-size="87.2" text-anchor="middle" font-family='"Liberation Sans", "DejaVu Sans", sans-serif'>4000</text>
<text transform="translate(1881.78 3980.4) scale(0.968 1)" font-size="87.2" text-anchor="middle" font-family='"Liberation Sans", "DejaVu Sans", sans-serif'>6000</text>
<text transform="translate(2398.9 3980.4) scale(0.968 1)" font-size="87.2" text-anchor="middle" font-family='"Liberation Sans", "DejaVu Sans", sans-serif'>8000</text>
<text transform="translate(1364 4095.2) scale(0.984 1)" font-size="114.0" text-anchor="middle" font-family='"Liberation Sans", "DejaVu Sans", sans-serif'>time step</text>
<text transform="translate(90.2 3067.5) rotate(-90) scale(0.984 1)" font-size="114.0" text-anchor="middle" font-family='"Liberation Sans", "DejaVu Sans", sans-serif'>heading RMS/s</text>
<rect x="364" y="2287" width="510" height="232" fill="#fff"/>
<path d="M364 2287H874V2519H364zM368 2292V2515H869V2292z" fill="#000" fill-rule="evenodd" shape-rendering="crispEdges"/>
<rect x="408" y="2350" width="211" height="4" fill="#00ff00" shape-rendering="crispEdges"/>
<text transform="translate(640 2381.8) scale(0.95 1)" font-size="88.5" text-anchor="start" font-family='"Liberation Sans", "DejaVu Sans", sans-serif'>ISEIF</text>
<rect x="408" y="2452" width="211" height="4" fill="#0000ff" shape-rendering="crispEdges"/>
<text transform="translate(640 2483.8) scale(0.95 1)" font-size="88.5" text-anchor="start" font-family='"Liberation Sans", "DejaVu Sans", sans-serif'>SEIF</text>
<text x="1240.3" y="4264.3" text-anchor="middle" font-family='"Liberation Serif", "DejaVu Serif", serif' font-size="84"><tspan font-size="80.5" dy="-3.7">(</tspan><tspan font-weight="bold" dx="1.2" dy="3.7">b</tspan><tspan font-size="80.5" dx="1.6" dy="-3.7">)</tspan></text>
</g>
</svg>
</body>
</html>
